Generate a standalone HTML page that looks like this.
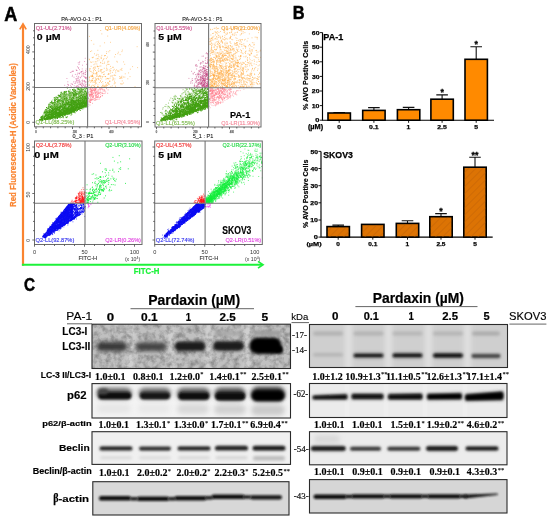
<!DOCTYPE html><html><head><meta charset="utf-8"><style>html,body{margin:0;padding:0;background:#fff;width:550px;height:521px;overflow:hidden}svg{display:block}</style></head><body><svg width="550" height="521" viewBox="0 0 550 521"><defs>
<pattern id="hatch" width="5" height="5" patternUnits="userSpaceOnUse" patternTransform="rotate(45)"><line x1="0" y1="0" x2="0" y2="5" stroke="#bd5f06" stroke-width="0.9"/></pattern>
<filter id="bl10" x="-80%" y="-150%" width="260%" height="400%"><feGaussianBlur stdDeviation="1.0"/></filter><filter id="bl11" x="-80%" y="-150%" width="260%" height="400%"><feGaussianBlur stdDeviation="1.1"/></filter><filter id="bl12" x="-80%" y="-150%" width="260%" height="400%"><feGaussianBlur stdDeviation="1.2"/></filter><filter id="bl13" x="-80%" y="-150%" width="260%" height="400%"><feGaussianBlur stdDeviation="1.3"/></filter><filter id="bl14" x="-80%" y="-150%" width="260%" height="400%"><feGaussianBlur stdDeviation="1.4"/></filter><filter id="bl15" x="-80%" y="-150%" width="260%" height="400%"><feGaussianBlur stdDeviation="1.5"/></filter><filter id="bl16" x="-80%" y="-150%" width="260%" height="400%"><feGaussianBlur stdDeviation="1.6"/></filter><filter id="bl18" x="-80%" y="-150%" width="260%" height="400%"><feGaussianBlur stdDeviation="1.8"/></filter><filter id="bl20" x="-80%" y="-150%" width="260%" height="400%"><feGaussianBlur stdDeviation="2.0"/></filter><filter id="bl25" x="-80%" y="-150%" width="260%" height="400%"><feGaussianBlur stdDeviation="2.5"/></filter><filter id="bl30" x="-80%" y="-150%" width="260%" height="400%"><feGaussianBlur stdDeviation="3.0"/></filter><filter id="nz1" x="0" y="0" width="100%" height="100%"><feTurbulence type="fractalNoise" baseFrequency="0.18" numOctaves="3" seed="4"/><feColorMatrix type="matrix" values="0 0 0 0 0  0 0 0 0 0  0 0 0 0 0  0.6 0 0 0 -0.22"/></filter>
<clipPath id="c92_324"><rect x="92" y="324.2" width="198.5" height="44.30000000000001"/></clipPath><clipPath id="c309_324"><rect x="309.5" y="324.5" width="198.0" height="43.0"/></clipPath><clipPath id="c92_383"><rect x="92" y="383.6" width="198.5" height="34.39999999999998"/></clipPath><clipPath id="c309_383"><rect x="309.5" y="383.5" width="197.5" height="34.0"/></clipPath><clipPath id="c92_431"><rect x="92" y="431.7" width="198.5" height="32.69999999999999"/></clipPath><clipPath id="c309_431"><rect x="309.5" y="431.7" width="197.5" height="33.10000000000002"/></clipPath><clipPath id="c92_481"><rect x="92.8" y="481.7" width="196.2" height="33.30000000000001"/></clipPath><clipPath id="c309_479"><rect x="309.5" y="479.6" width="197.5" height="33.39999999999998"/></clipPath></defs>
<text x="4.15" y="20.90" font-size="19.71" fill="#000" font-weight="bold" font-family="'Liberation Sans', Arial, sans-serif" textLength="13.04" lengthAdjust="spacingAndGlyphs" stroke="#000" stroke-width="0.5">A</text>
<rect x="34.5" y="23.5" width="107.0" height="103.3" fill="#fff"/>
<rect x="155" y="23.5" width="106" height="103.5" fill="#fff"/>
<rect x="34.5" y="141" width="107.5" height="103.5" fill="#fff"/>
<rect x="154.7" y="141" width="107.60000000000002" height="103.5" fill="#fff"/>
<path stroke="#43a012" stroke-width="1" fill="none" d="M78.7 104.6h1M69.4 104.3h1M72.4 97.5h1M48.7 117.7h1M46.5 119.3h1M65.1 113.8h1M81.1 102.7h1M57.7 107.8h1M78.4 99.7h1M68.2 109.9h1M50.6 103.2h1M84.6 91.1h1M82.7 106.1h1M66.5 96.9h1M83.8 100.5h1M66.5 95.9h1M57.2 102.1h1M81.3 100.1h1M85.7 98.5h1M59.7 107.6h1M84.1 104.0h1M78.4 94.7h1M48.6 106.7h1M55.7 111.8h1M82.3 104.2h1M67.0 110.1h1M59.6 113.3h1M77.9 102.7h1M67.7 107.9h1M69.7 103.5h1M75.9 108.5h1M83.1 106.1h1M81.4 92.2h1M40.9 116.7h1M48.2 111.2h1M80.2 104.9h1M55.4 111.7h1M76.0 111.1h1M81.6 106.0h1M48.5 111.3h1M69.9 96.1h1M70.9 110.9h1M77.8 109.5h1M70.4 97.2h1M61.0 112.9h1M71.0 98.4h1M79.1 105.7h1M57.2 109.1h1M75.4 109.5h1M53.5 114.7h1M57.1 109.1h1M73.3 104.1h1M74.1 90.9h1M71.6 92.7h1M75.6 104.2h1M82.3 104.9h1M70.1 109.8h1M75.7 109.2h1M73.8 110.4h1M65.2 107.1h1M57.7 107.1h1M65.5 102.6h1M57.7 104.1h1M60.6 114.5h1M80.6 106.2h1M71.4 111.5h1M64.5 102.2h1M63.9 106.7h1M49.0 111.6h1M63.5 94.3h1M81.5 102.4h1M75.8 106.4h1M47.1 118.3h1M47.0 116.9h1M54.9 113.4h1M63.8 104.5h1M70.1 106.1h1M79.3 98.4h1M65.6 108.6h1M58.8 109.9h1M74.3 110.0h1M78.0 108.9h1M57.4 97.7h1M59.3 110.9h1M47.9 112.6h1M60.6 114.5h1M84.8 100.0h1M54.1 116.3h1M79.0 105.9h1M60.5 114.8h1M69.5 105.7h1M85.5 102.8h1M51.4 115.8h1M59.4 100.9h1M76.3 104.5h1M75.2 108.0h1M60.3 115.4h1M85.5 107.3h1M47.9 116.7h1M39.7 119.6h1M47.9 118.5h1M78.5 107.3h1M71.0 100.3h1M76.3 100.9h1M68.6 114.1h1M68.4 104.6h1M55.2 99.3h1M63.8 111.6h1M80.1 100.4h1M45.4 111.0h1M77.0 109.1h1M77.6 102.1h1M51.9 117.3h1M84.4 102.6h1M52.0 113.5h1M63.9 92.0h1M68.4 113.1h1M74.0 110.1h1M73.5 101.2h1M74.3 95.5h1M60.6 113.0h1M52.1 103.3h1M61.5 110.2h1M67.7 101.0h1M56.8 115.0h1M51.8 116.7h1M85.8 100.2h1M54.5 118.3h1M66.4 104.7h1M65.3 113.6h1M74.4 110.2h1M52.0 110.1h1M75.0 108.0h1M86.4 97.9h1M61.4 97.3h1M68.1 111.0h1M73.4 108.1h1M45.4 115.6h1M86.0 100.2h1M72.6 110.8h1M45.2 119.2h1M55.0 100.3h1M84.3 106.6h1M68.5 108.1h1M74.6 90.6h1M71.8 97.4h1M46.6 119.0h1M86.9 99.4h1M51.8 104.0h1M84.5 105.5h1M84.7 100.7h1M57.1 101.5h1M52.4 110.3h1M48.0 118.8h1M44.1 116.9h1M55.8 109.1h1M46.4 118.9h1M51.2 111.1h1M86.9 95.3h1M52.8 110.3h1M68.2 110.2h1M64.2 92.8h1M68.0 106.4h1M40.7 119.2h1M65.6 101.0h1M83.8 106.2h1M82.4 94.2h1M43.9 117.1h1M55.1 107.9h1M51.6 113.9h1M82.0 106.1h1M86.2 94.7h1M80.8 88.8h1M63.4 105.9h1M73.4 110.4h1M63.3 114.3h1M63.3 111.1h1M60.0 106.8h1M78.5 101.1h1M51.2 116.0h1M63.3 110.1h1M82.8 97.7h1M80.5 103.7h1M69.1 113.7h1M53.0 112.8h1M51.7 114.7h1M45.5 115.6h1M59.7 108.9h1M71.1 112.2h1M53.9 114.2h1M82.2 99.4h1M45.6 119.0h1M85.3 105.3h1M54.4 117.1h1M78.2 99.1h1M59.7 117.8h1M63.7 95.7h1M66.2 104.2h1M69.9 97.4h1M52.8 109.3h1M83.4 103.9h1M66.5 113.8h1M63.8 108.5h1M53.3 105.7h1M41.8 120.1h1M81.9 91.7h1M69.3 102.2h1M63.7 110.4h1M75.7 102.9h1M84.9 105.7h1M73.1 96.8h1M79.1 104.6h1M68.4 102.5h1M45.2 114.2h1M45.0 113.9h1M69.9 109.2h1M83.2 101.4h1M46.8 116.7h1M58.3 114.0h1M51.6 107.7h1M83.8 97.9h1M82.2 101.8h1M72.9 94.8h1M73.6 110.2h1M64.2 106.5h1M63.1 101.0h1M41.4 118.4h1M50.4 109.8h1M64.8 96.3h1M58.8 100.4h1M65.4 95.7h1M73.2 110.3h1M61.2 92.3h1M68.7 104.0h1M86.8 91.1h1M62.8 108.3h1M60.3 113.1h1M85.4 104.4h1M70.8 107.4h1M71.0 106.4h1M66.8 111.6h1M61.4 101.1h1M72.7 101.4h1M57.3 110.6h1M69.8 110.3h1M66.2 108.6h1M45.1 113.1h1M56.5 115.5h1M77.2 107.5h1M67.0 104.3h1M78.7 106.4h1M75.1 90.5h1M53.1 116.0h1M68.5 111.1h1M69.1 104.0h1M50.3 112.4h1M71.5 110.2h1M61.4 112.6h1M61.4 113.6h1M84.7 89.7h1M78.8 103.4h1M54.8 100.2h1M71.9 104.4h1M58.0 109.5h1M77.5 105.9h1M56.1 117.8h1M64.9 114.1h1M55.3 111.4h1M48.2 105.8h1M43.9 118.2h1M62.9 112.1h1M59.4 111.0h1M76.2 107.9h1M52.6 116.3h1M75.5 92.0h1M55.8 112.9h1M86.8 104.9h1M77.4 104.5h1M58.4 109.9h1M69.8 104.5h1M60.8 100.7h1M42.0 119.1h1M59.0 96.7h1M78.0 104.4h1M80.5 100.4h1M54.5 109.8h1M70.7 107.2h1M79.7 90.6h1M62.2 113.7h1M55.2 112.3h1M76.1 107.4h1M57.5 108.8h1M85.7 97.6h1M57.0 109.5h1M79.2 93.9h1M54.6 109.2h1M50.1 117.5h1M63.8 113.5h1M57.3 116.0h1M52.9 115.9h1M57.6 116.7h1M63.8 99.5h1M75.3 102.3h1M73.8 108.8h1M72.8 100.2h1M70.7 110.3h1M51.9 116.1h1M64.7 104.2h1M73.2 112.1h1M64.0 107.4h1M86.2 106.0h1M53.2 114.8h1M53.0 107.7h1M50.0 106.4h1M51.3 114.3h1M62.2 103.5h1M59.8 116.0h1M72.2 106.1h1M56.9 108.1h1M54.8 102.3h1M83.9 93.5h1M82.5 103.7h1M55.8 99.3h1M80.9 95.3h1M55.5 109.8h1M61.1 109.5h1M67.6 100.1h1M72.5 89.8h1M53.8 116.7h1M62.7 97.1h1M78.1 102.3h1M78.0 107.5h1M86.1 95.7h1M84.5 101.4h1M56.3 101.7h1M82.3 95.3h1M55.0 111.8h1M64.9 105.1h1M44.3 111.9h1M83.0 102.1h1M56.1 115.6h1M76.0 97.4h1M61.7 115.4h1M63.1 96.2h1M57.8 117.0h1M78.9 92.3h1M76.2 104.2h1M75.3 110.1h1M53.3 116.9h1M78.8 102.2h1M40.7 119.2h1M62.6 95.8h1M80.1 103.1h1M70.6 94.3h1M75.9 104.3h1M74.8 109.8h1M46.0 117.4h1M51.5 108.8h1M77.7 106.7h1M57.4 107.6h1M64.4 112.2h1M53.4 110.4h1M74.2 94.4h1M66.2 107.1h1M76.8 105.6h1M57.5 105.1h1M67.7 112.7h1M46.6 114.0h1M42.7 116.9h1M87.2 106.2h1M80.1 108.0h1M54.1 111.2h1M80.6 106.7h1M47.7 116.5h1M48.6 117.8h1M56.9 101.4h1M69.1 97.8h1M75.0 101.2h1M63.3 98.0h1M74.9 93.1h1M79.3 107.8h1M60.5 111.6h1M69.5 92.5h1M69.3 97.8h1M62.4 110.2h1M72.6 102.1h1M51.5 118.7h1M86.7 102.6h1M50.7 113.8h1M46.2 112.6h1M87.1 92.0h1M75.3 105.7h1M56.5 108.9h1M76.4 103.5h1M80.6 94.8h1M63.5 110.5h1M80.8 98.2h1M76.3 94.4h1M52.5 103.7h1M53.2 103.8h1M82.8 105.5h1M60.8 98.4h1M81.4 98.2h1M63.7 108.4h1M65.3 111.0h1M73.2 106.4h1M82.2 96.7h1M48.3 116.3h1M55.3 105.2h1M73.0 96.7h1M75.0 102.8h1M76.7 107.1h1M50.3 107.1h1M74.5 98.3h1M69.7 108.6h1M74.7 102.0h1M54.9 115.2h1M69.3 92.1h1M59.0 115.0h1M83.8 99.9h1M64.7 111.7h1M70.8 103.1h1M51.2 116.6h1M40.2 119.6h1M47.8 114.1h1M51.5 102.6h1M75.1 94.8h1M60.4 115.4h1M84.1 96.6h1M57.8 115.3h1M61.5 106.7h1M82.4 98.9h1M58.8 115.9h1M57.9 102.1h1M60.6 105.0h1M51.9 113.0h1M76.7 91.4h1M60.4 96.0h1M45.7 118.9h1M65.6 102.2h1M76.9 105.9h1M77.5 101.8h1M71.3 104.7h1M57.4 100.8h1M82.0 104.9h1M62.1 115.4h1M52.0 106.0h1M48.4 115.1h1M73.9 110.9h1M68.3 91.7h1M62.7 111.9h1M58.0 101.6h1M57.2 114.9h1M78.5 108.3h1M77.8 96.6h1M59.5 114.4h1M69.3 113.1h1M82.1 96.7h1M81.4 98.8h1M59.7 107.6h1M67.3 110.1h1M80.3 107.1h1M69.0 96.1h1M48.7 118.6h1M47.5 118.7h1M68.4 95.1h1M52.9 113.9h1M61.2 112.2h1M59.1 110.6h1M65.6 103.3h1M82.4 89.6h1M84.2 94.4h1M69.3 110.2h1M85.1 106.4h1M84.8 96.3h1M84.2 103.4h1M58.2 107.5h1M62.8 117.7h1M49.7 109.7h1M60.6 106.0h1M65.5 109.3h1M74.5 103.1h1M64.0 98.5h1M82.9 103.2h1M81.7 104.0h1M45.0 112.2h1M53.6 113.9h1M54.0 106.4h1M65.7 93.2h1M48.3 117.1h1M51.6 112.0h1M60.5 115.7h1M73.3 104.0h1M61.9 106.2h1M84.2 98.3h1M57.0 118.5h1M86.1 101.1h1M42.6 116.2h1M50.9 112.1h1M72.3 98.3h1M65.0 115.0h1M71.9 110.7h1M54.6 113.8h1M81.2 102.7h1M84.3 103.3h1M71.2 101.5h1M69.1 98.5h1M78.6 105.4h1M63.9 94.3h1M60.5 92.4h1M49.9 107.6h1M69.0 93.0h1M86.3 103.7h1M80.5 105.1h1M41.7 119.9h1M69.1 104.8h1M66.0 113.3h1M69.6 112.0h1M83.2 106.6h1M63.4 100.5h1M71.4 110.3h1M67.1 108.8h1M50.5 116.9h1M41.0 117.3h1M65.9 98.9h1M74.6 92.8h1M78.3 95.6h1M64.6 111.9h1M54.5 105.6h1M54.8 116.3h1M73.7 111.9h1M85.0 102.2h1M61.7 104.1h1M52.3 116.1h1M76.9 103.7h1M55.3 112.2h1M71.6 111.4h1M73.4 103.6h1M72.4 99.1h1M51.2 116.3h1M62.1 108.4h1M79.4 100.5h1M56.0 104.6h1M54.0 112.9h1M47.9 114.5h1M57.5 112.1h1M65.2 113.7h1M56.5 99.7h1M68.5 111.6h1M58.7 107.1h1M71.5 112.1h1M50.8 118.0h1M81.3 102.2h1M48.8 112.9h1M49.0 113.1h1M54.5 106.0h1M78.9 109.0h1M49.8 102.5h1M86.0 93.6h1M72.1 97.7h1M77.9 101.8h1M60.1 94.5h1M66.3 113.5h1M59.3 113.7h1M81.8 99.9h1M71.5 108.2h1M81.0 94.4h1M46.8 117.3h1M75.5 108.1h1M53.1 107.0h1M59.6 115.5h1M55.7 97.0h1M70.6 111.3h1M58.3 115.4h1M65.1 113.5h1M78.7 107.6h1M53.8 114.3h1M58.0 100.3h1M74.2 106.4h1M54.0 108.0h1M74.2 94.8h1M70.2 107.8h1M54.6 111.9h1M44.5 116.6h1M56.6 115.4h1M85.6 94.5h1M77.2 100.0h1M83.3 103.3h1M66.8 114.6h1M75.1 109.8h1M69.4 110.6h1M66.5 111.0h1M86.8 104.4h1M63.2 113.5h1M73.1 109.9h1M84.7 93.8h1M71.4 100.3h1M62.6 110.0h1M69.1 106.9h1M63.6 96.6h1M73.7 102.3h1M83.1 98.1h1M72.2 111.6h1M57.2 102.5h1M47.4 110.8h1M55.9 109.6h1M76.0 107.5h1M65.9 109.2h1M67.9 108.6h1M58.6 101.0h1M82.9 101.9h1M85.8 103.7h1M74.9 95.6h1M85.8 105.8h1M50.5 115.5h1M45.6 112.1h1M49.2 111.0h1M86.7 104.0h1M84.4 88.6h1M54.8 98.7h1M51.5 112.7h1M87.0 97.1h1M68.2 91.0h1M68.2 92.0h1M58.8 106.5h1M57.9 104.8h1M79.7 110.5h1M78.3 109.0h1M52.1 110.0h1M72.6 107.5h1M79.2 104.5h1M46.4 117.9h1M76.8 88.4h1M59.2 109.2h1M51.4 116.9h1M53.4 108.3h1M55.7 104.6h1M64.4 110.4h1M68.9 95.5h1M69.3 109.2h1M52.7 117.3h1M84.2 101.2h1M44.0 119.5h1M59.3 96.2h1M70.7 113.2h1M81.4 99.5h1M76.1 105.3h1M87.0 107.9h1M84.8 98.2h1M55.2 107.9h1M71.0 112.2h1M60.3 112.6h1M55.2 102.6h1M62.5 109.1h1M87.2 98.0h1M59.8 114.0h1M58.9 111.8h1M56.5 112.5h1M75.4 105.2h1M59.1 113.5h1M68.7 107.1h1M81.7 106.7h1M71.9 109.8h1M72.5 102.6h1M67.0 109.5h1M81.4 108.0h1M56.2 116.2h1M47.6 114.1h1M46.5 119.0h1M62.2 100.3h1M59.7 111.3h1M59.6 109.1h1M55.5 115.4h1M66.3 107.8h1M70.3 112.6h1M85.5 98.1h1M65.6 98.9h1M42.6 117.8h1M65.3 113.2h1M65.1 95.0h1M73.3 109.0h1M65.1 102.4h1M80.3 95.6h1M70.9 112.0h1M67.6 103.7h1M51.5 116.8h1M64.6 111.5h1M67.2 107.2h1M69.1 106.4h1M66.5 111.4h1M72.8 109.7h1M43.9 118.2h1M73.1 109.4h1M63.2 108.2h1M56.0 115.6h1M74.1 102.9h1M70.2 100.0h1M78.1 105.0h1M57.0 101.8h1M48.1 112.0h1M64.7 111.0h1M56.6 97.6h1M50.3 110.8h1M49.6 116.6h1M81.3 106.4h1M81.4 106.2h1M60.4 115.8h1M45.8 118.2h1M61.7 99.7h1M69.1 112.0h1M63.1 112.7h1M46.7 109.9h1M72.2 108.8h1M54.5 117.2h1M50.4 116.0h1M49.8 119.1h1M49.2 112.1h1M53.6 112.7h1M68.0 102.0h1M74.5 105.9h1M81.3 95.7h1M51.2 107.6h1M61.1 107.7h1M53.3 102.6h1M47.5 111.4h1M64.5 109.9h1M65.0 108.5h1M65.4 109.1h1M73.0 102.1h1M71.1 110.6h1M46.1 110.6h1M72.0 89.5h1M51.5 112.0h1M80.3 105.5h1M56.9 109.8h1M67.0 108.5h1M79.9 99.7h1M54.9 115.7h1M66.5 105.7h1M48.7 116.5h1M48.9 111.2h1M50.5 116.8h1M71.5 107.0h1M65.9 102.0h1M60.2 106.6h1M58.9 112.7h1M65.5 113.7h1M56.5 113.2h1M84.8 98.4h1M49.0 110.6h1M69.2 109.2h1M74.4 89.5h1M56.4 113.7h1M84.6 92.1h1M62.6 105.5h1M87.1 102.9h1M52.2 116.6h1M57.9 99.6h1M78.1 99.8h1M72.9 106.3h1M58.6 114.8h1M63.8 96.2h1M58.4 113.6h1M58.1 95.6h1M74.5 102.3h1M80.1 101.7h1M81.1 106.5h1M59.8 114.3h1M86.6 104.8h1M76.9 110.6h1M83.0 102.3h1M59.8 111.3h1M70.2 104.3h1M78.8 102.2h1M41.3 118.1h1M78.0 101.4h1M64.7 91.6h1M55.9 108.9h1M45.1 115.5h1M81.8 99.9h1M77.8 100.3h1M85.0 95.0h1M44.6 110.4h1M57.3 100.1h1M58.2 115.7h1M48.1 111.2h1M68.4 102.6h1M65.0 101.2h1M79.8 92.2h1M81.8 107.1h1M54.2 104.8h1M42.2 119.8h1M86.1 96.8h1M79.5 96.9h1M73.5 94.1h1M83.9 105.3h1M72.1 100.5h1M72.7 101.5h1M83.9 102.1h1M75.8 93.5h1M65.5 105.0h1M73.5 111.3h1M58.6 106.9h1M73.2 104.9h1M81.2 104.6h1M74.9 102.5h1M62.3 112.5h1M68.1 107.1h1M75.0 104.2h1M50.3 118.1h1M60.4 108.7h1M71.3 112.1h1M79.7 90.5h1M81.5 98.1h1M55.9 108.1h1M80.0 92.7h1M58.7 116.5h1M80.5 98.3h1M68.7 93.8h1M51.3 117.7h1M84.6 96.4h1M47.0 119.0h1M78.1 103.5h1M64.5 114.8h1M57.9 116.2h1M55.2 111.7h1M69.2 92.7h1M55.9 114.8h1M54.6 99.9h1M84.6 102.1h1M48.4 116.3h1M82.8 103.5h1M45.7 112.0h1M70.3 107.6h1M75.0 107.4h1M84.1 106.7h1M67.6 110.9h1M50.2 106.3h1M49.8 109.9h1M68.2 110.6h1M55.2 107.9h1M58.9 112.3h1M76.1 94.1h1M78.2 100.9h1M57.0 105.8h1M59.9 116.8h1M60.3 106.9h1M44.2 116.2h1M59.2 116.1h1M49.6 118.0h1M50.3 107.7h1M52.3 107.7h1M62.2 112.3h1M53.6 108.9h1M69.6 110.3h1M65.8 109.8h1M83.8 96.2h1M83.1 95.4h1M72.8 101.8h1M57.2 106.4h1M73.9 105.9h1M60.4 96.9h1M55.5 113.0h1M72.5 111.3h1M50.7 110.9h1M71.1 104.1h1M47.2 115.7h1M87.3 98.8h1M86.3 105.0h1M53.9 109.2h1M46.7 113.2h1M69.9 102.7h1M55.2 107.8h1M84.7 104.2h1M82.3 97.0h1M57.8 115.0h1M71.6 103.9h1M62.6 105.6h1M60.0 103.9h1M57.3 110.1h1M71.0 110.3h1M62.1 109.4h1M66.4 114.4h1M86.1 101.2h1M64.7 113.1h1M63.3 113.5h1M78.8 107.6h1M62.4 104.2h1M50.4 115.0h1M59.5 111.1h1M85.8 96.6h1M67.8 108.3h1M80.1 108.4h1M64.4 107.2h1M71.8 92.8h1M57.1 114.1h1M66.1 117.6h1M78.8 100.2h1M81.5 91.8h1M55.0 106.9h1M49.3 112.5h1M79.1 89.4h1M57.3 108.0h1M79.3 95.9h1M80.0 97.9h1M85.7 103.4h1M79.2 107.1h1M84.0 106.2h1M79.0 108.6h1M49.0 104.1h1M52.4 110.2h1M81.7 107.2h1M78.6 106.2h1M72.9 95.9h1M69.7 101.7h1M45.3 109.7h1M82.3 101.2h1M69.5 99.8h1M77.4 103.0h1M86.5 93.9h1M50.9 113.7h1M79.3 107.6h1M76.0 95.8h1M43.2 118.3h1M82.9 102.5h1M73.3 110.9h1M83.8 99.5h1M79.7 106.5h1M74.2 108.0h1M69.4 112.1h1M67.4 111.5h1M55.2 117.1h1M73.4 92.3h1M54.7 114.3h1M71.2 112.7h1M62.8 104.9h1M85.5 101.8h1M75.6 110.1h1M81.2 103.8h1M50.9 118.4h1M83.5 98.2h1M63.8 91.8h1M79.6 88.9h1M56.8 104.1h1M53.5 109.1h1M50.4 113.8h1M50.1 118.1h1M52.3 102.9h1M67.0 103.5h1M68.7 96.1h1M64.4 103.2h1M84.4 96.4h1M72.9 104.4h1M54.3 107.3h1M84.6 97.7h1M75.1 107.6h1M75.7 100.8h1M59.1 112.7h1M67.7 99.4h1M65.8 98.5h1M48.7 115.1h1M70.4 94.9h1M66.6 112.1h1M70.2 112.1h1M70.2 93.5h1M74.4 108.2h1M54.7 108.9h1M55.4 111.6h1M66.5 112.9h1M68.6 110.9h1M52.6 117.5h1M74.3 108.0h1M67.6 111.6h1M76.5 100.1h1M62.7 114.7h1M54.5 102.9h1M44.7 119.7h1M79.1 105.3h1M80.3 104.5h1M75.1 108.8h1M57.0 109.1h1M56.1 108.6h1M50.9 113.9h1M64.9 113.0h1M62.2 114.5h1M59.6 113.7h1M60.0 113.5h1M60.5 114.1h1M72.8 94.2h1M64.8 112.5h1M87.2 92.4h1M85.3 102.8h1M73.8 93.7h1M76.5 104.3h1M62.6 109.2h1M62.7 116.5h1M76.0 94.0h1M79.1 104.8h1M58.4 109.7h1M80.5 101.5h1M71.4 96.1h1M74.1 96.1h1M46.7 115.5h1M85.2 106.1h1M74.6 107.7h1M80.8 93.4h1M83.4 107.8h1M82.9 94.8h1M70.9 107.7h1M64.9 112.5h1M76.5 98.5h1M53.1 117.5h1M55.4 108.2h1M75.3 97.8h1M73.8 105.0h1M53.9 116.9h1M68.6 94.8h1M63.2 113.9h1M73.4 100.3h1M48.0 107.2h1M56.7 105.1h1M75.8 100.9h1M54.1 99.2h1M65.1 99.5h1M41.8 120.8h1M79.7 95.3h1M73.7 91.7h1M51.0 102.7h1M73.2 94.4h1M50.8 106.4h1M65.3 106.3h1M41.0 120.0h1M82.0 102.6h1M58.9 114.3h1M75.9 102.4h1M69.5 109.9h1M72.8 104.0h1M67.9 102.3h1M84.3 91.2h1M50.2 117.9h1M39.6 119.3h1M73.1 97.9h1M56.0 106.3h1M80.6 106.3h1M61.7 94.1h1M44.4 118.6h1M64.8 114.2h1M73.8 108.6h1M71.5 103.1h1M51.4 106.3h1M58.3 113.7h1M52.2 109.6h1M72.7 108.8h1M86.4 101.3h1M83.5 107.1h1M45.3 109.8h1M42.4 118.8h1M76.2 99.5h1M68.0 109.4h1M56.4 113.9h1M71.9 108.3h1M68.4 91.5h1M52.6 115.3h1M60.2 115.7h1M49.1 117.9h1M70.6 110.0h1M49.9 111.8h1M54.5 107.0h1M73.6 111.4h1M84.5 91.2h1M60.4 111.4h1M62.4 93.6h1M64.4 99.3h1M66.6 112.2h1M84.2 103.2h1M77.4 106.2h1M79.3 102.2h1M66.3 98.1h1M62.5 96.7h1M75.7 108.4h1M74.3 96.4h1M70.8 104.8h1M51.4 108.1h1M70.6 110.2h1M77.4 89.7h1M79.7 102.1h1M49.3 117.5h1M50.8 113.2h1M49.5 112.6h1M64.0 105.0h1M58.5 115.5h1M60.3 96.7h1M69.9 98.1h1M85.4 101.8h1M56.7 109.4h1M55.6 106.0h1M73.2 101.7h1M82.9 106.0h1M68.7 112.5h1M70.9 98.8h1M80.2 99.6h1M70.2 99.3h1M57.3 106.8h1M57.5 113.3h1M66.2 110.5h1M73.8 104.4h1M46.6 111.6h1M55.6 99.6h1M78.6 103.8h1M83.1 107.2h1M61.8 115.1h1M79.4 105.8h1M66.3 109.8h1M58.5 109.7h1M69.9 108.7h1M72.9 106.9h1M67.0 100.3h1M61.3 110.3h1M48.8 114.7h1M47.5 118.5h1M45.6 115.0h1M49.1 114.5h1M73.2 106.9h1M61.2 114.8h1M82.3 105.0h1M67.6 103.8h1M80.7 89.2h1M61.8 111.7h1M55.1 113.6h1M53.7 112.9h1M72.2 107.0h1M50.5 113.2h1M66.4 94.1h1M51.0 117.2h1M77.9 88.4h1M66.3 110.4h1M71.6 108.1h1M57.2 114.8h1M79.0 108.5h1M74.5 105.2h1M62.5 108.0h1M55.1 115.1h1M48.7 111.5h1M61.8 114.0h1M76.7 93.6h1M74.1 110.3h1M66.0 112.6h1M68.9 108.9h1M78.2 104.6h1M66.2 91.4h1M71.8 100.3h1M76.1 105.2h1M66.0 100.3h1M67.6 113.7h1M85.9 103.8h1M52.8 113.4h1M65.6 109.9h1M84.7 91.5h1M51.9 118.8h1M72.9 101.3h1M57.1 116.8h1M56.1 112.3h1M52.8 116.8h1M72.3 107.5h1M84.7 98.4h1M65.8 97.5h1M71.8 109.1h1M81.3 101.2h1M80.4 90.5h1M54.9 114.8h1M61.0 106.1h1M39.4 120.3h1M58.6 116.3h1M60.1 112.0h1M85.3 98.9h1M80.5 104.1h1M71.8 93.7h1M83.5 100.5h1M79.4 105.5h1M79.0 106.2h1M59.8 110.5h1M70.4 112.7h1M76.8 101.0h1M41.7 116.6h1M73.6 106.1h1M84.6 99.7h1M73.5 112.5h1M60.4 101.3h1M81.3 103.6h1M48.9 109.9h1M71.5 100.6h1M80.4 103.1h1M64.7 114.1h1M61.4 103.2h1M77.7 97.5h1M48.4 114.9h1M49.8 118.0h1M46.1 114.3h1M44.6 115.4h1M60.6 93.5h1M68.6 109.5h1M75.5 106.3h1M67.0 104.1h1M66.0 111.1h1M66.9 111.3h1M81.0 105.5h1M77.7 101.7h1M59.0 105.1h1M85.6 97.9h1M71.9 111.0h1M46.2 113.5h1M53.0 116.1h1M86.0 95.7h1M57.1 107.9h1M58.2 109.6h1M47.8 108.6h1M74.6 112.8h1M63.5 111.5h1M85.9 88.0h1M53.4 110.9h1M49.8 114.5h1M86.7 93.8h1M47.1 118.0h1M72.4 109.6h1M68.7 93.5h1M76.8 107.5h1M79.0 104.0h1M83.9 105.7h1M48.4 108.8h1M76.1 104.7h1M53.0 116.1h1M51.3 115.0h1M81.5 94.9h1M71.7 107.5h1M80.5 102.5h1M78.2 100.2h1M69.8 105.1h1M54.3 104.3h1M43.3 113.1h1M53.8 104.4h1M73.1 103.2h1M81.3 107.5h1M67.7 107.4h1M47.7 112.6h1M70.1 97.3h1M63.6 114.5h1M71.1 103.4h1M54.5 114.0h1M76.4 98.2h1M55.3 99.2h1M65.4 107.2h1M48.8 118.8h1M77.4 99.8h1M53.6 106.9h1M84.1 105.2h1M71.9 106.4h1M58.0 95.7h1M84.5 104.3h1M70.6 105.8h1M48.4 117.6h1M84.7 103.2h1M70.3 112.0h1M85.4 104.8h1M73.7 100.6h1M44.9 113.9h1M60.6 114.0h1M46.8 108.5h1M69.5 109.9h1M66.2 103.3h1M58.6 117.4h1M85.6 98.1h1M81.7 107.1h1M85.8 105.6h1M73.4 98.0h1M49.4 106.2h1M85.0 106.0h1M40.6 117.2h1M71.0 111.3h1M54.9 117.3h1M79.5 98.3h1M81.9 103.3h1M70.9 103.7h1M78.8 107.1h1M51.1 114.4h1M70.0 111.7h1M71.3 102.6h1M63.5 104.1h1M73.0 95.5h1M61.6 111.9h1M61.0 115.4h1M53.8 117.2h1M71.8 111.9h1M45.8 118.2h1M63.8 104.8h1M76.2 101.1h1M73.0 107.6h1M48.7 110.5h1M52.3 111.6h1M74.7 110.3h1M76.9 107.3h1M81.4 93.3h1M71.9 107.9h1M65.9 110.7h1M50.4 112.1h1M47.9 118.3h1M58.6 102.0h1M58.1 110.4h1M65.6 110.9h1M49.1 111.0h1M61.7 105.8h1M73.2 110.8h1M80.5 91.3h1M61.5 115.3h1M71.8 99.4h1M69.8 102.4h1M60.5 112.2h1M66.8 116.8h1M63.5 111.0h1M71.3 110.5h1M82.8 100.1h1M52.4 109.8h1M60.2 105.5h1M59.6 114.0h1M85.7 100.1h1M75.3 92.0h1M48.4 117.3h1M41.8 117.2h1M86.3 100.3h1M57.7 95.8h1M84.3 103.3h1M57.5 112.4h1M55.6 113.6h1M74.2 104.9h1M86.1 95.8h1M69.5 112.8h1M81.5 89.4h1M63.6 107.9h1M76.2 100.7h1M53.7 104.1h1M72.1 105.7h1M73.0 95.0h1M64.6 104.4h1M59.3 110.3h1M65.1 98.6h1M57.5 114.9h1M56.8 106.4h1M49.7 119.1h1M73.1 109.8h1M63.4 112.1h1M59.0 110.2h1M52.5 115.8h1M59.0 107.6h1M70.6 111.8h1M45.8 118.5h1M65.4 104.3h1M71.1 101.5h1M65.1 102.7h1M65.1 100.6h1M67.3 109.1h1M67.7 107.9h1M73.6 110.9h1M72.2 103.5h1M76.8 104.7h1M41.2 118.9h1M85.4 103.9h1M69.2 113.4h1M48.0 118.8h1M71.5 105.6h1M49.6 116.7h1M62.2 101.8h1M50.9 111.7h1M78.5 108.6h1M43.1 117.2h1M80.5 91.0h1M72.6 89.8h1M75.2 108.1h1M84.6 92.3h1M78.0 96.7h1M58.1 112.2h1M39.7 119.5h1M59.5 111.8h1M42.4 115.7h1M70.1 97.1h1M61.9 113.0h1M78.8 91.5h1M62.5 107.0h1M62.0 107.3h1M82.0 104.0h1M56.4 107.1h1M64.7 92.4h1M57.3 105.6h1M84.6 104.9h1M44.0 118.4h1M84.9 95.0h1M87.1 93.4h1M73.4 97.9h1M80.4 90.2h1M61.6 115.2h1M51.8 110.4h1M77.6 108.9h1M79.5 91.7h1M71.2 100.0h1M72.7 111.3h1M70.9 109.5h1M72.8 98.8h1M49.6 114.2h1M67.6 105.8h1M51.8 116.0h1M77.1 103.2h1M51.1 118.4h1M59.0 116.9h1M77.0 104.9h1M83.1 94.2h1M86.4 106.3h1M75.1 100.4h1M74.9 110.2h1M70.2 95.1h1M54.8 115.6h1M55.3 117.1h1M59.4 101.9h1M78.7 91.2h1M77.8 97.7h1M70.8 103.9h1M85.8 98.9h1M73.9 108.6h1M75.0 94.0h1M59.2 112.9h1M86.1 104.4h1M70.9 103.3h1M68.2 102.1h1M85.2 91.5h1M48.4 108.1h1M69.6 95.9h1M57.7 114.1h1M60.9 106.5h1M74.8 102.2h1M87.0 103.4h1M73.4 109.4h1M68.3 95.0h1M45.2 115.5h1M77.3 107.4h1M45.8 119.2h1M71.7 92.4h1M54.1 101.3h1M62.1 116.1h1M53.2 116.6h1M59.4 114.0h1M69.1 106.1h1M48.3 111.9h1M74.2 110.7h1M72.4 109.3h1M62.3 98.7h1M46.8 115.7h1M49.4 107.8h1M68.7 105.1h1M86.3 97.4h1M79.3 96.2h1M50.8 115.0h1M73.2 104.5h1M86.0 101.6h1M62.6 104.2h1M77.3 106.5h1M51.7 108.1h1M61.5 114.9h1M57.9 115.6h1M58.8 116.0h1M61.8 101.5h1M70.5 115.1h1M59.2 96.0h1M59.4 115.1h1M71.4 99.0h1M83.4 92.2h1M62.1 113.5h1M70.2 112.0h1M63.5 113.5h1M73.0 108.3h1M52.8 112.6h1M82.9 102.5h1M59.3 96.1h1M58.8 112.5h1M52.5 116.7h1M60.6 114.5h1M63.3 111.0h1M53.1 119.0h1M59.0 107.9h1M84.8 102.8h1M47.0 112.5h1M57.0 117.6h1M65.4 117.1h1M80.0 95.2h1M54.1 114.5h1M51.1 111.3h1M85.9 99.2h1M68.1 113.3h1M44.3 118.5h1M85.4 102.9h1M70.9 110.8h1M49.0 116.3h1M81.8 90.8h1M59.3 110.6h1M83.9 95.1h1M60.8 114.0h1M45.1 115.8h1M80.5 91.2h1M65.1 113.8h1M74.5 96.2h1M71.3 114.2h1M55.6 112.0h1M40.5 117.7h1M54.0 107.5h1M59.6 96.3h1M57.7 101.1h1M76.7 110.4h1M56.2 103.6h1M81.1 108.6h1M51.5 113.8h1M44.4 118.8h1M64.4 112.8h1M63.7 103.9h1M59.0 99.8h1M57.9 104.0h1M65.0 104.1h1M56.7 116.8h1M39.3 119.6h1M54.1 99.6h1M56.4 114.5h1M64.2 110.8h1M57.0 98.1h1M48.8 111.3h1M55.2 115.1h1M41.8 118.9h1M79.9 95.9h1M65.5 94.5h1M86.3 102.4h1M45.3 115.8h1M63.7 112.4h1M66.9 88.0h1M45.5 116.7h1M51.6 118.1h1M63.2 111.4h1M54.3 102.5h1M46.2 115.3h1M52.1 113.6h1M82.2 104.2h1M54.9 110.5h1M64.3 110.5h1M44.5 112.2h1M63.9 115.2h1M50.6 118.1h1M49.0 116.5h1M71.2 95.2h1M53.2 114.3h1M73.5 101.0h1M70.1 99.6h1M74.2 101.6h1M69.6 89.9h1M55.7 108.6h1M68.3 101.4h1M70.9 110.3h1M54.3 108.2h1M41.0 119.3h1M52.5 106.6h1M64.9 111.3h1M60.4 115.2h1M62.9 101.6h1M51.8 115.8h1M73.4 91.0h1M60.0 115.4h1M54.4 112.6h1M64.3 111.7h1M56.1 113.2h1M60.5 94.8h1M47.5 118.6h1M44.3 116.8h1M71.9 105.9h1M48.6 114.7h1M48.2 104.3h1M63.6 113.7h1M43.6 118.8h1M80.7 103.4h1M46.9 115.0h1M54.5 99.2h1M67.2 100.9h1M52.1 111.9h1M54.5 117.9h1M76.1 106.7h1M80.7 106.1h1M87.2 104.6h1M83.9 91.2h1M61.3 100.3h1M84.1 103.9h1M57.9 113.3h1M70.4 104.8h1M84.5 104.6h1M83.0 89.2h1M57.7 115.4h1M50.6 117.5h1M66.8 112.9h1M48.1 115.5h1M44.9 118.9h1M72.6 111.4h1M56.8 109.8h1M48.3 117.3h1M45.8 109.4h1M72.4 108.8h1M63.2 102.6h1M83.9 103.3h1M62.1 97.9h1M55.3 117.4h1M67.7 110.7h1M81.8 101.5h1M57.9 112.4h1M81.6 103.4h1M80.0 108.5h1M44.1 112.6h1M63.0 107.0h1M45.1 119.9h1M79.7 108.8h1M66.0 102.9h1M66.6 111.2h1M75.4 109.8h1M65.3 114.0h1M79.4 96.5h1M64.1 107.3h1M76.4 105.6h1M55.5 97.4h1M58.4 108.7h1M83.2 104.0h1M71.6 93.2h1M63.5 109.2h1M59.3 96.3h1M86.1 100.8h1M80.7 103.4h1M79.1 104.3h1M49.1 113.9h1M55.5 112.1h1M72.0 110.8h1M49.6 118.1h1M65.8 109.2h1M60.2 99.6h1M63.4 114.9h1M57.5 113.6h1M81.8 97.2h1M64.1 111.0h1M79.5 103.7h1M87.2 98.2h1M70.9 103.0h1M69.8 101.7h1M64.8 97.2h1M58.5 114.7h1M56.5 107.1h1M82.1 100.0h1M78.1 89.5h1M75.5 107.8h1M66.2 113.5h1M45.2 114.4h1M73.7 106.8h1M76.8 100.0h1M68.2 104.0h1M64.9 99.1h1M58.2 114.6h1M63.9 93.4h1M65.1 114.7h1M46.1 115.7h1M70.9 105.3h1M70.9 105.5h1M84.0 104.2h1M69.9 102.5h1M59.1 110.6h1M84.9 106.0h1M59.4 103.6h1M55.8 108.9h1M68.1 104.2h1M54.3 116.3h1M40.7 117.8h1M68.0 114.0h1M48.3 106.5h1M44.1 117.0h1M85.7 103.2h1M83.2 101.0h1M67.9 112.7h1M84.7 97.6h1M54.7 108.1h1M57.2 113.1h1M72.6 90.3h1M54.0 100.5h1M58.9 95.4h1M64.3 98.4h1M86.0 88.5h1M74.9 92.2h1M76.2 102.8h1M83.1 103.4h1M52.1 108.6h1M65.8 91.7h1M86.0 95.8h1M74.3 103.8h1M57.4 101.9h1M76.7 103.5h1M66.8 112.7h1M40.3 119.9h1M63.2 99.4h1M70.3 109.3h1M70.9 105.4h1M59.2 115.1h1M82.5 95.6h1M58.3 109.5h1M77.6 99.9h1M51.2 101.2h1M74.5 99.4h1M53.6 111.4h1M49.7 114.6h1M50.7 110.3h1M66.6 94.7h1M44.3 116.3h1M77.8 102.2h1M54.7 116.4h1M78.3 109.4h1M73.2 108.8h1M76.6 97.2h1M67.0 111.6h1M86.1 102.7h1M66.6 108.9h1M69.5 112.4h1M61.9 112.6h1M73.8 104.8h1M67.0 108.9h1M56.0 104.5h1M83.9 104.5h1M63.8 107.9h1M50.9 105.3h1M73.1 111.2h1M66.2 113.4h1M45.5 116.8h1M54.8 118.9h1M76.6 109.3h1M69.8 92.3h1M55.5 113.0h1M60.5 98.1h1M78.5 93.4h1M46.9 115.1h1M72.6 93.5h1M80.5 103.5h1M84.6 97.4h1M74.3 109.7h1M82.6 92.3h1M80.5 96.8h1M41.3 120.0h1M77.7 108.4h1M51.5 108.2h1M83.1 99.0h1M70.8 102.0h1M55.8 112.1h1M74.4 107.9h1M62.2 102.4h1M47.7 117.8h1M73.5 91.7h1M79.1 100.8h1M82.6 100.7h1M56.9 103.1h1M44.3 113.1h1M71.8 108.7h1M69.1 104.2h1M66.8 98.7h1M81.9 107.1h1M64.5 91.8h1M57.7 112.3h1M44.5 114.0h1M84.8 103.3h1M56.0 110.4h1M79.9 96.2h1M72.4 100.6h1M53.1 117.4h1M57.4 117.5h1M59.4 106.3h1M79.1 108.5h1M68.5 111.5h1M46.0 107.5h1M80.0 104.1h1M62.7 109.9h1M65.2 105.9h1M55.5 110.4h1M75.2 107.4h1M78.7 91.8h1M63.8 98.0h1M63.6 110.3h1M81.4 94.5h1M64.3 109.4h1M74.6 92.5h1M53.2 112.4h1M52.1 111.6h1M79.9 106.7h1M55.1 112.0h1M77.5 108.4h1M54.7 100.9h1M77.5 94.2h1M69.6 109.8h1M59.1 108.5h1M73.9 102.4h1M56.3 113.0h1M77.8 99.9h1M87.1 88.7h1M73.4 109.8h1M71.0 108.5h1M47.8 117.3h1M41.9 119.3h1M79.8 96.8h1M76.7 107.0h1M80.2 98.2h1M83.1 106.3h1M69.1 112.4h1M52.1 110.6h1M84.4 105.7h1M69.4 110.7h1M75.7 106.8h1M51.8 114.9h1M55.0 114.8h1M59.8 104.2h1M77.9 98.1h1M70.5 113.0h1M53.1 114.2h1M76.5 93.2h1M52.8 111.6h1M75.1 105.0h1M70.1 104.9h1M50.8 110.3h1M55.4 110.2h1M45.7 118.2h1M62.1 110.0h1M79.6 100.2h1M82.3 108.9h1M72.8 101.0h1M67.3 102.6h1M80.7 108.6h1M75.1 101.7h1M74.8 106.4h1M57.2 112.0h1M51.4 108.4h1M48.8 112.3h1M72.8 107.7h1M74.1 101.3h1M62.9 102.0h1M73.3 106.6h1M48.9 109.6h1M48.6 118.9h1M60.8 111.7h1M86.7 101.3h1M55.2 114.4h1M82.6 89.8h1M78.6 93.3h1M71.3 108.9h1M61.6 104.4h1M67.3 104.6h1M63.6 107.2h1M59.2 103.2h1M46.2 111.5h1M50.8 114.5h1M54.4 109.8h1M69.2 106.9h1M69.2 99.7h1M87.1 97.3h1M55.6 116.7h1M69.7 108.8h1M78.0 102.3h1M59.0 109.6h1M57.3 97.8h1M81.7 99.8h1M70.0 100.0h1M69.6 108.4h1M72.6 107.1h1M63.1 97.8h1M44.8 112.9h1M63.6 114.2h1M72.2 108.2h1M82.0 105.1h1M52.6 109.6h1M74.5 110.2h1M54.1 111.5h1M86.0 97.6h1M68.5 110.8h1M58.6 111.9h1M72.5 101.8h1M60.9 110.3h1M85.0 104.1h1M60.8 102.1h1M68.2 102.8h1M52.3 114.6h1M70.3 111.6h1M72.0 102.7h1M70.7 109.6h1M75.1 103.7h1M54.7 103.7h1M79.4 107.7h1M75.0 110.8h1M77.5 94.2h1M52.8 103.1h1M44.7 111.9h1M77.4 97.4h1M79.7 107.7h1M57.8 101.9h1M57.8 113.3h1M53.7 105.2h1M45.7 113.5h1M86.7 104.8h1M72.9 111.4h1M72.6 93.4h1M63.7 115.2h1M86.2 97.4h1M83.8 105.7h1M57.4 114.2h1M63.1 112.3h1M67.5 97.9h1M51.5 115.8h1M86.1 92.6h1M69.0 93.2h1M68.6 102.3h1M49.6 104.6h1M70.4 100.2h1M77.0 110.0h1M82.1 103.5h1M47.9 118.9h1M81.7 104.5h1M85.2 106.8h1M68.7 113.0h1M54.8 115.8h1M80.8 108.3h1M82.9 96.2h1M62.9 94.1h1M69.9 109.8h1M66.1 109.1h1M43.8 112.1h1M79.1 103.6h1M79.4 98.4h1M45.0 119.2h1M77.0 103.8h1M44.6 119.1h1M52.3 116.3h1M75.8 94.7h1M41.3 120.3h1M64.1 99.8h1M64.4 107.9h1M73.9 91.3h1M47.0 119.4h1M70.8 102.8h1M52.4 103.3h1M48.4 113.7h1M48.8 110.7h1M59.2 108.3h1M76.6 106.9h1M84.0 105.9h1M39.7 119.7h1M81.5 97.9h1M42.8 119.9h1M51.9 106.7h1M55.0 98.4h1M83.9 101.8h1M72.2 101.0h1M55.7 116.4h1M66.2 101.0h1M84.5 104.4h1M41.8 117.9h1M70.6 92.8h1M57.7 113.6h1M77.0 100.6h1M65.5 110.3h1M79.2 103.0h1M46.0 118.4h1M78.6 93.6h1M65.0 108.2h1M59.6 100.5h1M64.7 111.1h1M79.2 98.0h1M73.1 106.2h1M83.4 105.8h1M73.8 103.1h1M79.3 108.6h1M51.7 113.7h1M80.1 106.4h1M82.1 107.0h1M49.9 115.9h1M58.1 114.6h1M62.3 116.2h1M51.5 117.5h1M51.3 101.7h1M86.2 100.7h1M53.8 97.5h1M54.9 111.3h1M66.1 99.8h1M47.3 117.6h1M66.6 102.4h1M68.2 110.5h1M52.4 117.5h1M86.9 101.1h1M56.5 118.2h1M65.5 102.4h1M49.3 119.0h1M80.6 100.2h1M41.8 116.3h1M67.6 110.4h1M66.3 113.4h1M60.6 95.2h1M66.0 112.6h1M68.7 99.9h1M66.8 110.8h1M80.2 95.9h1M73.7 108.7h1M82.2 106.9h1M68.5 105.6h1M66.4 112.0h1M54.0 109.3h1M61.3 117.5h1M64.8 108.7h1M47.4 112.2h1M56.0 109.0h1M64.8 105.3h1M65.5 111.8h1M60.3 115.5h1M79.6 101.7h1M68.1 110.5h1M66.0 102.6h1M86.6 102.3h1M74.2 108.3h1M69.5 104.6h1M85.5 96.7h1M78.2 92.6h1M58.7 113.7h1M65.3 105.2h1M71.5 109.2h1M58.3 113.6h1M84.9 103.7h1M56.7 113.8h1M75.5 95.7h1M85.9 93.8h1M77.9 109.3h1"/>
<path stroke="#8cc864" stroke-width="0.9" fill="none" stroke-opacity="0.9" d="M63.0 92.4h0.9M62.0 94.7h0.9M80.2 90.6h0.9M82.5 95.1h0.9M86.1 97.0h0.9M68.2 90.8h0.9M65.1 99.4h0.9M65.6 100.3h0.9M63.4 100.1h0.9M61.1 101.9h0.9M48.9 105.1h0.9M77.8 95.5h0.9M68.5 96.3h0.9M66.7 94.1h0.9M66.7 95.2h0.9M83.1 92.9h0.9M78.2 94.0h0.9M86.7 92.0h0.9M49.0 107.0h0.9M85.0 95.2h0.9M49.1 105.9h0.9M49.2 107.0h0.9M79.0 95.3h0.9M74.2 92.6h0.9M60.8 102.6h0.9M75.8 96.1h0.9M73.7 89.0h0.9M70.0 94.8h0.9M57.1 106.0h0.9M55.8 103.7h0.9M76.8 92.4h0.9M57.9 94.8h0.9M56.0 104.3h0.9M67.7 99.9h0.9M70.2 97.8h0.9M81.9 88.2h0.9M55.0 105.8h0.9M72.7 96.5h0.9M70.1 94.3h0.9M69.7 98.7h0.9M63.1 92.9h0.9M85.7 88.1h0.9M54.3 107.5h0.9M78.0 96.7h0.9M55.0 99.2h0.9M69.3 96.0h0.9M55.2 99.0h0.9M75.5 95.8h0.9M65.6 101.3h0.9M60.7 101.3h0.9M60.3 98.0h0.9M64.5 101.3h0.9M71.3 94.3h0.9M45.4 110.1h0.9M84.0 91.8h0.9M49.5 110.1h0.9M70.0 96.3h0.9M65.4 98.4h0.9M58.2 104.8h0.9M52.7 106.4h0.9M47.8 106.3h0.9M86.6 94.9h0.9M51.0 103.4h0.9M48.8 105.2h0.9M45.2 110.9h0.9M76.8 94.3h0.9M71.3 91.7h0.9M58.6 101.6h0.9M55.4 102.7h0.9M64.5 99.8h0.9M71.0 92.8h0.9M72.3 96.9h0.9M74.0 90.0h0.9M53.6 98.8h0.9M60.2 95.0h0.9M70.8 94.0h0.9M47.8 110.4h0.9M82.6 89.9h0.9M69.7 92.7h0.9M81.2 94.1h0.9M57.0 103.2h0.9M55.1 98.5h0.9M69.2 92.6h0.9M72.1 93.9h0.9M84.5 94.6h0.9M68.7 95.9h0.9M58.3 102.9h0.9M76.8 99.6h0.9M67.2 96.7h0.9M85.2 94.1h0.9M48.1 111.6h0.9M80.1 93.6h0.9M62.4 98.5h0.9M69.2 98.3h0.9M53.0 106.9h0.9M55.4 101.6h0.9M70.0 99.1h0.9M62.8 97.5h0.9M51.4 106.8h0.9M79.8 93.5h0.9M79.9 96.3h0.9M57.9 99.2h0.9M83.9 88.2h0.9M85.4 88.7h0.9M54.7 99.0h0.9M80.9 93.0h0.9M74.4 89.7h0.9M62.0 94.7h0.9M45.6 113.2h0.9M84.2 92.5h0.9M44.9 113.6h0.9M70.5 91.9h0.9M74.8 96.9h0.9M78.4 92.8h0.9M44.0 113.8h0.9M53.0 103.7h0.9M69.6 100.1h0.9M58.4 97.8h0.9M76.5 90.2h0.9M79.5 90.2h0.9M84.6 90.5h0.9M58.5 96.8h0.9M67.4 99.6h0.9M80.5 99.1h0.9M62.6 93.9h0.9M86.3 91.8h0.9M71.3 93.7h0.9M58.1 105.0h0.9M63.2 96.6h0.9M69.3 93.1h0.9M65.5 96.6h0.9M68.6 95.7h0.9M70.4 97.9h0.9M62.2 97.2h0.9M84.7 93.6h0.9M87.1 91.6h0.9M52.5 104.2h0.9M55.3 103.3h0.9M60.1 97.7h0.9M57.4 103.2h0.9M74.3 92.8h0.9M65.2 93.2h0.9M69.6 98.2h0.9M61.4 98.9h0.9M54.4 100.0h0.9M58.5 102.1h0.9M56.6 98.8h0.9M80.6 99.4h0.9M50.0 104.0h0.9M58.3 103.4h0.9M63.4 95.7h0.9M82.3 91.5h0.9M52.9 105.0h0.9M63.0 98.3h0.9M77.4 97.0h0.9M65.0 91.4h0.9M71.9 95.3h0.9M74.5 96.2h0.9M85.7 89.9h0.9M52.4 100.0h0.9M43.0 116.3h0.9M69.5 103.1h0.9M80.1 89.1h0.9M65.4 96.1h0.9M65.3 102.6h0.9M63.7 95.1h0.9M73.8 91.0h0.9M79.0 90.9h0.9M53.8 106.0h0.9M81.4 94.1h0.9M73.3 89.0h0.9M66.1 92.3h0.9M45.7 110.2h0.9M42.7 114.5h0.9M79.4 95.6h0.9M82.2 95.2h0.9M79.8 93.2h0.9M78.6 91.3h0.9M46.9 107.6h0.9M83.5 95.5h0.9M62.3 95.0h0.9M79.7 88.3h0.9M71.7 98.6h0.9M51.6 107.4h0.9"/>
<path stroke="#d0508f" stroke-width="0.85" fill="none" stroke-opacity="0.7" d="M85.3 86.6h0.85M83.7 80.8h0.85M86.6 86.9h0.85M78.8 82.5h0.85M79.8 84.2h0.85M75.3 83.0h0.85M82.2 81.7h0.85M81.9 84.0h0.85M81.0 71.6h0.85M86.0 64.3h0.85M86.2 77.8h0.85M68.2 85.5h0.85M71.1 86.7h0.85M85.7 87.2h0.85M77.7 77.5h0.85M76.1 80.7h0.85M71.9 71.3h0.85M85.2 77.8h0.85M85.5 71.3h0.85M78.2 67.8h0.85M77.1 66.8h0.85M81.2 85.5h0.85M82.1 87.2h0.85M80.1 77.8h0.85M67.3 84.3h0.85M83.2 85.0h0.85M79.3 81.3h0.85M71.8 76.3h0.85M74.9 74.4h0.85M74.7 81.8h0.85M66.7 86.7h0.85M84.7 74.6h0.85M82.6 84.1h0.85M78.5 73.3h0.85M84.0 80.8h0.85M77.8 62.8h0.85M76.6 70.5h0.85M82.8 75.0h0.85M66.5 78.5h0.85M86.5 82.0h0.85M86.4 78.9h0.85M81.5 86.5h0.85M77.4 83.0h0.85M76.3 76.4h0.85M85.0 84.8h0.85M85.7 69.0h0.85M78.6 64.5h0.85M71.7 84.0h0.85M85.0 72.5h0.85M73.0 71.2h0.85M78.3 84.8h0.85M72.2 84.5h0.85M64.3 85.3h0.85M85.2 70.5h0.85M81.1 72.1h0.85M76.7 85.7h0.85M75.6 86.4h0.85M77.6 78.6h0.85M84.2 61.5h0.85M77.1 80.3h0.85M79.1 73.8h0.85M78.1 68.2h0.85M87.0 72.5h0.85M73.1 81.9h0.85M78.9 79.8h0.85M75.8 81.8h0.85M85.0 81.9h0.85M81.5 71.5h0.85M79.2 84.1h0.85M78.4 80.4h0.85M79.0 73.2h0.85M82.1 65.2h0.85M77.1 86.1h0.85M85.3 78.0h0.85M83.2 73.6h0.85M77.3 82.0h0.85M84.7 85.6h0.85M83.1 73.0h0.85M81.6 82.9h0.85M81.7 73.4h0.85M83.6 81.2h0.85M86.6 84.4h0.85M70.7 83.8h0.85M85.2 74.3h0.85M76.1 80.0h0.85M84.0 77.1h0.85M81.6 80.6h0.85M84.8 58.3h0.85M73.6 77.2h0.85M84.3 86.9h0.85M75.8 69.9h0.85M79.8 82.0h0.85M84.8 77.1h0.85M78.9 62.8h0.85M86.8 77.2h0.85M84.4 81.4h0.85M79.7 77.3h0.85M86.8 71.7h0.85M78.8 87.2h0.85M69.9 72.5h0.85M84.7 82.5h0.85M83.9 86.3h0.85M70.9 72.0h0.85M78.5 81.1h0.85M80.4 84.0h0.85M79.3 61.8h0.85M76.1 70.5h0.85M84.4 72.9h0.85M80.8 85.2h0.85M70.1 85.8h0.85M76.8 74.7h0.85M85.5 87.0h0.85M82.2 87.1h0.85M75.7 79.1h0.85M80.2 72.2h0.85M87.1 67.8h0.85M74.5 83.5h0.85M79.1 69.7h0.85M72.4 71.3h0.85M80.0 84.5h0.85M75.7 78.5h0.85M73.8 85.8h0.85M81.3 76.6h0.85M82.4 71.1h0.85M81.6 83.3h0.85M82.7 85.4h0.85M67.8 84.5h0.85M85.0 78.1h0.85M76.1 86.4h0.85M84.5 83.8h0.85M82.1 80.1h0.85M83.4 76.5h0.85M77.5 78.7h0.85M81.8 68.9h0.85M78.0 86.4h0.85M81.4 75.1h0.85M67.4 81.8h0.85M72.1 75.2h0.85M78.2 76.4h0.85M77.3 73.2h0.85"/>
<path stroke="#ffa535" stroke-width="0.85" fill="none" stroke-opacity="0.7" d="M90.9 40.6h0.85M114.0 81.2h0.85M93.6 81.8h0.85M100.0 76.2h0.85M100.7 57.1h0.85M105.9 86.0h0.85M132.2 66.6h0.85M106.8 64.3h0.85M102.3 81.5h0.85M117.9 52.2h0.85M101.4 33.9h0.85M109.0 81.2h0.85M97.5 84.9h0.85M101.5 87.1h0.85M95.7 61.8h0.85M93.4 44.2h0.85M90.7 86.6h0.85M89.1 70.1h0.85M99.5 66.0h0.85M107.3 78.5h0.85M117.8 71.0h0.85M104.9 55.5h0.85M89.1 77.1h0.85M111.9 85.9h0.85M101.5 86.5h0.85M93.1 67.6h0.85M101.5 69.5h0.85M119.8 69.8h0.85M121.5 68.4h0.85M103.1 86.2h0.85M94.2 86.6h0.85M124.4 77.1h0.85M108.4 51.8h0.85M115.2 75.4h0.85M134.6 86.6h0.85M114.3 56.9h0.85M115.0 54.5h0.85M102.9 72.2h0.85M98.2 78.3h0.85M107.3 70.0h0.85M128.2 72.9h0.85M106.9 57.1h0.85M98.3 66.5h0.85M101.8 76.9h0.85M115.3 72.8h0.85M121.5 78.2h0.85M100.8 57.9h0.85M109.7 78.1h0.85M95.1 81.3h0.85M100.6 71.0h0.85M105.2 76.5h0.85M93.5 64.7h0.85M102.1 63.4h0.85M100.0 81.4h0.85M101.4 73.0h0.85M104.2 62.2h0.85M114.5 78.9h0.85M121.5 84.1h0.85M101.8 72.5h0.85M95.7 58.9h0.85M94.8 61.8h0.85M105.1 76.6h0.85M102.2 60.9h0.85M91.1 86.0h0.85M120.2 83.8h0.85M103.6 76.4h0.85M94.1 53.8h0.85M97.7 58.4h0.85M120.8 69.3h0.85M98.5 56.7h0.85M102.6 84.1h0.85M95.1 83.7h0.85M116.9 62.1h0.85M105.9 58.6h0.85M96.5 54.3h0.85M96.5 76.5h0.85M100.7 69.6h0.85M106.1 68.1h0.85M98.7 60.0h0.85M96.5 73.8h0.85M109.0 81.3h0.85M96.9 66.4h0.85M97.9 54.9h0.85M115.2 87.0h0.85M90.0 51.5h0.85M121.9 50.1h0.85M91.5 80.0h0.85M92.1 75.7h0.85M94.6 63.9h0.85M111.9 72.4h0.85M107.5 82.5h0.85M123.2 61.9h0.85M97.2 66.7h0.85M107.4 62.4h0.85M102.9 59.6h0.85M108.3 74.2h0.85M111.7 75.6h0.85M98.2 86.6h0.85M121.5 76.2h0.85M91.8 76.3h0.85M102.3 85.6h0.85M137.2 67.6h0.85M108.4 84.2h0.85M90.7 66.3h0.85M119.6 78.3h0.85M123.2 83.0h0.85M114.9 86.1h0.85M95.9 79.6h0.85M89.8 71.3h0.85M108.4 73.9h0.85M108.6 84.3h0.85M89.7 68.8h0.85M89.0 59.7h0.85M99.9 80.5h0.85M117.4 53.7h0.85M115.1 70.9h0.85M99.5 76.0h0.85M106.6 78.4h0.85M110.1 66.4h0.85M101.2 82.5h0.85M94.6 66.7h0.85M92.9 78.6h0.85M92.6 82.4h0.85M96.2 74.0h0.85M104.5 55.5h0.85M95.6 78.6h0.85M92.8 68.7h0.85M110.1 76.1h0.85M119.5 78.4h0.85M94.4 67.9h0.85M121.5 70.4h0.85M98.9 82.5h0.85M107.7 78.8h0.85M100.5 66.0h0.85M105.9 70.3h0.85M105.0 82.5h0.85M93.2 85.7h0.85M103.8 71.6h0.85M97.8 70.1h0.85M106.2 85.0h0.85M108.0 83.2h0.85M89.1 85.1h0.85M92.3 75.1h0.85M96.4 76.0h0.85M100.6 71.0h0.85M96.0 72.9h0.85M96.3 80.1h0.85M94.5 82.5h0.85M96.0 83.1h0.85M129.6 76.6h0.85M94.5 84.8h0.85M91.3 76.5h0.85M119.7 54.7h0.85M104.2 42.8h0.85M107.9 64.4h0.85M90.6 80.8h0.85M108.4 78.7h0.85M103.2 74.5h0.85M103.8 68.3h0.85M95.0 70.5h0.85M109.6 71.3h0.85M98.3 79.2h0.85M97.3 60.9h0.85M94.7 77.7h0.85M95.8 55.5h0.85M99.6 71.0h0.85M109.7 81.2h0.85M91.5 76.7h0.85M104.2 86.7h0.85M94.9 82.2h0.85M97.1 86.6h0.85M100.8 58.5h0.85M105.4 85.6h0.85M118.5 71.2h0.85M101.3 79.0h0.85M112.8 78.4h0.85M98.2 68.4h0.85M100.2 78.1h0.85M93.9 80.6h0.85M89.5 68.7h0.85M90.3 82.4h0.85M90.2 76.1h0.85M100.1 62.4h0.85M121.6 83.8h0.85M92.2 57.7h0.85M108.4 61.3h0.85M124.3 64.3h0.85M109.4 50.6h0.85M92.1 80.9h0.85M92.1 80.3h0.85M102.0 76.8h0.85M97.3 78.6h0.85M106.3 51.7h0.85M105.7 84.2h0.85M92.0 78.6h0.85M107.1 85.4h0.85M107.3 36.1h0.85M91.4 75.6h0.85M99.2 75.9h0.85M88.8 59.1h0.85M121.8 80.9h0.85M107.4 61.3h0.85M110.3 70.6h0.85M110.0 42.3h0.85M121.5 51.6h0.85M93.0 57.2h0.85M98.0 76.6h0.85M92.4 85.2h0.85M93.0 77.0h0.85M89.0 36.4h0.85M91.3 50.9h0.85M94.3 86.4h0.85M95.6 73.6h0.85M92.0 76.3h0.85M116.2 69.8h0.85M121.3 77.8h0.85M97.4 50.3h0.85M112.1 80.0h0.85M94.8 68.0h0.85M112.9 79.7h0.85M102.5 85.8h0.85M106.0 53.5h0.85M99.7 46.0h0.85M112.3 67.3h0.85M101.4 55.4h0.85M113.7 83.9h0.85M116.4 61.3h0.85M107.2 83.2h0.85M104.6 86.8h0.85M100.4 62.9h0.85M96.4 72.4h0.85M94.1 69.6h0.85M103.5 58.6h0.85M88.4 81.6h0.85M110.4 86.7h0.85M88.6 85.1h0.85M95.2 80.6h0.85M98.4 79.6h0.85M92.2 76.5h0.85M113.9 74.9h0.85M97.1 58.7h0.85M112.8 67.3h0.85M96.5 72.3h0.85M106.6 68.9h0.85M113.8 69.3h0.85M127.4 78.8h0.85M110.6 68.5h0.85M98.2 71.5h0.85M90.9 81.2h0.85M91.6 80.5h0.85M88.9 77.3h0.85M111.6 76.3h0.85M91.8 57.4h0.85M117.2 71.0h0.85M108.4 73.7h0.85M96.4 64.0h0.85M112.9 70.3h0.85M107.6 74.4h0.85M108.7 64.4h0.85M92.9 73.7h0.85M90.1 62.0h0.85M90.7 71.4h0.85M136.7 46.7h0.85M124.8 73.8h0.85M93.4 73.3h0.85M89.1 79.1h0.85M120.1 77.8h0.85M103.7 63.5h0.85M110.0 73.1h0.85M112.6 77.7h0.85M104.2 55.8h0.85M123.0 77.0h0.85M96.8 75.1h0.85M120.9 77.1h0.85M93.0 71.9h0.85M109.4 69.9h0.85M100.5 76.3h0.85M98.8 76.1h0.85M105.4 86.3h0.85M91.1 62.3h0.85M94.7 73.8h0.85M114.0 82.9h0.85M129.9 69.2h0.85M89.3 80.5h0.85M103.9 74.2h0.85M115.0 82.9h0.85M96.8 66.1h0.85M93.0 70.4h0.85M105.6 79.1h0.85M113.7 75.5h0.85M91.8 75.1h0.85M119.3 76.5h0.85M97.0 86.9h0.85M100.3 30.5h0.85M91.7 72.7h0.85M104.0 85.9h0.85M95.4 79.2h0.85M106.2 65.8h0.85M92.6 61.9h0.85M100.3 69.9h0.85"/>
<path stroke="#ff7585" stroke-width="0.85" fill="none" stroke-opacity="0.85" d="M102.4 89.7h0.85M90.6 90.9h0.85M94.9 95.1h0.85M94.7 89.0h0.85M107.7 89.9h0.85M89.1 95.7h0.85M91.7 97.8h0.85M96.6 94.1h0.85M90.2 101.0h0.85M90.7 98.8h0.85M96.3 92.7h0.85M89.4 102.5h0.85M92.9 97.2h0.85M89.6 100.6h0.85M89.7 95.9h0.85M91.4 92.4h0.85M95.8 88.4h0.85M97.4 96.2h0.85M91.2 92.9h0.85M94.9 89.9h0.85M91.7 94.0h0.85M91.1 95.1h0.85M91.7 95.8h0.85M89.9 89.0h0.85M94.4 90.4h0.85M107.3 93.3h0.85M91.6 99.5h0.85M99.6 88.6h0.85M94.2 98.6h0.85M93.6 88.9h0.85M95.6 92.3h0.85M99.2 97.8h0.85M95.0 93.2h0.85M89.7 89.7h0.85M98.4 92.7h0.85M88.6 93.1h0.85M103.7 89.5h0.85M91.8 94.2h0.85M90.2 91.2h0.85M89.9 94.2h0.85M97.5 93.7h0.85M93.8 90.7h0.85M97.6 96.6h0.85M97.8 97.5h0.85M100.7 88.4h0.85M92.7 93.1h0.85M102.2 89.0h0.85M96.7 97.1h0.85M91.8 91.1h0.85M90.4 95.8h0.85M92.8 96.0h0.85M93.1 99.1h0.85M98.4 92.1h0.85M102.2 93.6h0.85M103.9 91.0h0.85M97.8 89.8h0.85M93.5 90.1h0.85M88.4 101.1h0.85M102.0 95.6h0.85M92.3 90.9h0.85M102.7 91.0h0.85M95.9 95.5h0.85M101.0 89.0h0.85M90.4 88.7h0.85M89.5 105.0h0.85M89.8 99.1h0.85M95.4 98.0h0.85M97.6 90.3h0.85M92.2 90.3h0.85M106.0 88.6h0.85M95.6 91.1h0.85M89.2 101.4h0.85M98.3 93.8h0.85M94.3 100.2h0.85M92.5 100.0h0.85M94.5 88.8h0.85M90.2 97.6h0.85M92.7 97.7h0.85M104.6 93.3h0.85M98.6 99.3h0.85M94.7 100.3h0.85M90.4 92.0h0.85M91.7 88.6h0.85M99.7 90.0h0.85M91.8 99.5h0.85M94.8 88.4h0.85M89.2 94.9h0.85M90.0 102.4h0.85M96.6 99.5h0.85M97.0 94.1h0.85M97.1 97.7h0.85M89.5 99.2h0.85M95.4 89.8h0.85M91.0 99.7h0.85M99.0 93.3h0.85M94.7 89.3h0.85M100.3 92.2h0.85M97.5 91.9h0.85M90.6 92.8h0.85M89.6 88.5h0.85M92.3 92.2h0.85M98.0 95.8h0.85M92.8 90.3h0.85M95.6 96.6h0.85M90.8 93.8h0.85M95.4 89.7h0.85M90.8 94.7h0.85M91.1 100.4h0.85M89.5 91.6h0.85M92.3 88.8h0.85M91.2 90.6h0.85M92.9 93.0h0.85M92.8 96.5h0.85M89.6 89.5h0.85M97.0 92.0h0.85M103.4 93.6h0.85M95.1 93.2h0.85M96.5 94.3h0.85M92.1 103.3h0.85M91.4 94.0h0.85M101.7 95.8h0.85M94.6 95.0h0.85M92.9 95.7h0.85M101.6 93.3h0.85M105.3 91.9h0.85M89.4 100.9h0.85M90.4 94.6h0.85M96.5 96.9h0.85M96.0 97.4h0.85M93.3 89.4h0.85M89.8 99.5h0.85M99.8 97.4h0.85M90.1 100.7h0.85M90.2 102.5h0.85M88.7 94.5h0.85M98.2 93.8h0.85M92.7 93.8h0.85M91.7 94.6h0.85M91.5 90.2h0.85M100.2 96.4h0.85M95.1 97.2h0.85M100.2 94.2h0.85M100.1 96.5h0.85M95.0 99.1h0.85M100.2 89.7h0.85M95.0 92.8h0.85M89.3 94.4h0.85M99.8 92.3h0.85M91.0 96.3h0.85M95.7 99.7h0.85M95.4 96.0h0.85M94.9 89.8h0.85M91.1 89.5h0.85M99.2 89.0h0.85M104.4 90.6h0.85M90.1 94.6h0.85M91.2 92.0h0.85M101.6 92.8h0.85M91.8 94.7h0.85M94.2 90.8h0.85M92.1 97.7h0.85M90.6 91.2h0.85M89.8 96.0h0.85M95.8 91.7h0.85M89.3 96.2h0.85M94.2 93.0h0.85M91.1 90.8h0.85M94.3 91.8h0.85M95.6 95.1h0.85M92.4 96.4h0.85"/>
<path stroke="#43a012" stroke-width="1" fill="none" d="M207.6 104.0h1M182.6 110.5h1M171.8 118.3h1M205.2 100.6h1M182.5 109.9h1M206.4 106.0h1M200.0 101.1h1M198.0 98.2h1M173.2 111.3h1M197.0 109.5h1M198.5 90.8h1M204.0 90.7h1M183.0 106.8h1M207.9 102.8h1M189.4 94.2h1M190.9 105.9h1M193.7 104.7h1M206.9 102.0h1M176.8 114.5h1M205.0 102.3h1M175.1 106.6h1M175.6 115.6h1M177.6 102.6h1M204.4 104.4h1M207.3 105.9h1M204.3 104.9h1M164.1 119.3h1M163.9 118.9h1M205.9 105.5h1M179.2 114.2h1M198.0 110.1h1M178.6 99.9h1M182.5 115.7h1M179.8 113.3h1M192.8 110.3h1M207.6 89.4h1M176.2 109.9h1M202.0 106.9h1M194.9 99.4h1M185.3 107.3h1M174.9 113.7h1M188.9 113.0h1M165.3 119.2h1M182.7 113.1h1M169.6 113.8h1M174.5 117.6h1M193.8 107.8h1M186.2 113.5h1M191.5 109.7h1M167.2 119.0h1M199.8 100.3h1M190.9 96.9h1M201.0 106.9h1M182.8 107.0h1M204.6 102.3h1M173.8 117.1h1M179.1 112.0h1M171.9 115.2h1M173.3 118.9h1M180.0 101.6h1M183.8 100.6h1M199.7 103.4h1M175.8 110.7h1M183.2 107.3h1M176.2 111.8h1M176.6 115.4h1M163.3 119.3h1M184.5 112.2h1M193.8 108.1h1M206.5 94.8h1M192.5 107.6h1M196.5 103.3h1M207.9 103.1h1M203.1 106.1h1M178.0 113.5h1M164.6 115.9h1M180.1 105.9h1M172.8 114.9h1M173.6 118.1h1M205.4 102.5h1M184.6 96.4h1M201.3 108.6h1M170.1 119.4h1M197.9 108.2h1M190.9 104.1h1M204.1 106.3h1M195.3 102.4h1M199.4 98.8h1M193.6 109.2h1M172.1 116.5h1M185.0 111.2h1M187.2 102.9h1M183.9 114.4h1M176.3 116.5h1M191.5 109.3h1M204.7 106.3h1M189.0 107.7h1M201.6 106.3h1M199.4 102.8h1M182.5 114.8h1M183.0 109.8h1M192.1 104.7h1M189.4 112.9h1M184.0 103.6h1M190.1 108.3h1M187.7 112.6h1M190.5 104.6h1M185.6 114.3h1M182.8 100.4h1M201.6 106.9h1M203.3 100.4h1M187.1 102.4h1M196.2 109.9h1M190.4 98.9h1M183.1 106.3h1M183.8 108.9h1M191.2 112.9h1M194.5 111.2h1M160.2 120.8h1M206.0 103.2h1M174.6 117.5h1M204.2 106.7h1M169.6 115.8h1M184.1 113.1h1M188.7 106.6h1M166.5 114.3h1M177.3 116.7h1M194.9 110.2h1M200.4 94.2h1M177.0 114.4h1M176.4 117.3h1M186.9 106.8h1M166.3 115.6h1M200.8 108.6h1M197.9 110.8h1M191.2 107.5h1M190.5 107.8h1M177.5 115.9h1M191.5 89.6h1M187.4 112.0h1M184.9 100.0h1M200.6 111.0h1M190.8 108.9h1M171.8 109.8h1M189.6 97.2h1M167.0 118.0h1M190.3 106.9h1M195.0 105.7h1M182.3 112.6h1M201.4 107.1h1M201.4 106.8h1M198.9 106.7h1M185.2 113.3h1M188.0 107.9h1M179.6 112.7h1M188.4 99.3h1M178.9 112.1h1M175.5 109.5h1M202.0 107.7h1M169.1 118.0h1M205.7 105.6h1M198.0 103.4h1M180.6 111.1h1M196.4 104.6h1M192.6 112.1h1M168.7 115.4h1M172.4 117.0h1M188.2 109.9h1M198.6 95.5h1M178.3 115.8h1M160.6 119.4h1M182.3 105.7h1M187.9 111.6h1M198.1 106.0h1M180.2 111.4h1M204.9 92.0h1M194.3 97.5h1M188.9 113.8h1M185.5 100.6h1M182.3 114.9h1M205.0 101.6h1M178.8 116.2h1M175.8 115.6h1M190.3 109.9h1M184.1 114.2h1M160.6 120.9h1M202.7 95.5h1M181.5 112.3h1M182.7 114.6h1M203.8 106.3h1M197.0 105.6h1M189.1 98.8h1M187.0 115.3h1M181.2 111.4h1M176.3 110.6h1M181.7 106.7h1M167.3 119.2h1M202.8 108.1h1M197.7 98.9h1M171.9 118.4h1M181.0 108.0h1M166.5 119.2h1M185.8 99.8h1M182.6 109.5h1M176.6 116.6h1M182.4 111.5h1M176.2 107.4h1M203.7 109.3h1M174.3 117.3h1M194.8 106.7h1M186.3 106.6h1M193.0 111.0h1M173.9 116.2h1M183.5 108.2h1M178.0 115.9h1M177.5 106.8h1M205.4 99.5h1M170.7 118.9h1M187.4 105.1h1M199.1 110.1h1M204.2 95.7h1M192.8 109.6h1M174.0 115.9h1M207.1 96.7h1M190.9 98.6h1M202.0 100.7h1M170.6 118.8h1M203.7 101.6h1M170.6 118.0h1M201.0 102.2h1M197.9 109.7h1M169.7 118.8h1M176.4 115.6h1M206.2 103.0h1M206.2 92.0h1M204.2 104.8h1M169.1 112.9h1M199.5 108.5h1M193.2 99.1h1M187.6 101.2h1M198.3 101.4h1M197.4 103.6h1M199.9 106.6h1M168.7 116.0h1M194.3 108.0h1M189.5 111.4h1M189.2 105.4h1M188.2 103.4h1M198.5 91.0h1M181.9 107.8h1M164.2 118.3h1M193.4 102.7h1M197.7 108.0h1M173.7 99.0h1M199.5 90.3h1M202.4 100.5h1M191.0 100.3h1M183.0 107.7h1M179.6 108.7h1M169.2 119.1h1M191.0 96.2h1M192.5 105.1h1M196.0 102.1h1M203.1 108.3h1M200.3 100.6h1M199.9 105.3h1M188.0 107.7h1M172.7 110.8h1M195.6 100.2h1M192.2 102.9h1M205.0 99.4h1M168.0 117.9h1M181.2 106.5h1M162.6 119.3h1M206.4 96.1h1M197.1 110.1h1M176.5 115.3h1M193.5 101.9h1M206.3 105.6h1M203.4 90.4h1M201.2 99.0h1M206.7 95.8h1M188.8 114.0h1M168.1 115.6h1M186.9 111.5h1M190.4 113.5h1M162.9 117.5h1M188.4 106.0h1M200.3 102.2h1M182.7 115.0h1M201.0 102.9h1M206.7 89.4h1M185.8 111.5h1M198.6 108.3h1M185.0 110.5h1M194.3 99.9h1M175.8 116.5h1M202.6 106.7h1M179.9 102.8h1M199.9 103.4h1M165.5 119.4h1M192.2 109.0h1M194.0 106.2h1M202.6 101.3h1M192.5 95.3h1M201.1 106.4h1M204.9 100.8h1M167.9 115.1h1M191.8 110.4h1M187.4 111.7h1M200.0 100.2h1M189.0 113.7h1M170.5 112.4h1M203.7 105.7h1M172.8 117.3h1M180.8 114.7h1M179.2 115.7h1M181.6 104.9h1M192.7 101.5h1M204.7 102.2h1M174.2 114.8h1M206.3 101.0h1M173.2 116.4h1M191.5 107.9h1M203.7 99.9h1M178.9 110.9h1M207.2 101.0h1M178.1 102.0h1M176.2 110.9h1M201.0 108.1h1M202.9 104.9h1M173.1 117.7h1M191.2 111.4h1M175.7 113.0h1M203.2 105.7h1M192.5 105.7h1M192.6 101.5h1M181.6 112.1h1M172.5 118.2h1M198.5 101.3h1M204.5 109.4h1M179.4 114.7h1M199.9 107.4h1M168.0 118.8h1M196.2 98.2h1M190.8 111.0h1M174.9 114.2h1M173.6 113.9h1M200.4 101.4h1M191.6 100.9h1M203.6 104.7h1M201.0 100.8h1M195.4 103.7h1M187.7 106.1h1M183.4 114.0h1M203.5 95.8h1M199.7 92.7h1M188.3 101.8h1M197.6 100.0h1M195.0 105.7h1M195.3 103.6h1M171.5 119.2h1M194.2 111.1h1M179.1 115.6h1M204.0 92.9h1M167.5 117.6h1M169.2 118.1h1M170.2 118.7h1M192.0 109.1h1M198.9 106.0h1M190.8 104.5h1M180.5 115.3h1M180.1 113.0h1M206.7 107.3h1M208.0 97.5h1M196.4 91.0h1M191.8 101.2h1M198.6 104.3h1M204.7 92.3h1M197.4 112.4h1M193.7 104.3h1M205.0 105.2h1M200.6 101.5h1M202.0 88.7h1M188.8 112.5h1M207.4 103.9h1M175.5 113.1h1M198.3 104.1h1M174.5 117.0h1M180.5 105.6h1M189.0 109.3h1M174.4 114.4h1M204.9 106.4h1M207.8 105.8h1M171.4 117.5h1M190.1 110.3h1M178.4 105.6h1M176.6 115.7h1M177.1 114.6h1M175.1 108.5h1M193.9 109.7h1M186.6 110.3h1M185.9 103.8h1M206.7 96.3h1M184.5 113.6h1M183.3 115.8h1M187.0 113.8h1M203.5 100.5h1M170.2 117.0h1M202.0 103.2h1M206.6 102.8h1M191.3 96.2h1M196.8 105.8h1M191.9 108.1h1M206.7 103.0h1M200.9 108.2h1M183.3 110.9h1M184.7 97.7h1M190.9 111.5h1M175.6 116.5h1M182.2 114.6h1M169.3 118.6h1M192.0 108.1h1M178.4 116.8h1M200.4 103.8h1M190.1 109.2h1M186.6 111.4h1M203.9 90.6h1M189.3 93.9h1M186.5 112.6h1M192.6 97.9h1M193.8 103.2h1M189.2 110.7h1M183.4 113.6h1M194.9 104.3h1M200.2 102.9h1M177.3 110.6h1M207.0 100.5h1M183.9 114.6h1M199.9 91.9h1M178.6 116.8h1M208.1 103.2h1M207.0 94.7h1M173.4 118.0h1M188.5 105.0h1M173.9 113.4h1M178.7 98.5h1M199.1 107.6h1M188.9 108.9h1M193.1 102.1h1M180.3 100.2h1M201.5 101.8h1M208.3 99.2h1M163.6 119.5h1M169.6 116.7h1M192.0 111.7h1M199.3 104.3h1M187.4 109.2h1M189.9 112.4h1M195.0 109.9h1M186.7 101.9h1M203.4 105.0h1M172.7 115.8h1M207.3 102.0h1M202.7 93.5h1M197.2 108.6h1M184.4 106.1h1M201.1 93.3h1M171.9 118.8h1M178.0 105.1h1M193.2 110.7h1M176.7 104.0h1M192.9 99.9h1M187.9 113.0h1M192.1 105.9h1M192.3 99.9h1M173.2 110.3h1M197.7 99.7h1M201.4 89.0h1M190.9 109.4h1M180.1 116.0h1M204.9 99.5h1M195.9 106.2h1M207.1 97.0h1M196.1 109.6h1M183.7 105.0h1M172.3 118.1h1M189.2 113.0h1M166.5 116.8h1M204.1 106.7h1M171.7 118.0h1M205.5 93.3h1M204.8 98.0h1M176.4 111.9h1M188.3 113.7h1M194.8 96.0h1M188.2 112.3h1M195.7 105.1h1M177.3 114.2h1M186.6 97.9h1M197.2 103.8h1M180.2 113.5h1M201.9 103.3h1M193.3 90.6h1M204.7 103.4h1M192.8 107.3h1M179.9 106.6h1M170.3 113.7h1M181.8 99.5h1M188.1 98.4h1M170.2 115.5h1M195.9 106.8h1M199.4 97.4h1M182.5 116.6h1M172.6 115.9h1M195.5 103.3h1M180.5 104.2h1M182.0 114.4h1M203.8 99.6h1M169.6 118.0h1M176.2 119.7h1M204.0 98.9h1M185.9 105.1h1M174.4 116.1h1M207.7 89.8h1M187.4 103.7h1M179.6 115.8h1M196.7 110.1h1M191.0 110.4h1M184.9 108.4h1M201.5 100.2h1M192.0 113.1h1M198.4 105.5h1M196.2 106.8h1M189.9 96.4h1M187.9 109.3h1M186.1 106.9h1M207.6 105.7h1M193.8 109.2h1M187.9 108.5h1M200.6 103.5h1M201.3 108.8h1M192.8 98.2h1M193.6 111.6h1M196.6 94.1h1M166.5 118.0h1M199.0 92.8h1M202.8 105.3h1M194.9 107.9h1M164.2 116.7h1M194.3 105.9h1M202.0 90.0h1M198.5 91.6h1M185.7 110.2h1M195.0 99.9h1M174.1 116.5h1M174.8 108.5h1M186.1 113.2h1M187.2 96.1h1M199.4 93.9h1M177.2 98.3h1M179.8 112.2h1M191.8 111.5h1M204.2 107.1h1M208.0 100.5h1M177.8 116.6h1M189.0 111.1h1M182.0 105.3h1M173.9 104.9h1M170.3 116.4h1M188.7 105.5h1M177.5 114.0h1M204.1 89.1h1M206.9 105.5h1M191.2 110.0h1M206.7 99.4h1M184.1 109.2h1M182.9 112.0h1M165.6 114.2h1M185.9 108.5h1M171.7 110.5h1M207.8 100.9h1M202.6 109.2h1M192.1 111.3h1M184.2 109.2h1M186.5 107.7h1M206.5 105.3h1M194.8 107.5h1M182.6 114.6h1M170.9 115.8h1M193.8 110.5h1M194.5 98.0h1M205.7 93.9h1M169.4 111.2h1M193.2 104.3h1M187.4 102.8h1M195.9 111.0h1M192.6 99.5h1M198.3 108.4h1M164.9 120.4h1M176.5 111.8h1M191.2 96.0h1M191.7 106.2h1M206.2 106.1h1M186.3 113.5h1M191.5 103.1h1M189.1 111.5h1M180.5 105.5h1M190.3 103.7h1M204.8 93.2h1M199.4 98.3h1M204.9 93.5h1M190.5 101.3h1M207.9 92.1h1M205.3 91.5h1M183.8 115.4h1M175.7 115.7h1M175.2 106.6h1M204.8 93.5h1M188.1 104.5h1M172.9 117.2h1M179.9 113.2h1M190.4 111.3h1M194.8 106.0h1M190.5 110.2h1M204.0 106.0h1M172.3 111.7h1M183.1 102.5h1M207.3 100.7h1M184.7 104.0h1M190.9 109.8h1M192.0 101.5h1M187.1 102.3h1M180.0 111.6h1M161.5 119.8h1M190.8 110.3h1M175.5 116.6h1M169.5 114.4h1M200.2 105.5h1M183.2 111.0h1M171.8 116.7h1M174.5 112.0h1M194.1 105.3h1M193.2 111.9h1M178.7 113.0h1M171.4 112.9h1M186.5 107.0h1M187.3 100.1h1M176.0 110.2h1M169.2 116.6h1M184.2 114.6h1M190.3 107.0h1M199.3 100.2h1M179.0 104.2h1M203.4 100.2h1M169.5 119.5h1M173.8 109.3h1M191.3 99.6h1M161.5 119.5h1M185.2 114.4h1M204.0 104.7h1M184.5 113.8h1M189.2 108.6h1M178.9 116.6h1M191.7 109.3h1M202.8 93.9h1M161.8 120.4h1M165.8 116.9h1M199.5 102.1h1M178.0 109.5h1M184.9 114.4h1M187.1 100.6h1M205.5 106.0h1M169.2 117.9h1M190.4 112.1h1M167.1 120.0h1M203.3 97.7h1M192.2 110.5h1M195.2 103.9h1M207.3 88.5h1M180.9 109.4h1M194.8 93.4h1M184.0 112.7h1M194.7 110.2h1M193.7 96.6h1M183.8 102.9h1M171.4 113.7h1M182.4 104.0h1M192.5 111.0h1M164.5 116.4h1M165.9 116.4h1M207.9 101.3h1M198.3 106.7h1M203.9 104.3h1M193.0 102.8h1M207.8 105.3h1M166.9 116.9h1M188.2 109.6h1M180.2 111.7h1M187.8 107.5h1M199.5 105.9h1M197.0 104.8h1M178.5 115.3h1M200.0 107.0h1M188.7 108.5h1M189.4 94.6h1M199.5 98.2h1M179.1 116.2h1M175.8 116.4h1M192.5 112.5h1M208.3 106.2h1M192.3 104.2h1M188.6 113.3h1M187.2 114.7h1M186.0 108.1h1M198.3 102.1h1M204.0 100.0h1M208.2 91.2h1M205.3 95.5h1M205.8 95.0h1M200.3 109.1h1M192.9 111.2h1M204.2 100.8h1M205.6 90.7h1M204.3 99.8h1M195.8 111.7h1M194.6 100.4h1M181.5 111.4h1M200.3 106.6h1M196.2 110.6h1M192.4 103.6h1M198.0 109.7h1M200.1 91.5h1M179.8 116.7h1M179.1 113.1h1M199.2 109.0h1M204.2 100.4h1M182.4 109.9h1M190.6 110.3h1M191.7 109.3h1M178.6 117.4h1M161.8 118.7h1M179.1 114.7h1M202.9 107.0h1M167.4 117.9h1M205.0 97.5h1M194.4 92.7h1M179.1 112.0h1M192.6 110.9h1M203.3 105.7h1M194.2 110.7h1M166.5 116.8h1M179.0 115.6h1M173.0 112.2h1M176.7 114.1h1M200.4 90.8h1M193.5 106.5h1M205.2 104.7h1M176.2 117.8h1M168.1 118.1h1M193.8 107.9h1M196.4 106.2h1M182.7 106.1h1M165.1 117.8h1M192.7 111.3h1M184.4 114.0h1M170.6 117.7h1M200.2 89.9h1M203.3 105.0h1M203.8 97.9h1M170.5 109.5h1M178.6 114.8h1M176.6 111.9h1M204.5 94.0h1M177.0 110.1h1M189.5 110.5h1M187.0 107.7h1M187.3 105.8h1M205.4 106.9h1M189.4 104.6h1M177.5 111.1h1M171.6 116.6h1M161.6 118.3h1M198.0 109.9h1M203.9 106.2h1M174.5 116.3h1M168.8 118.8h1M172.9 111.2h1M203.2 107.9h1M193.4 111.5h1M179.7 116.1h1M198.7 101.6h1M198.6 97.3h1M193.0 102.1h1M195.1 104.7h1M179.4 115.7h1M186.9 113.5h1M178.0 115.4h1M207.6 96.8h1M184.1 109.6h1M174.5 110.3h1M201.7 109.7h1M176.4 117.4h1M207.0 104.1h1M183.6 109.1h1M197.4 105.5h1M196.1 103.5h1M168.7 117.7h1M177.3 114.8h1M204.9 103.7h1M168.9 118.6h1M202.6 95.1h1M196.0 102.3h1M196.2 104.6h1M195.6 89.7h1M179.4 115.0h1M203.0 102.9h1M190.4 109.3h1M178.7 116.2h1M187.8 106.3h1M171.8 118.1h1M206.6 97.7h1M195.0 105.9h1M171.7 119.9h1M190.5 109.5h1M171.4 115.3h1M206.1 107.2h1M178.1 101.8h1M171.9 118.0h1M179.1 113.3h1M192.4 110.8h1M176.1 113.6h1M197.5 108.4h1M204.9 105.8h1M180.2 102.0h1M182.4 114.3h1M169.7 119.4h1M191.3 99.0h1M193.1 107.0h1M205.4 100.1h1M203.0 103.3h1M204.6 106.0h1M195.0 109.0h1M172.7 117.0h1M180.9 102.2h1M207.5 106.2h1M200.2 105.5h1M201.2 106.2h1M182.0 115.4h1M193.1 102.7h1M201.4 89.6h1M192.6 109.0h1M185.5 113.0h1M194.4 106.7h1M203.7 101.2h1M180.9 101.9h1M175.0 117.0h1M198.2 108.5h1M187.9 98.6h1M192.0 105.5h1M173.5 115.2h1M167.7 115.6h1M187.9 97.2h1M193.7 106.7h1M172.7 100.3h1M162.6 120.1h1M196.0 106.9h1M163.2 118.4h1M192.8 92.9h1M183.1 111.8h1M200.1 102.5h1M206.7 102.4h1M186.2 97.9h1M199.4 102.8h1M192.5 97.2h1M166.4 116.7h1M177.8 108.2h1M175.1 115.5h1M196.4 106.7h1M175.2 113.5h1M176.2 116.8h1M196.6 104.0h1M204.2 106.5h1M176.0 112.6h1M174.5 117.0h1M192.9 111.2h1M169.4 113.2h1M197.9 108.5h1M189.1 96.5h1M178.1 116.7h1M196.2 103.5h1M176.1 116.3h1M189.5 113.9h1M194.3 110.0h1M196.0 97.6h1M161.3 120.1h1M184.1 109.8h1M196.5 97.7h1M189.1 109.2h1M177.1 111.8h1M165.6 115.2h1M188.8 114.0h1M168.0 116.0h1M202.7 105.4h1M182.9 104.0h1M202.1 97.9h1M187.0 109.7h1M194.4 105.1h1M168.1 115.5h1M173.2 107.9h1M179.5 111.2h1M202.5 94.2h1M186.4 108.1h1M201.7 91.8h1M197.5 104.7h1M172.4 111.1h1M208.3 99.7h1M193.7 108.7h1M184.4 107.7h1M192.2 102.6h1M184.6 111.0h1M190.4 105.2h1M176.5 116.1h1M188.7 95.0h1M173.5 114.6h1M190.9 108.5h1M175.6 117.3h1M203.7 102.7h1M190.1 110.1h1M200.5 91.6h1M206.2 92.7h1M167.3 119.4h1M204.0 106.3h1M205.2 103.9h1M170.0 114.8h1M193.8 105.0h1M200.6 97.9h1M188.2 106.6h1M205.3 105.7h1M190.8 112.4h1M190.8 111.8h1M202.2 101.6h1M207.7 104.1h1M177.4 107.9h1M180.1 112.8h1M205.7 105.9h1M195.2 100.9h1M195.7 110.2h1M205.2 88.8h1M201.0 107.1h1M203.9 107.3h1M203.1 101.4h1M200.2 108.4h1M189.8 110.8h1M182.2 105.7h1M194.8 90.2h1M181.6 116.2h1M192.6 111.5h1M165.3 119.3h1M174.7 114.7h1M189.2 113.5h1M166.5 118.9h1M188.8 110.8h1M182.8 114.3h1M183.1 116.2h1M163.4 119.4h1M185.2 99.8h1M200.6 101.6h1M174.4 111.9h1M176.5 117.7h1M162.8 118.9h1M192.6 108.1h1M191.2 97.2h1M194.9 104.0h1M199.8 107.3h1M195.2 103.1h1M186.9 96.0h1M190.2 101.1h1M197.0 100.6h1M173.0 114.7h1M188.9 98.5h1M176.0 107.0h1M191.8 108.8h1M207.1 99.6h1M182.0 109.2h1M180.3 112.5h1M168.9 118.5h1M196.1 98.2h1M189.9 111.9h1M164.5 117.3h1M195.3 111.1h1M203.4 103.2h1M194.7 107.5h1M193.6 104.5h1M181.0 116.9h1M206.7 93.7h1M206.1 96.9h1M185.8 114.5h1M182.7 113.4h1M192.8 107.6h1M182.8 114.8h1M204.8 105.4h1M205.8 99.7h1M174.8 116.3h1M200.2 100.6h1M207.3 102.7h1M196.2 105.8h1M189.5 111.9h1M204.6 107.4h1M194.1 88.7h1M192.0 107.4h1M190.9 108.0h1M202.2 96.3h1M165.6 119.1h1M179.3 112.9h1M186.2 108.6h1M187.9 102.9h1M180.4 111.3h1M195.8 109.7h1M181.8 104.1h1M196.5 95.1h1M173.0 116.8h1M165.1 119.3h1M164.9 116.5h1M204.2 107.6h1M202.4 89.8h1M181.2 114.8h1M199.6 101.2h1M207.8 91.7h1M190.3 108.0h1M184.5 106.7h1M204.2 104.6h1M183.6 102.8h1M175.6 114.6h1M170.6 113.0h1M202.6 90.9h1M174.5 116.2h1M200.2 108.5h1M207.8 106.3h1M201.7 109.0h1M174.9 110.7h1M182.6 99.8h1M175.5 111.6h1M204.2 99.7h1M180.1 106.5h1M194.5 108.2h1M172.2 108.7h1M160.8 120.5h1M174.2 115.8h1M189.7 98.2h1M186.2 112.5h1M175.1 115.7h1M201.6 108.4h1M206.6 98.3h1M207.8 103.6h1M205.6 100.7h1M198.5 100.9h1M187.9 106.3h1M171.8 118.4h1M173.3 106.7h1M180.7 115.0h1M185.7 111.7h1M175.0 112.2h1M169.1 110.9h1M201.5 108.9h1M197.1 112.7h1M170.5 117.4h1M189.6 108.9h1M162.1 119.3h1M206.8 106.3h1M196.4 102.2h1M177.7 115.4h1M175.8 117.4h1M202.2 105.9h1M186.7 107.0h1M176.5 115.4h1M185.3 99.2h1M204.2 107.5h1M190.3 109.9h1M182.3 111.5h1M187.7 102.8h1M173.8 105.2h1M194.7 111.5h1M195.2 104.5h1M207.8 104.4h1M168.5 117.5h1M184.2 111.0h1M190.3 112.3h1M188.5 97.4h1M181.1 115.9h1M206.6 101.7h1M183.9 113.8h1M180.2 110.9h1M162.8 118.7h1M171.8 115.3h1M175.8 114.5h1M183.2 115.0h1M186.5 107.0h1M192.3 111.9h1M197.7 103.3h1M165.4 116.6h1M193.1 112.8h1M181.6 101.5h1M184.2 116.0h1M187.2 108.4h1M171.5 116.8h1M186.5 99.9h1M203.0 107.8h1M207.2 97.8h1M203.3 94.3h1M193.3 102.3h1M204.7 105.3h1M191.2 111.0h1M173.4 120.8h1M164.3 120.7h1M189.8 105.4h1M188.7 103.5h1M188.6 106.1h1M195.2 110.7h1M208.0 105.2h1M193.8 106.8h1M181.3 100.7h1M168.5 118.5h1M203.4 97.0h1M194.7 110.0h1M203.7 104.2h1M185.5 112.1h1M175.1 99.2h1M205.1 105.5h1M176.6 108.7h1M187.9 102.7h1M176.2 108.4h1M179.7 107.9h1M175.7 108.3h1M199.3 106.7h1M199.4 97.0h1M200.5 101.1h1M185.3 110.2h1M178.5 113.6h1M178.6 112.2h1M165.4 120.6h1M187.6 111.5h1M192.3 90.9h1M206.3 94.4h1M197.9 93.7h1M191.5 110.9h1M184.8 112.5h1M208.0 100.4h1M177.2 107.8h1M171.7 111.1h1M192.5 110.8h1M203.7 107.7h1M204.7 103.0h1M169.8 119.0h1M207.5 103.7h1M205.6 97.9h1M178.1 102.9h1M205.4 104.7h1M174.2 118.1h1M204.5 106.9h1M186.3 105.5h1M189.1 113.3h1M198.1 102.9h1M168.0 113.8h1M195.0 95.3h1M170.0 113.4h1M195.2 111.3h1M198.5 108.7h1M184.1 104.3h1M192.0 111.8h1M206.2 105.5h1M182.9 106.8h1M187.0 109.0h1M204.1 92.6h1M201.2 103.0h1M179.1 109.8h1M186.6 113.5h1M171.9 116.2h1M173.8 110.8h1M206.7 102.5h1M192.8 91.3h1M199.7 96.0h1M186.2 113.2h1M205.4 104.2h1M196.0 106.3h1M179.1 110.6h1M170.1 110.0h1M185.2 94.3h1M180.1 114.6h1M194.1 100.4h1M178.6 116.4h1M165.3 110.4h1M195.0 107.1h1M165.6 119.2h1M190.3 110.2h1M180.6 110.7h1M175.0 114.5h1M199.4 105.0h1M199.4 105.0h1M207.7 106.8h1M179.9 101.6h1M186.1 104.7h1M207.9 94.9h1M191.3 110.1h1M205.8 93.1h1M205.7 100.4h1M194.7 102.7h1M201.0 102.7h1M204.9 99.8h1M188.0 99.7h1M196.3 105.5h1M193.9 105.4h1M187.9 104.6h1M200.2 109.5h1M173.8 117.0h1M181.9 115.4h1M192.3 112.0h1M164.4 117.2h1M166.5 118.1h1M203.0 94.1h1M207.4 105.1h1M190.9 109.0h1M163.4 115.2h1M195.7 95.1h1M197.9 99.3h1M201.5 110.3h1M175.5 119.2h1M181.5 117.0h1M189.8 106.4h1M170.1 119.9h1M171.9 110.0h1M178.0 109.0h1M187.1 106.6h1M189.8 96.4h1M188.8 98.9h1M193.2 103.5h1M207.6 99.7h1M188.0 100.1h1M191.6 94.1h1M176.1 105.6h1M185.2 103.1h1M188.7 108.5h1M179.6 113.1h1M196.5 91.7h1M181.1 107.2h1M206.7 104.3h1M190.7 102.5h1M191.7 98.9h1M183.6 111.0h1M191.6 108.1h1M200.4 110.4h1M188.3 102.8h1M201.1 108.6h1M199.3 104.6h1M175.6 112.3h1M188.9 106.1h1M179.4 110.7h1M199.8 98.3h1M176.9 108.3h1M193.6 110.0h1M189.0 97.2h1M184.7 108.1h1M193.9 105.5h1M163.1 119.9h1M206.2 106.0h1M192.6 111.4h1M199.8 110.1h1M183.0 113.0h1M207.6 97.9h1M171.0 116.3h1M176.2 109.6h1M189.6 98.1h1M193.2 109.7h1M204.5 102.7h1M174.3 117.9h1M183.2 115.2h1M201.7 101.4h1M168.8 111.6h1M189.5 114.2h1M190.0 111.0h1M197.1 94.4h1M191.0 99.1h1M172.8 117.0h1M175.5 114.3h1M206.8 103.5h1M177.1 113.6h1M176.1 104.3h1M197.7 106.2h1M186.2 114.7h1M163.7 117.0h1M202.0 88.7h1M181.5 109.9h1M201.2 108.3h1M171.4 119.3h1M164.5 117.8h1M186.8 114.6h1M204.1 107.0h1M177.0 113.8h1M203.7 101.0h1M169.8 118.4h1M205.0 104.2h1M184.1 113.6h1M194.4 107.7h1M201.2 97.4h1M183.0 110.4h1M202.8 107.0h1M166.4 119.0h1M201.2 97.3h1M195.7 106.2h1M199.5 109.6h1M183.0 100.7h1M175.9 117.1h1M188.0 109.7h1M185.0 114.3h1M182.1 98.3h1M202.7 108.5h1M190.6 114.1h1M186.9 98.7h1M180.9 111.5h1M204.3 89.1h1M186.0 111.5h1M180.5 113.4h1M186.5 97.5h1M185.1 103.0h1M185.9 103.0h1M185.3 109.9h1M161.9 118.6h1M197.7 98.7h1M184.2 112.7h1M173.6 110.6h1M186.0 112.7h1M208.2 101.1h1M206.3 100.1h1M180.9 101.4h1M205.9 106.1h1M178.7 108.9h1M193.7 99.0h1M198.1 108.9h1M169.1 117.2h1M189.5 111.2h1M187.6 111.5h1M196.4 93.4h1M184.3 114.3h1M180.7 113.9h1M199.1 96.0h1M207.8 91.8h1M164.4 117.9h1M183.5 114.2h1M178.2 108.9h1M205.1 88.6h1M192.5 108.9h1M205.2 103.9h1M165.4 113.5h1M197.0 106.4h1M190.0 107.4h1M172.0 106.5h1M204.9 108.6h1M198.3 104.8h1M192.2 105.8h1M194.9 102.1h1M190.5 106.8h1M201.1 108.6h1M170.0 115.0h1M183.2 102.0h1M204.8 106.3h1M203.9 107.0h1M194.7 95.8h1M207.2 105.4h1M169.0 118.8h1M183.2 114.2h1M165.4 113.2h1M195.0 104.0h1M178.0 105.1h1M184.4 113.4h1M207.3 99.4h1M189.7 108.6h1M204.3 98.9h1M201.7 92.0h1M177.9 114.8h1M167.7 117.4h1M187.2 111.4h1M208.3 98.8h1M182.7 98.3h1M185.8 114.8h1M191.3 105.8h1M203.8 103.5h1M181.8 113.7h1M198.3 97.4h1M197.3 105.5h1M185.0 112.5h1M176.2 115.5h1M201.9 105.4h1M196.6 110.7h1M164.5 119.7h1M189.9 106.2h1M173.7 111.5h1M174.8 111.4h1M184.1 111.2h1M202.4 107.1h1M189.4 111.6h1M197.1 99.2h1M202.8 91.9h1M172.1 116.6h1M176.4 112.6h1M179.2 113.7h1M170.6 117.4h1M189.9 94.9h1M177.9 104.9h1M160.6 119.8h1M177.1 112.1h1M184.6 104.1h1M168.6 116.2h1M181.3 111.8h1M182.7 114.8h1M196.5 97.1h1M186.2 113.0h1M170.0 118.8h1M207.3 106.0h1M192.6 108.4h1M200.2 107.6h1M192.1 100.2h1M173.6 116.3h1M175.4 117.0h1M205.1 102.8h1M191.4 99.3h1M161.9 119.3h1M161.3 118.6h1M190.3 100.5h1M189.1 88.9h1M192.6 111.9h1M193.1 111.5h1M197.4 103.6h1M176.2 115.1h1M195.7 101.4h1M201.6 96.2h1M185.4 107.4h1M189.1 110.1h1M183.4 114.5h1M177.2 116.8h1M190.5 112.4h1M201.5 102.4h1M183.8 114.5h1M199.2 96.2h1M179.4 109.2h1M181.3 106.8h1M180.7 109.6h1M195.6 92.7h1M179.7 114.6h1M207.6 102.9h1M171.1 110.0h1M190.9 111.2h1M189.8 104.1h1M179.9 107.7h1M187.2 112.6h1M197.3 103.7h1M191.5 110.6h1M169.5 112.2h1M207.5 106.5h1M194.4 105.8h1M208.2 98.6h1M207.8 88.3h1M198.1 96.2h1M185.4 99.0h1M183.1 109.5h1M175.0 109.8h1M177.1 114.9h1M175.2 109.7h1M193.8 97.9h1M197.7 106.8h1M187.1 111.5h1M193.3 104.8h1M201.1 107.6h1M185.7 107.0h1M192.9 104.3h1M181.0 100.0h1M185.9 111.5h1M196.8 110.0h1M205.6 106.2h1M206.9 108.0h1M188.0 102.4h1M199.8 109.2h1M204.6 108.1h1M179.6 113.6h1M197.5 107.5h1M163.8 117.6h1M198.6 105.7h1M196.6 110.8h1M165.2 119.6h1M179.1 117.3h1M195.2 108.5h1M197.1 101.1h1M193.4 100.7h1M176.1 107.1h1M169.6 115.6h1M191.8 111.8h1M188.6 111.8h1M185.4 100.4h1M192.1 108.4h1M207.6 102.2h1M200.4 98.4h1M182.3 112.4h1M184.5 113.9h1M202.3 105.4h1M198.5 90.7h1M205.0 101.5h1M196.4 109.4h1M204.1 102.9h1M185.0 100.2h1M203.4 101.4h1M188.3 109.8h1M202.4 92.8h1M206.5 103.1h1M200.5 103.6h1M191.9 104.8h1M168.1 112.9h1M199.3 91.8h1M185.9 114.5h1M199.7 105.6h1M202.8 105.1h1M202.5 93.2h1M198.3 104.4h1M168.4 118.5h1M194.9 109.5h1M194.3 100.0h1M197.3 109.3h1M185.6 100.1h1M195.1 109.3h1M203.9 93.3h1M188.9 111.2h1M172.4 116.6h1M186.1 109.4h1M206.7 106.8h1M180.9 104.2h1M162.9 119.6h1M174.6 114.5h1M206.5 101.9h1M190.0 109.7h1M197.4 103.9h1M194.7 100.7h1M181.3 111.0h1M190.4 98.3h1M184.8 112.1h1M204.5 107.9h1M187.8 106.2h1M185.6 100.2h1M181.8 110.1h1M177.8 111.2h1M189.6 107.3h1M204.0 106.9h1M192.5 106.7h1M189.9 111.4h1M205.5 105.8h1M206.8 98.1h1M202.1 104.6h1M168.1 117.9h1M207.5 98.5h1M190.4 106.5h1M162.4 119.3h1M173.6 107.8h1M204.0 106.6h1M195.0 98.5h1M168.6 115.4h1M178.1 116.0h1M202.5 92.1h1M163.4 120.5h1M194.0 96.9h1M182.3 112.6h1M195.6 93.8h1M165.8 117.2h1M192.7 109.2h1M207.3 106.6h1M172.0 114.5h1M164.2 118.1h1M191.6 108.8h1M175.9 112.1h1M188.9 112.9h1M183.1 115.3h1M202.5 96.9h1M192.9 97.3h1M179.9 110.7h1M171.8 111.4h1M197.6 104.7h1M180.7 111.1h1M201.1 101.5h1M206.8 92.2h1M187.4 111.3h1M166.9 116.2h1M201.3 89.7h1M206.0 104.0h1M176.9 111.0h1M203.0 103.1h1M181.4 105.7h1M201.7 100.6h1M186.7 114.1h1M201.8 98.0h1M187.5 110.6h1"/>
<path stroke="#6fb840" stroke-width="0.9" fill="none" stroke-opacity="0.85" d="M181.3 94.0h0.9M179.4 101.5h0.9M162.3 109.1h0.9M189.2 88.8h0.9M174.8 102.3h0.9M206.8 88.6h0.9M198.4 91.6h0.9M170.0 108.8h0.9M177.0 102.2h0.9M186.7 97.3h0.9M193.4 90.8h0.9M204.0 89.9h0.9M186.5 89.4h0.9M197.0 91.3h0.9M182.8 92.5h0.9M165.6 111.4h0.9M184.5 92.6h0.9M194.1 94.5h0.9M177.5 101.2h0.9M167.4 106.2h0.9M201.1 93.2h0.9M185.8 95.0h0.9M170.4 98.1h0.9M188.6 92.7h0.9M187.8 91.3h0.9M186.9 96.2h0.9M167.5 108.0h0.9M164.7 111.6h0.9M175.6 96.7h0.9M171.4 102.2h0.9M197.0 88.7h0.9M174.2 103.9h0.9M174.3 105.3h0.9M180.6 98.5h0.9M163.9 116.5h0.9M197.8 89.6h0.9M169.3 100.2h0.9M179.9 95.5h0.9M175.1 103.2h0.9M185.2 91.1h0.9M185.4 88.2h0.9M168.1 106.4h0.9M186.2 89.0h0.9M204.7 88.3h0.9M189.7 93.3h0.9M168.1 103.1h0.9M185.8 90.1h0.9M197.0 91.2h0.9M196.6 91.7h0.9M195.9 90.1h0.9M165.6 104.6h0.9M187.7 94.6h0.9M168.8 106.9h0.9M207.8 91.7h0.9M191.2 93.2h0.9M192.5 89.1h0.9M172.5 102.3h0.9M162.7 107.7h0.9M174.5 98.0h0.9M181.4 97.3h0.9M184.2 91.1h0.9M160.8 117.5h0.9M190.9 88.7h0.9M181.3 96.1h0.9M169.0 107.7h0.9M185.5 93.2h0.9M170.0 110.9h0.9M176.5 103.5h0.9M182.1 99.1h0.9M167.0 112.2h0.9M165.4 106.6h0.9M161.3 113.7h0.9M162.3 115.0h0.9M180.1 96.0h0.9M175.7 103.0h0.9M203.0 91.4h0.9M162.1 113.3h0.9M204.2 90.5h0.9M175.5 96.3h0.9M194.7 91.9h0.9M172.1 102.6h0.9M195.0 93.1h0.9M208.0 91.4h0.9M174.7 95.4h0.9M183.5 97.3h0.9M180.0 96.8h0.9M182.6 89.7h0.9M165.7 110.4h0.9M195.7 89.7h0.9M199.8 89.8h0.9M199.5 89.5h0.9M187.4 91.8h0.9M172.1 98.6h0.9M173.7 97.0h0.9M167.3 111.8h0.9M164.4 106.4h0.9M172.4 103.2h0.9M182.4 93.8h0.9M187.0 89.1h0.9M161.3 112.4h0.9M176.7 100.7h0.9M180.7 100.1h0.9M187.8 93.2h0.9M194.0 92.2h0.9M200.6 91.2h0.9M179.4 98.7h0.9M171.7 106.1h0.9M195.7 91.6h0.9M187.7 98.7h0.9M173.9 104.9h0.9M197.6 90.3h0.9M161.2 119.0h0.9M191.4 89.7h0.9M173.7 96.4h0.9M173.5 107.0h0.9M187.8 94.5h0.9M160.0 112.5h0.9M193.6 90.4h0.9"/>
<path stroke="#c03c7c" stroke-width="0.85" fill="none" stroke-opacity="0.7" d="M203.2 79.0h0.85M201.6 86.8h0.85M196.8 85.8h0.85M204.5 86.5h0.85M191.8 78.6h0.85M202.1 75.7h0.85M205.5 74.3h0.85M194.1 72.4h0.85M197.7 83.4h0.85M199.9 77.3h0.85M202.9 68.0h0.85M198.2 80.1h0.85M207.3 86.4h0.85M198.5 86.4h0.85M207.1 67.2h0.85M204.3 70.9h0.85M202.0 61.3h0.85M206.9 67.4h0.85M206.9 82.2h0.85M207.4 78.6h0.85M204.5 87.0h0.85M198.3 84.6h0.85M204.8 60.3h0.85M204.9 81.2h0.85M201.3 84.3h0.85M200.0 81.0h0.85M201.0 83.5h0.85M203.1 61.7h0.85M197.1 79.0h0.85M203.3 80.2h0.85M201.5 83.1h0.85M194.2 84.1h0.85M196.8 74.0h0.85M198.2 74.1h0.85M203.7 82.9h0.85M203.5 86.5h0.85M204.9 86.0h0.85M207.1 57.2h0.85M197.5 84.8h0.85M206.5 71.9h0.85M202.7 84.8h0.85M204.7 76.3h0.85M196.9 80.6h0.85M202.1 87.5h0.85M207.7 86.1h0.85M192.7 73.3h0.85M205.2 73.0h0.85M206.1 86.8h0.85M199.3 71.0h0.85M207.0 86.1h0.85M203.0 84.4h0.85M206.2 69.5h0.85M205.3 82.7h0.85M204.8 75.1h0.85M205.4 70.5h0.85M200.6 72.7h0.85M203.4 71.5h0.85M198.1 74.8h0.85M202.7 74.2h0.85M204.6 75.4h0.85M199.6 80.1h0.85M205.1 58.3h0.85M200.6 76.5h0.85M204.2 86.3h0.85M207.4 77.7h0.85M203.5 68.7h0.85M206.3 85.1h0.85M206.8 85.6h0.85M195.6 78.5h0.85M207.5 86.0h0.85M204.1 68.4h0.85M200.0 64.1h0.85M197.7 73.2h0.85M198.3 82.5h0.85M204.2 85.6h0.85M204.1 81.2h0.85M202.0 78.4h0.85M192.8 74.1h0.85M206.4 75.7h0.85M207.8 81.9h0.85M207.4 63.6h0.85M204.2 70.1h0.85M199.4 82.4h0.85M207.8 55.5h0.85M204.2 70.3h0.85M199.6 67.2h0.85M208.0 83.2h0.85M202.2 83.1h0.85M204.6 80.1h0.85M205.7 87.1h0.85M195.5 65.8h0.85M195.8 66.1h0.85M205.7 74.0h0.85M206.8 73.2h0.85M207.0 84.4h0.85M197.5 79.6h0.85M204.7 66.9h0.85M200.6 81.9h0.85M205.2 70.2h0.85M196.2 69.0h0.85M202.5 77.0h0.85M201.4 80.4h0.85M198.1 76.7h0.85M200.1 79.9h0.85M196.2 87.0h0.85M204.6 73.4h0.85M207.7 81.5h0.85M208.2 80.0h0.85M205.4 74.5h0.85M204.8 70.0h0.85M204.8 72.0h0.85M203.7 75.5h0.85M204.8 79.0h0.85M197.8 82.7h0.85M204.1 75.7h0.85M198.2 70.8h0.85M204.3 83.6h0.85M203.3 79.2h0.85M201.6 77.1h0.85M205.8 75.4h0.85M207.1 77.8h0.85M206.4 81.3h0.85M207.7 62.6h0.85M203.9 83.4h0.85M205.3 72.6h0.85M203.7 84.1h0.85M202.5 78.7h0.85M204.3 80.5h0.85M207.1 84.6h0.85M204.9 77.2h0.85M204.8 86.1h0.85M206.4 85.4h0.85M206.8 71.8h0.85M201.7 56.2h0.85M207.3 75.3h0.85M204.2 71.8h0.85M203.9 73.2h0.85M190.2 83.1h0.85M200.1 87.4h0.85M206.6 85.3h0.85M206.9 74.3h0.85M201.1 79.3h0.85M206.1 74.0h0.85M207.0 83.6h0.85M203.4 80.1h0.85M208.1 80.1h0.85M204.1 81.4h0.85M199.3 79.5h0.85M195.9 64.6h0.85M204.8 84.6h0.85M207.3 53.8h0.85M198.9 83.5h0.85M201.5 77.9h0.85M207.8 84.5h0.85M203.2 65.6h0.85M202.1 80.6h0.85M199.5 84.2h0.85M199.5 70.7h0.85M201.0 83.4h0.85M204.4 80.9h0.85M203.1 86.0h0.85M205.3 63.1h0.85M204.0 87.2h0.85M207.7 58.5h0.85M199.7 76.8h0.85M195.3 79.0h0.85M195.4 87.1h0.85M199.5 75.0h0.85M203.3 66.1h0.85M200.4 62.5h0.85M195.8 85.7h0.85M207.6 67.3h0.85M206.0 85.6h0.85M205.7 86.0h0.85M196.3 82.8h0.85M201.3 66.8h0.85M205.0 66.6h0.85M208.1 87.3h0.85M199.7 82.7h0.85M206.0 74.8h0.85M192.2 80.5h0.85M196.1 86.8h0.85M193.8 86.2h0.85M201.6 71.7h0.85M200.3 74.5h0.85M202.5 62.9h0.85M206.3 73.7h0.85M201.2 77.8h0.85M203.0 68.1h0.85M195.6 80.6h0.85M205.7 53.6h0.85M203.8 84.7h0.85M203.9 82.6h0.85M199.7 79.9h0.85M205.1 80.2h0.85M197.8 74.1h0.85M201.9 71.4h0.85M197.4 87.1h0.85M200.0 72.7h0.85M204.8 82.1h0.85M203.3 84.6h0.85M202.2 76.9h0.85M202.8 70.0h0.85M200.4 70.2h0.85M201.9 76.0h0.85M202.4 81.1h0.85M190.6 81.7h0.85M203.2 81.8h0.85M203.5 77.3h0.85M196.5 75.0h0.85M202.5 86.1h0.85M199.8 66.9h0.85M201.9 81.8h0.85M205.8 83.3h0.85M199.9 84.2h0.85M203.7 78.3h0.85M202.7 68.0h0.85M208.0 83.8h0.85M201.5 75.7h0.85M196.3 76.7h0.85M205.6 78.3h0.85M203.4 80.5h0.85M203.1 76.1h0.85M203.6 80.7h0.85M207.3 82.8h0.85M206.7 75.0h0.85M207.9 67.7h0.85M191.2 71.3h0.85M200.0 78.1h0.85M199.2 71.3h0.85M199.2 81.9h0.85M203.2 85.5h0.85M204.6 80.0h0.85M201.8 85.1h0.85M204.5 65.8h0.85M194.9 82.3h0.85M203.0 56.1h0.85M205.5 57.8h0.85M204.6 78.5h0.85M202.0 85.7h0.85M200.8 70.7h0.85M207.0 74.4h0.85M188.5 78.4h0.85M200.5 79.8h0.85M201.5 82.7h0.85M199.8 63.6h0.85M198.3 60.3h0.85M206.0 73.8h0.85M197.7 79.8h0.85M206.0 74.5h0.85M191.8 83.1h0.85M201.7 69.8h0.85M199.0 74.1h0.85M203.1 80.2h0.85M205.7 66.1h0.85M203.1 76.9h0.85M194.5 78.9h0.85M207.9 55.3h0.85M207.9 79.0h0.85M196.2 81.1h0.85M206.2 63.5h0.85M200.9 63.0h0.85M195.1 74.6h0.85M202.5 73.0h0.85M205.5 71.1h0.85M207.5 63.3h0.85M204.0 80.1h0.85M201.1 82.6h0.85M202.8 67.7h0.85M199.0 87.0h0.85M199.8 78.4h0.85M199.8 69.6h0.85M207.0 79.3h0.85M206.4 79.3h0.85M206.5 83.8h0.85M206.8 86.2h0.85M200.1 83.5h0.85M206.3 69.5h0.85M201.3 84.0h0.85M201.9 78.6h0.85M207.7 65.0h0.85M203.3 72.2h0.85M198.5 72.1h0.85M205.9 76.5h0.85M203.4 78.5h0.85M202.4 84.8h0.85M200.1 84.0h0.85M205.0 78.9h0.85M207.0 53.9h0.85M203.1 84.9h0.85M204.6 83.3h0.85M201.3 82.4h0.85M198.0 77.2h0.85M201.8 85.8h0.85M195.9 77.1h0.85M207.3 79.3h0.85M207.0 59.7h0.85M201.9 69.4h0.85M205.2 68.6h0.85M194.0 85.7h0.85M195.1 65.1h0.85M197.4 87.4h0.85M202.8 86.0h0.85M207.5 77.2h0.85M191.6 80.2h0.85M206.4 79.3h0.85M205.0 82.5h0.85M201.8 80.8h0.85M204.8 76.8h0.85M207.4 73.8h0.85M203.7 68.5h0.85M195.9 81.6h0.85M196.9 66.1h0.85M197.9 84.3h0.85M204.8 73.8h0.85M201.6 84.0h0.85M201.8 81.4h0.85M205.3 76.9h0.85M203.7 67.8h0.85M206.3 83.5h0.85M207.7 76.0h0.85M193.9 86.0h0.85M203.4 73.7h0.85M201.8 85.8h0.85M207.2 81.0h0.85M200.9 85.7h0.85M204.1 87.0h0.85M202.8 74.9h0.85M205.8 86.2h0.85M207.6 85.2h0.85M206.4 71.2h0.85M207.3 69.5h0.85M207.2 62.0h0.85M201.6 77.9h0.85M206.2 52.8h0.85M197.3 86.0h0.85M203.4 83.6h0.85M205.2 87.4h0.85M202.9 82.5h0.85M204.9 63.2h0.85M204.4 84.7h0.85M203.5 79.1h0.85M203.4 79.2h0.85M206.8 82.9h0.85M202.0 79.0h0.85M202.8 72.7h0.85M206.4 76.0h0.85M200.1 77.1h0.85M208.1 81.4h0.85M207.2 60.9h0.85M201.8 67.8h0.85M206.3 71.8h0.85M203.7 85.0h0.85M197.5 74.9h0.85M197.5 84.2h0.85M206.7 75.8h0.85M197.9 80.6h0.85M201.9 86.6h0.85M207.4 62.4h0.85M206.7 73.0h0.85"/>
<path stroke="#ffa535" stroke-width="0.85" fill="none" stroke-opacity="0.7" d="M222.3 66.8h0.85M229.1 66.4h0.85M239.9 86.7h0.85M229.2 58.0h0.85M227.4 53.0h0.85M249.1 80.9h0.85M234.9 79.1h0.85M227.1 72.5h0.85M217.8 35.7h0.85M230.1 67.0h0.85M237.4 82.7h0.85M252.8 79.8h0.85M238.4 75.9h0.85M217.3 70.6h0.85M225.2 80.2h0.85M212.2 64.9h0.85M232.1 59.7h0.85M218.5 75.0h0.85M224.2 28.3h0.85M224.1 39.9h0.85M218.6 72.7h0.85M222.2 80.8h0.85M249.5 49.9h0.85M246.3 82.1h0.85M233.7 53.8h0.85M221.8 68.4h0.85M225.8 68.7h0.85M227.7 71.8h0.85M216.6 86.1h0.85M217.2 85.5h0.85M226.5 65.5h0.85M219.8 67.2h0.85M216.9 46.9h0.85M256.5 62.0h0.85M215.5 78.2h0.85M230.2 73.0h0.85M225.9 63.7h0.85M210.7 58.4h0.85M228.6 70.6h0.85M236.7 65.6h0.85M254.3 68.3h0.85M223.8 73.9h0.85M212.4 43.9h0.85M219.3 80.5h0.85M225.6 38.4h0.85M232.2 48.6h0.85M236.4 40.5h0.85M226.7 33.0h0.85M243.4 84.7h0.85M233.9 44.8h0.85M241.8 84.5h0.85M243.5 45.7h0.85M214.5 45.7h0.85M211.5 85.4h0.85M219.7 37.4h0.85M244.5 32.6h0.85M253.7 63.9h0.85M224.2 53.4h0.85M220.1 70.0h0.85M235.9 82.9h0.85M215.1 58.8h0.85M219.3 46.0h0.85M245.1 48.2h0.85M215.7 83.5h0.85M241.2 72.6h0.85M239.0 76.4h0.85M240.4 73.0h0.85M240.6 86.5h0.85M222.0 43.2h0.85M227.2 84.7h0.85M240.3 86.2h0.85M225.8 85.6h0.85M210.0 44.4h0.85M251.7 79.5h0.85M224.4 79.4h0.85M217.0 59.6h0.85M250.3 84.4h0.85M221.1 73.6h0.85M231.9 74.2h0.85M222.5 59.9h0.85M217.7 71.0h0.85M218.0 37.4h0.85M227.1 71.8h0.85M215.9 69.0h0.85M230.3 51.0h0.85M210.1 87.3h0.85M217.2 43.6h0.85M247.0 57.5h0.85M221.1 71.6h0.85M220.9 68.2h0.85M251.7 69.6h0.85M240.0 40.6h0.85M257.1 79.4h0.85M211.0 86.2h0.85M222.0 76.5h0.85M245.5 67.4h0.85M237.7 62.2h0.85M240.4 67.8h0.85M250.1 45.8h0.85M222.4 80.2h0.85M210.1 86.6h0.85M218.9 82.0h0.85M223.8 85.1h0.85M225.0 60.6h0.85M249.0 76.0h0.85M215.6 68.0h0.85M235.5 85.8h0.85M217.8 58.0h0.85M256.0 82.7h0.85M222.6 75.2h0.85M226.4 78.1h0.85M210.8 40.5h0.85M245.6 51.1h0.85M212.1 68.1h0.85M226.5 66.2h0.85M225.4 69.9h0.85M228.0 75.0h0.85M241.9 78.8h0.85M230.9 67.5h0.85M242.4 79.7h0.85M231.7 86.9h0.85M230.3 65.7h0.85M237.9 40.7h0.85M217.5 82.8h0.85M231.3 39.4h0.85M227.4 46.8h0.85M211.6 71.6h0.85M216.6 57.8h0.85M213.2 33.3h0.85M215.2 45.2h0.85M210.9 49.9h0.85M209.9 76.4h0.85M250.1 73.2h0.85M210.4 41.3h0.85M241.2 80.8h0.85M213.9 74.9h0.85M212.3 81.8h0.85M220.7 83.6h0.85M232.9 49.3h0.85M224.1 28.1h0.85M226.9 39.1h0.85M230.7 50.3h0.85M254.4 82.7h0.85M221.7 55.1h0.85M229.7 81.7h0.85M238.6 82.2h0.85M254.9 57.2h0.85M222.0 80.5h0.85M220.7 75.4h0.85M230.1 45.9h0.85M255.5 50.5h0.85M214.5 73.2h0.85M218.0 54.0h0.85M213.5 78.3h0.85M216.5 62.0h0.85M211.8 85.5h0.85M217.2 31.7h0.85M226.4 83.1h0.85M236.6 45.0h0.85M215.5 78.9h0.85M246.0 86.0h0.85M251.7 49.5h0.85M223.9 55.5h0.85M209.9 40.1h0.85M228.2 82.1h0.85M224.6 83.4h0.85M213.9 76.4h0.85M246.7 41.1h0.85M242.4 68.3h0.85M216.5 81.9h0.85M236.7 66.5h0.85M213.7 67.4h0.85M234.0 75.6h0.85M235.8 34.9h0.85M213.3 77.5h0.85M228.2 78.1h0.85M222.2 39.0h0.85M230.8 46.4h0.85M213.3 76.4h0.85M234.6 78.6h0.85M237.1 65.8h0.85M213.4 47.1h0.85M214.1 84.6h0.85M220.7 65.8h0.85M240.3 56.6h0.85M210.2 69.9h0.85M236.5 82.1h0.85M216.1 75.9h0.85M220.4 81.0h0.85M227.8 62.6h0.85M214.3 76.9h0.85M213.4 57.5h0.85M224.5 50.5h0.85M244.1 46.1h0.85M220.0 31.5h0.85M220.1 61.7h0.85M218.0 42.7h0.85M222.5 83.7h0.85M213.2 66.7h0.85M222.2 42.4h0.85M244.2 86.1h0.85M226.8 76.2h0.85M240.6 77.2h0.85M229.9 38.5h0.85M228.5 81.1h0.85M229.4 42.0h0.85M220.7 77.8h0.85M222.0 69.9h0.85M211.1 62.2h0.85M219.7 53.3h0.85M255.9 37.3h0.85M220.1 86.6h0.85M218.6 54.9h0.85M219.1 56.2h0.85M226.4 45.9h0.85M224.4 31.7h0.85M232.3 86.9h0.85M217.1 76.2h0.85M215.9 71.4h0.85M221.7 41.4h0.85M223.2 80.9h0.85M231.9 76.9h0.85M211.8 52.6h0.85M212.2 81.9h0.85M215.9 79.4h0.85M218.7 73.3h0.85M214.3 67.2h0.85M222.1 74.8h0.85M221.6 68.5h0.85M241.1 64.2h0.85M252.0 84.6h0.85M213.6 85.1h0.85M225.5 72.7h0.85M216.2 56.9h0.85M218.0 78.3h0.85M215.1 38.4h0.85M244.1 63.2h0.85M228.4 79.9h0.85M212.8 60.1h0.85M214.8 73.1h0.85M233.4 76.3h0.85M212.4 59.4h0.85M252.1 51.0h0.85M221.0 71.0h0.85M215.6 52.9h0.85M234.5 60.5h0.85M229.2 82.0h0.85M229.3 83.5h0.85M222.8 80.7h0.85M212.4 39.2h0.85M233.9 35.3h0.85M218.2 74.7h0.85M216.3 57.0h0.85M226.5 53.3h0.85M241.0 33.4h0.85M213.9 83.2h0.85M246.9 64.4h0.85M233.5 67.2h0.85M252.3 83.2h0.85M241.0 50.5h0.85M225.4 33.9h0.85M219.6 51.0h0.85M237.6 45.4h0.85M251.1 65.0h0.85M230.9 32.0h0.85M232.4 61.9h0.85M221.9 55.2h0.85M234.4 65.3h0.85M228.2 75.9h0.85M223.2 71.2h0.85M248.3 45.8h0.85M242.7 48.7h0.85M238.1 62.8h0.85M222.9 53.8h0.85M228.9 55.6h0.85M219.7 81.9h0.85M224.2 58.9h0.85M234.3 84.9h0.85M220.9 72.9h0.85M229.0 68.0h0.85M253.8 44.6h0.85M219.9 73.8h0.85M238.2 77.4h0.85M212.2 29.4h0.85M231.8 77.5h0.85M223.2 74.6h0.85M222.0 86.8h0.85M256.3 78.6h0.85M232.4 85.2h0.85M226.3 86.4h0.85M222.5 55.0h0.85M228.8 73.1h0.85M212.0 75.1h0.85M224.2 85.5h0.85M219.0 43.4h0.85M226.6 28.4h0.85M232.8 86.3h0.85M227.7 70.4h0.85M220.2 38.4h0.85M215.5 84.0h0.85M219.2 58.9h0.85M221.2 82.1h0.85M234.5 54.0h0.85M211.1 75.6h0.85M224.1 80.4h0.85M233.2 54.3h0.85M229.2 74.8h0.85M214.4 52.0h0.85M240.4 39.5h0.85M220.9 67.8h0.85M246.2 87.1h0.85M257.1 70.4h0.85M210.4 29.8h0.85M237.6 49.2h0.85M243.4 67.8h0.85M252.2 68.6h0.85M240.0 55.6h0.85M232.5 34.1h0.85M232.6 56.9h0.85M241.7 39.5h0.85M256.8 38.9h0.85M241.4 46.2h0.85M229.4 48.0h0.85M233.1 59.2h0.85M231.2 65.1h0.85M210.6 84.9h0.85M249.6 82.9h0.85M237.2 62.4h0.85M232.0 71.3h0.85M243.5 56.7h0.85M222.1 55.1h0.85M221.9 60.8h0.85M238.3 71.7h0.85M248.8 54.4h0.85M224.2 47.7h0.85M220.0 65.7h0.85M224.0 80.5h0.85M226.8 58.1h0.85M230.0 56.9h0.85M219.7 65.9h0.85M214.6 83.3h0.85M230.6 79.9h0.85M242.4 73.3h0.85M233.1 57.1h0.85M217.9 69.6h0.85M217.6 67.0h0.85M216.0 56.2h0.85M251.4 73.3h0.85M217.9 58.4h0.85M260.0 50.2h0.85M233.0 78.9h0.85M212.9 52.3h0.85M232.2 49.9h0.85M236.6 42.5h0.85M241.9 39.9h0.85M210.1 67.3h0.85M219.7 73.7h0.85M215.6 66.5h0.85M217.2 69.9h0.85M239.2 63.6h0.85M213.2 74.2h0.85M221.4 56.1h0.85M217.4 78.6h0.85M222.7 69.0h0.85M232.6 63.8h0.85M214.3 71.0h0.85M229.8 79.6h0.85M219.8 58.1h0.85M234.6 78.3h0.85M218.2 42.0h0.85M209.3 65.3h0.85M230.7 55.7h0.85M250.8 73.3h0.85M219.7 49.2h0.85M233.8 27.6h0.85M243.2 68.5h0.85M216.0 76.3h0.85M233.7 64.9h0.85M235.0 45.2h0.85M222.1 36.2h0.85M249.3 55.2h0.85M221.4 81.2h0.85M210.1 71.3h0.85M217.4 52.9h0.85M246.9 66.2h0.85M239.5 75.9h0.85M241.9 78.7h0.85M222.6 85.5h0.85M242.2 86.0h0.85M218.2 77.1h0.85M209.7 64.1h0.85M228.2 49.8h0.85M256.4 52.2h0.85M242.1 64.3h0.85M239.8 35.0h0.85M214.1 61.4h0.85M252.1 68.3h0.85M223.7 79.5h0.85M230.0 85.4h0.85M233.4 65.1h0.85M210.4 66.4h0.85M224.2 55.1h0.85M249.5 50.9h0.85M230.5 77.5h0.85M223.2 39.2h0.85M239.6 79.7h0.85M210.6 83.9h0.85M210.9 42.8h0.85M220.6 77.3h0.85M226.8 81.8h0.85M217.0 68.3h0.85M213.7 76.0h0.85M245.4 46.8h0.85M216.8 79.4h0.85M221.7 42.2h0.85M219.0 47.7h0.85M217.4 77.3h0.85M226.4 86.5h0.85M213.5 60.7h0.85M241.0 73.9h0.85M222.4 59.6h0.85M222.3 65.9h0.85M217.3 75.1h0.85M256.9 78.5h0.85M221.7 83.0h0.85M257.1 83.7h0.85M224.6 39.7h0.85M224.2 37.5h0.85M244.2 78.4h0.85M247.9 86.2h0.85M209.7 41.6h0.85M245.0 51.6h0.85M220.8 57.6h0.85M222.3 73.7h0.85M215.0 87.1h0.85M212.8 59.5h0.85M259.3 83.4h0.85M237.3 64.0h0.85M210.4 59.8h0.85M244.7 81.3h0.85M211.0 52.2h0.85M230.4 58.4h0.85M220.8 79.5h0.85M243.5 83.5h0.85M234.2 83.2h0.85M215.2 86.8h0.85M238.8 39.8h0.85M236.0 86.6h0.85M256.5 55.5h0.85M220.1 49.2h0.85M251.9 42.7h0.85M239.6 44.0h0.85M222.5 84.3h0.85M214.5 87.0h0.85M213.3 65.3h0.85M214.0 70.8h0.85M220.6 61.0h0.85M229.4 32.8h0.85M225.5 38.9h0.85M239.6 41.7h0.85M253.5 84.6h0.85M251.2 84.3h0.85M223.4 75.7h0.85M233.8 82.0h0.85M219.4 62.6h0.85M217.0 33.9h0.85M228.6 66.9h0.85M216.2 36.5h0.85M210.7 85.4h0.85M228.8 73.7h0.85M233.9 66.3h0.85M214.8 43.0h0.85M224.2 83.6h0.85M225.6 52.6h0.85M229.9 42.0h0.85M221.2 60.8h0.85M216.7 73.6h0.85M234.2 86.2h0.85M222.3 79.5h0.85M226.3 75.3h0.85M254.3 74.6h0.85M234.0 87.2h0.85M228.2 76.2h0.85M215.8 66.6h0.85M239.4 69.5h0.85M227.8 75.3h0.85M228.6 79.4h0.85M231.2 86.6h0.85M225.7 59.9h0.85M233.3 51.1h0.85M236.8 63.0h0.85M213.1 77.3h0.85M209.8 80.2h0.85M240.3 56.4h0.85M242.8 31.7h0.85M246.5 75.6h0.85M213.2 74.7h0.85M222.7 46.6h0.85M212.1 65.8h0.85M219.0 65.5h0.85M245.3 56.9h0.85M213.3 83.5h0.85M210.5 87.0h0.85M234.1 68.2h0.85M223.1 84.1h0.85M214.1 83.4h0.85M219.0 64.6h0.85M218.4 80.8h0.85M245.2 64.5h0.85M242.3 77.5h0.85M219.6 68.6h0.85M245.5 79.0h0.85M219.8 47.6h0.85M214.4 75.3h0.85M221.3 52.0h0.85M231.9 86.1h0.85M237.3 72.3h0.85M237.0 50.1h0.85M240.9 44.5h0.85M231.4 55.0h0.85M240.8 84.4h0.85M231.1 75.1h0.85M229.1 60.9h0.85M229.6 52.7h0.85M209.7 84.4h0.85M221.9 71.0h0.85M236.9 51.7h0.85M229.2 70.0h0.85M214.3 38.9h0.85M224.6 62.7h0.85M228.0 57.4h0.85M239.4 83.8h0.85M213.4 84.3h0.85M226.0 70.9h0.85M251.1 53.7h0.85M209.8 66.7h0.85M227.5 84.4h0.85M222.6 56.1h0.85M210.0 72.7h0.85M216.2 32.3h0.85M237.7 76.7h0.85M212.3 61.5h0.85M219.6 58.3h0.85M222.2 79.8h0.85M236.1 49.7h0.85M219.4 54.2h0.85M249.4 78.7h0.85M212.3 74.1h0.85M251.9 80.0h0.85M222.1 36.7h0.85M235.5 37.8h0.85M230.8 61.5h0.85M240.6 66.8h0.85M243.2 69.5h0.85M223.6 82.1h0.85M212.9 69.0h0.85M222.4 51.6h0.85M222.9 76.2h0.85M217.0 71.3h0.85M249.7 76.3h0.85M211.6 82.1h0.85M220.2 79.8h0.85M238.8 87.5h0.85M240.2 49.8h0.85M235.2 78.9h0.85M215.3 55.2h0.85M240.9 75.2h0.85M233.1 65.0h0.85M218.5 75.1h0.85M256.6 83.7h0.85M234.8 69.9h0.85M234.1 83.9h0.85M242.1 70.0h0.85M249.3 61.9h0.85M217.9 77.0h0.85M237.9 74.9h0.85M213.0 51.3h0.85M241.6 74.8h0.85M225.4 57.9h0.85M216.0 63.3h0.85M217.0 72.1h0.85M226.7 43.8h0.85M220.9 72.2h0.85M247.2 60.7h0.85M216.2 65.0h0.85M226.3 47.5h0.85M245.2 46.2h0.85M224.7 45.7h0.85M231.9 62.1h0.85M231.3 82.6h0.85M249.8 55.0h0.85M247.5 75.3h0.85M235.0 64.6h0.85M224.1 72.2h0.85M214.0 66.0h0.85M209.4 66.0h0.85M221.4 85.6h0.85M218.4 78.3h0.85M250.1 74.4h0.85M214.4 75.3h0.85M234.9 51.8h0.85M227.2 86.6h0.85M225.5 47.5h0.85M216.7 67.0h0.85M243.3 63.6h0.85M233.2 73.0h0.85M209.6 70.7h0.85M235.2 68.8h0.85M230.7 67.0h0.85M212.4 54.3h0.85M212.3 78.8h0.85M209.3 44.2h0.85M219.9 47.5h0.85M210.6 73.4h0.85M225.7 67.1h0.85M225.6 43.5h0.85M229.4 50.3h0.85M211.6 60.1h0.85M223.6 83.1h0.85M229.1 63.5h0.85M218.0 76.3h0.85M211.7 68.9h0.85M231.1 84.5h0.85M236.9 80.8h0.85M258.7 61.5h0.85M253.5 45.0h0.85M216.0 27.3h0.85M220.9 41.3h0.85M217.3 55.8h0.85M210.7 81.9h0.85M212.5 40.3h0.85M216.9 39.1h0.85M215.2 71.4h0.85M234.3 78.7h0.85M243.0 87.4h0.85M231.3 29.9h0.85M237.7 66.2h0.85M245.9 87.0h0.85M234.6 68.6h0.85M211.0 81.6h0.85M249.1 44.6h0.85M227.3 76.7h0.85M243.8 82.3h0.85M222.1 77.6h0.85M232.6 87.2h0.85M219.2 82.4h0.85M218.3 41.0h0.85M230.2 52.6h0.85M210.9 43.6h0.85M218.5 32.4h0.85M223.0 84.0h0.85M215.7 39.1h0.85M234.6 27.7h0.85M222.8 73.2h0.85M214.5 57.6h0.85M218.2 73.3h0.85M217.3 28.5h0.85M216.2 55.9h0.85M225.2 84.6h0.85M258.8 61.4h0.85M229.2 53.0h0.85M214.7 78.4h0.85M243.1 82.1h0.85M220.8 71.0h0.85M238.5 46.6h0.85M222.1 74.1h0.85M228.8 82.2h0.85M236.4 73.6h0.85M220.3 76.4h0.85M239.9 68.6h0.85M214.2 49.3h0.85M221.6 84.1h0.85M232.7 84.0h0.85M234.9 62.4h0.85M219.2 72.4h0.85M218.5 84.1h0.85M236.5 70.7h0.85M211.1 62.6h0.85M221.5 73.5h0.85M250.8 86.4h0.85M236.8 60.3h0.85M231.1 65.8h0.85M221.1 65.3h0.85M225.7 72.0h0.85M233.2 82.8h0.85M221.7 79.4h0.85M215.1 34.9h0.85M225.6 47.2h0.85M254.0 61.3h0.85M211.9 59.2h0.85M227.2 82.4h0.85M222.6 52.4h0.85M243.4 43.9h0.85M213.1 79.1h0.85M239.6 82.1h0.85M234.8 57.8h0.85M246.9 80.0h0.85M226.3 51.7h0.85M232.2 59.6h0.85M229.2 71.2h0.85M212.0 79.2h0.85M227.0 85.1h0.85M248.5 80.6h0.85M219.5 36.2h0.85M221.0 67.4h0.85M217.0 72.9h0.85M251.0 71.0h0.85M249.9 63.2h0.85M212.5 37.3h0.85M227.9 59.9h0.85M245.5 27.5h0.85M209.4 79.2h0.85M233.7 69.5h0.85M231.5 30.9h0.85M224.9 82.7h0.85M230.9 62.5h0.85M228.1 80.2h0.85M212.8 65.0h0.85M212.1 62.1h0.85M229.8 72.8h0.85M233.4 58.7h0.85M245.2 61.4h0.85M222.4 80.6h0.85M225.0 66.4h0.85M230.3 75.0h0.85M212.2 67.9h0.85M212.0 33.5h0.85M234.6 71.8h0.85M246.8 59.0h0.85M218.8 76.6h0.85M214.1 72.8h0.85M226.5 51.4h0.85M216.6 61.0h0.85M215.5 54.2h0.85M229.0 66.5h0.85M228.5 55.1h0.85M259.6 84.1h0.85M209.7 61.2h0.85M228.6 77.7h0.85M214.8 81.7h0.85M237.3 63.6h0.85M240.6 80.0h0.85M250.5 85.1h0.85M218.0 85.2h0.85M226.2 70.6h0.85M210.2 75.0h0.85M214.3 81.0h0.85M235.9 65.4h0.85M249.3 48.4h0.85M241.3 30.0h0.85M223.3 69.7h0.85M231.5 47.5h0.85M213.3 78.6h0.85M229.3 69.4h0.85M224.9 81.8h0.85M215.8 33.2h0.85M214.5 74.8h0.85M249.4 44.4h0.85M246.9 62.5h0.85M215.4 75.8h0.85M236.6 74.1h0.85M237.4 66.3h0.85M211.1 49.7h0.85M225.4 55.5h0.85M213.3 64.4h0.85M213.7 57.2h0.85M217.3 56.7h0.85M209.7 64.0h0.85M221.6 84.0h0.85M238.3 56.2h0.85M224.9 53.8h0.85M251.5 46.6h0.85M230.3 49.4h0.85M213.9 44.3h0.85M232.9 84.8h0.85M235.7 68.3h0.85M239.5 56.9h0.85M220.2 62.4h0.85M209.7 79.8h0.85M220.2 45.0h0.85M220.4 37.2h0.85M222.7 56.7h0.85M215.6 60.1h0.85M227.2 59.7h0.85M226.4 34.5h0.85M250.6 80.9h0.85M220.6 70.5h0.85M237.4 59.9h0.85M241.4 77.9h0.85M259.3 72.8h0.85M220.2 78.7h0.85M233.4 56.7h0.85M219.6 59.4h0.85M218.8 73.3h0.85M225.1 68.4h0.85M213.0 79.4h0.85M219.7 71.2h0.85M210.2 86.9h0.85M231.2 58.5h0.85M231.3 59.3h0.85M213.2 75.6h0.85M225.1 86.7h0.85M222.5 71.7h0.85M227.7 73.9h0.85M213.1 64.6h0.85M249.9 84.5h0.85M215.2 70.9h0.85M223.5 32.3h0.85M258.1 32.6h0.85M212.5 81.2h0.85M226.5 86.4h0.85M254.1 69.1h0.85M228.4 80.5h0.85M214.2 68.4h0.85M210.5 71.9h0.85M244.6 52.5h0.85M211.1 45.6h0.85M211.1 80.2h0.85M214.7 28.2h0.85M216.2 86.3h0.85M220.5 84.0h0.85M233.7 64.4h0.85M253.5 42.9h0.85M243.1 72.6h0.85M224.5 59.9h0.85M231.4 76.2h0.85M248.7 50.8h0.85M213.6 68.9h0.85M211.2 46.8h0.85M225.4 58.4h0.85M219.0 45.9h0.85M252.5 82.9h0.85M226.7 59.6h0.85M219.4 76.3h0.85M254.7 37.1h0.85M220.7 76.8h0.85M247.0 82.8h0.85M219.6 66.3h0.85M221.2 40.5h0.85M234.6 71.5h0.85M232.3 39.7h0.85M219.3 77.3h0.85M243.2 73.5h0.85M256.6 54.5h0.85M229.6 75.7h0.85M213.8 54.0h0.85M244.6 66.4h0.85M232.4 66.3h0.85M233.9 61.1h0.85M246.8 77.9h0.85M241.8 74.0h0.85M235.7 57.9h0.85M247.4 69.2h0.85M230.5 43.5h0.85M212.2 80.3h0.85M237.6 65.0h0.85M231.6 70.5h0.85M211.7 45.0h0.85M220.6 70.8h0.85M247.6 79.1h0.85M226.4 73.4h0.85M212.6 73.9h0.85M213.6 82.0h0.85M232.1 56.2h0.85M224.6 44.5h0.85M229.3 32.7h0.85M236.3 43.1h0.85M211.1 60.1h0.85M227.5 70.5h0.85M225.5 78.8h0.85M230.2 70.1h0.85M231.0 83.9h0.85M227.6 84.2h0.85M226.5 86.2h0.85M240.7 86.2h0.85M225.8 72.2h0.85M225.1 78.4h0.85M214.5 78.2h0.85M232.0 73.7h0.85M248.8 79.0h0.85M251.6 37.8h0.85M215.0 58.5h0.85M226.4 77.2h0.85M225.4 70.6h0.85M244.0 40.0h0.85M247.2 60.0h0.85M222.5 64.0h0.85M237.9 85.7h0.85M224.8 74.7h0.85M240.7 52.5h0.85M216.8 44.6h0.85M234.4 33.9h0.85M251.1 74.3h0.85M215.9 41.9h0.85M250.0 81.3h0.85M241.9 68.2h0.85M222.3 87.4h0.85M254.6 56.2h0.85M232.9 65.4h0.85M233.6 82.7h0.85M216.4 84.3h0.85M259.1 76.8h0.85M246.2 71.7h0.85M212.2 85.5h0.85M230.8 52.5h0.85M228.8 73.6h0.85M244.5 75.7h0.85M209.4 86.3h0.85M239.0 77.3h0.85M235.5 63.6h0.85M241.7 44.4h0.85M210.6 75.6h0.85M225.7 67.2h0.85M227.8 52.7h0.85M214.5 84.6h0.85M233.4 66.5h0.85M226.4 50.7h0.85M221.9 56.0h0.85M232.4 35.1h0.85M227.9 73.7h0.85M257.6 68.9h0.85M214.6 49.6h0.85M236.9 66.8h0.85M217.4 64.4h0.85M212.3 37.2h0.85M223.4 84.1h0.85M260.0 57.4h0.85M218.8 52.7h0.85M216.7 85.1h0.85M216.4 68.3h0.85M240.5 55.7h0.85M227.2 57.0h0.85M238.2 62.6h0.85M239.7 63.7h0.85M226.7 30.2h0.85M248.9 86.3h0.85M213.8 28.4h0.85M238.4 51.5h0.85M209.9 75.8h0.85M223.1 72.4h0.85M212.0 51.1h0.85M230.6 36.5h0.85M240.9 42.1h0.85M240.9 34.2h0.85M227.9 47.3h0.85M245.5 66.1h0.85M227.9 77.9h0.85M213.8 80.3h0.85M224.2 77.1h0.85M211.4 83.7h0.85M211.1 48.0h0.85M223.6 55.9h0.85M231.6 75.5h0.85M211.4 73.6h0.85M218.8 77.9h0.85M212.3 84.4h0.85M251.7 65.7h0.85M230.2 49.3h0.85M212.7 83.0h0.85M223.0 61.4h0.85M230.8 84.3h0.85M214.6 82.5h0.85M220.6 61.2h0.85M220.8 40.2h0.85M224.5 35.7h0.85M230.2 48.8h0.85M235.9 47.8h0.85M240.6 65.7h0.85M244.7 84.2h0.85M227.7 51.1h0.85M244.8 39.3h0.85M231.6 72.7h0.85M259.1 73.4h0.85M240.3 30.7h0.85M233.1 48.4h0.85M213.5 86.7h0.85M234.1 76.5h0.85M252.0 77.1h0.85M232.1 83.2h0.85M235.7 76.8h0.85M237.2 28.5h0.85M221.3 49.9h0.85M222.8 47.1h0.85M249.8 75.9h0.85M218.7 58.7h0.85M224.0 32.7h0.85M209.2 79.9h0.85M220.5 53.2h0.85M211.3 85.7h0.85M231.2 29.4h0.85M220.4 42.0h0.85M213.3 75.3h0.85M216.8 48.0h0.85M219.5 60.5h0.85M210.5 35.0h0.85M213.7 80.9h0.85M216.1 87.1h0.85M243.2 71.1h0.85M231.7 77.7h0.85M216.5 37.4h0.85M210.8 48.3h0.85M243.8 81.1h0.85M235.3 55.9h0.85M238.0 75.5h0.85M224.5 81.1h0.85M215.7 79.2h0.85M209.7 85.1h0.85M235.3 73.2h0.85M253.2 78.2h0.85M237.1 50.4h0.85M223.4 54.9h0.85M218.2 86.6h0.85M242.9 74.5h0.85M228.2 53.8h0.85M227.4 80.9h0.85M232.2 46.3h0.85M253.7 59.8h0.85M217.4 60.9h0.85M251.1 83.1h0.85M228.5 53.0h0.85M243.0 80.9h0.85M241.8 74.1h0.85M220.2 66.0h0.85M236.2 71.5h0.85M209.4 38.9h0.85M235.6 59.1h0.85M228.2 46.3h0.85M226.8 48.7h0.85M214.0 47.1h0.85M226.5 71.6h0.85M237.0 32.1h0.85M218.2 44.8h0.85M229.0 54.3h0.85M228.4 48.3h0.85M257.7 65.8h0.85M220.1 54.7h0.85M210.7 64.9h0.85M241.7 70.5h0.85M240.7 27.4h0.85M225.4 75.7h0.85M223.8 61.1h0.85M249.6 64.0h0.85M219.2 74.3h0.85M232.4 55.4h0.85M254.1 73.9h0.85M222.9 80.8h0.85M230.7 54.1h0.85M239.1 87.0h0.85M220.6 58.2h0.85M240.4 62.4h0.85M218.6 56.3h0.85M216.3 29.0h0.85M231.1 28.7h0.85M237.2 42.9h0.85M240.2 71.1h0.85M209.5 51.4h0.85M236.8 62.5h0.85M222.3 47.0h0.85M228.6 52.0h0.85M245.4 79.1h0.85M224.1 85.2h0.85M227.2 48.4h0.85M233.1 83.1h0.85M233.9 79.8h0.85M220.8 66.5h0.85M248.3 75.4h0.85M255.3 67.4h0.85M220.5 53.4h0.85M216.9 69.3h0.85M218.1 77.3h0.85M227.3 80.6h0.85M211.3 47.7h0.85M218.8 46.3h0.85M240.7 76.0h0.85M227.6 56.6h0.85M224.0 58.9h0.85M212.3 86.4h0.85M226.2 63.0h0.85M251.0 81.2h0.85M225.5 55.6h0.85M213.5 66.4h0.85M236.4 52.8h0.85M222.7 75.8h0.85M223.7 49.3h0.85M228.7 84.4h0.85M229.1 86.8h0.85M219.7 80.1h0.85M235.6 62.9h0.85M224.9 65.9h0.85M215.5 87.3h0.85M230.1 60.9h0.85M218.8 67.9h0.85M248.0 78.4h0.85M242.1 86.3h0.85M213.1 50.7h0.85M229.4 79.6h0.85M215.1 78.2h0.85M215.7 81.8h0.85M256.3 57.6h0.85M232.9 61.2h0.85M231.2 32.3h0.85M209.9 82.3h0.85M231.4 74.8h0.85M251.2 75.4h0.85M236.5 81.9h0.85M210.5 68.2h0.85M213.5 63.0h0.85M249.7 59.7h0.85M235.5 63.2h0.85M212.4 72.4h0.85M227.6 83.2h0.85M241.7 53.1h0.85M210.2 83.1h0.85M247.6 38.4h0.85M215.6 71.2h0.85M229.0 84.7h0.85M225.0 85.4h0.85M254.6 77.6h0.85M220.0 59.1h0.85M216.0 61.0h0.85M214.2 83.6h0.85M237.9 66.5h0.85M209.3 41.8h0.85M215.3 81.1h0.85M230.7 78.1h0.85M234.0 69.9h0.85M245.6 64.6h0.85M236.6 38.5h0.85M243.4 86.5h0.85M241.3 77.8h0.85M242.1 27.8h0.85M242.6 33.2h0.85M241.2 82.7h0.85M225.1 64.1h0.85M229.2 59.9h0.85M212.1 85.9h0.85M224.0 85.7h0.85M222.5 78.6h0.85M220.5 63.5h0.85M215.1 69.1h0.85M239.0 59.5h0.85M215.8 85.2h0.85M216.0 49.4h0.85M211.0 64.4h0.85M209.4 76.7h0.85M240.8 76.9h0.85M226.6 79.4h0.85M212.3 75.0h0.85M211.9 50.2h0.85M241.4 64.1h0.85M257.4 76.5h0.85M212.8 85.8h0.85M210.2 60.9h0.85M228.4 70.5h0.85M229.6 69.2h0.85M251.0 87.4h0.85M251.3 63.1h0.85M234.9 53.5h0.85M223.2 67.6h0.85M221.0 58.1h0.85M236.7 32.4h0.85M225.8 86.5h0.85M238.9 80.3h0.85M227.2 82.4h0.85M215.9 55.7h0.85M210.1 55.7h0.85M216.1 62.8h0.85M236.7 61.0h0.85M228.5 45.5h0.85M251.0 82.9h0.85M213.5 36.2h0.85M218.1 81.5h0.85M231.7 49.4h0.85M250.3 78.2h0.85M233.6 83.6h0.85M210.4 80.1h0.85M213.9 76.2h0.85M227.2 51.4h0.85M248.0 69.7h0.85M228.1 67.5h0.85M240.1 58.4h0.85M219.7 74.5h0.85M209.7 65.5h0.85M242.4 70.7h0.85M232.7 74.0h0.85M215.4 67.1h0.85M218.3 35.3h0.85M210.0 66.4h0.85M224.0 78.8h0.85M226.7 80.9h0.85M253.4 47.8h0.85M247.1 74.9h0.85M235.5 85.3h0.85M228.7 78.5h0.85M227.1 33.2h0.85M256.4 80.7h0.85M225.8 50.2h0.85M229.6 64.8h0.85M231.8 34.3h0.85M251.2 53.1h0.85M245.2 46.8h0.85M227.6 74.3h0.85M239.2 80.0h0.85M209.5 73.8h0.85M212.4 52.5h0.85M214.2 84.9h0.85M210.1 64.3h0.85M248.9 33.9h0.85M210.7 58.2h0.85M226.2 58.7h0.85M211.9 82.3h0.85M219.4 61.7h0.85M211.1 64.7h0.85M215.7 49.3h0.85M234.5 74.1h0.85M213.2 61.8h0.85M222.3 60.9h0.85M225.4 48.2h0.85M216.5 46.6h0.85M211.0 38.1h0.85M246.9 87.2h0.85M237.6 69.3h0.85M223.5 79.4h0.85M231.9 81.7h0.85M230.6 75.2h0.85M258.2 81.5h0.85M218.5 60.7h0.85M219.7 60.7h0.85M234.2 77.0h0.85M217.0 78.1h0.85M228.8 85.9h0.85M209.4 84.2h0.85M257.7 57.8h0.85M217.6 79.8h0.85M229.5 78.1h0.85M253.4 70.7h0.85M220.3 46.5h0.85M213.9 62.3h0.85M253.4 27.8h0.85M232.0 55.3h0.85M235.9 62.4h0.85M233.7 63.4h0.85M219.1 79.0h0.85M216.5 60.6h0.85M233.3 55.2h0.85M224.9 84.3h0.85M212.5 79.8h0.85M257.9 77.7h0.85M238.6 79.9h0.85M216.0 64.1h0.85M249.2 65.8h0.85M242.3 62.3h0.85M210.0 29.3h0.85M218.0 83.6h0.85M216.2 75.8h0.85M242.7 53.7h0.85M224.9 73.8h0.85M219.1 78.9h0.85M217.8 61.2h0.85M239.3 43.8h0.85M254.4 78.4h0.85M236.0 42.9h0.85M212.7 79.0h0.85M225.6 42.2h0.85M227.1 43.0h0.85M224.6 50.7h0.85M215.6 68.4h0.85M211.9 66.6h0.85M252.2 77.5h0.85M224.1 69.1h0.85M224.6 77.5h0.85M210.6 38.9h0.85M233.7 48.9h0.85M222.8 56.7h0.85M228.1 70.9h0.85M230.0 37.6h0.85M249.4 78.7h0.85M256.2 50.4h0.85M223.4 60.0h0.85M245.9 82.2h0.85M222.2 46.1h0.85M258.3 59.7h0.85M225.2 71.9h0.85M258.2 79.5h0.85M213.6 65.4h0.85M245.1 53.5h0.85M211.6 78.3h0.85M222.6 60.6h0.85M228.1 71.8h0.85M228.1 66.7h0.85M238.6 67.2h0.85M215.3 86.8h0.85M234.4 82.8h0.85M231.4 58.4h0.85M216.8 53.0h0.85M226.5 59.8h0.85M229.5 64.4h0.85M242.9 86.5h0.85M210.9 38.4h0.85M217.6 75.4h0.85M231.9 75.7h0.85M211.4 84.9h0.85M227.4 77.9h0.85M240.5 55.9h0.85M227.5 83.2h0.85M215.5 56.9h0.85M222.0 86.8h0.85M250.6 53.4h0.85M210.7 79.6h0.85M228.4 80.1h0.85M224.4 59.3h0.85M257.5 84.3h0.85M227.2 87.4h0.85M218.3 72.9h0.85M237.5 69.6h0.85M209.4 59.9h0.85M216.6 60.9h0.85M227.0 72.5h0.85M217.6 62.5h0.85M223.7 66.5h0.85M229.8 84.3h0.85M221.8 75.0h0.85M217.2 41.7h0.85M235.0 61.7h0.85M216.2 81.8h0.85M209.8 59.7h0.85M219.0 85.4h0.85M242.7 71.3h0.85M221.8 57.4h0.85M213.0 61.6h0.85M215.4 50.1h0.85M210.9 60.4h0.85M257.1 37.4h0.85M213.5 66.4h0.85M213.5 75.1h0.85M259.7 51.1h0.85M218.8 56.9h0.85M212.4 86.7h0.85M228.8 38.8h0.85M232.7 67.3h0.85M226.5 85.5h0.85M249.4 74.0h0.85M226.7 53.6h0.85M241.2 73.2h0.85M231.1 67.7h0.85M226.2 73.3h0.85M225.6 87.5h0.85M217.6 86.2h0.85M253.6 56.2h0.85M221.6 86.7h0.85M228.2 69.3h0.85M216.6 73.1h0.85M222.5 58.3h0.85M211.0 58.2h0.85M231.4 83.7h0.85M215.1 32.2h0.85M234.1 72.4h0.85M224.7 76.9h0.85M246.4 84.9h0.85M217.5 80.5h0.85M238.2 62.2h0.85M240.0 74.8h0.85M225.3 75.1h0.85M224.4 81.1h0.85M213.2 75.5h0.85M229.8 73.4h0.85M229.5 85.4h0.85M210.5 80.2h0.85M230.5 79.6h0.85M241.5 69.5h0.85M219.7 60.9h0.85M241.0 51.2h0.85M228.2 74.6h0.85M225.8 68.0h0.85M258.9 65.0h0.85M242.6 67.4h0.85M230.1 36.2h0.85M222.4 60.2h0.85M218.5 80.6h0.85M228.3 70.6h0.85M221.9 83.6h0.85M248.1 62.6h0.85M220.9 82.8h0.85M225.1 79.7h0.85M217.2 78.8h0.85M258.2 81.5h0.85M213.4 86.9h0.85M251.7 60.6h0.85M252.5 82.0h0.85M220.9 74.5h0.85M230.2 63.1h0.85M220.4 72.6h0.85M234.0 43.0h0.85M211.3 83.0h0.85M226.0 73.9h0.85M217.4 73.4h0.85M257.7 52.0h0.85M219.0 43.7h0.85M211.1 87.2h0.85M235.4 43.7h0.85M214.0 72.1h0.85M229.2 65.7h0.85M243.6 77.3h0.85M214.7 72.3h0.85M223.7 70.4h0.85M249.3 55.1h0.85M226.9 80.5h0.85M220.7 75.4h0.85M211.7 38.7h0.85M232.2 81.5h0.85M223.1 57.0h0.85M238.8 82.4h0.85M235.3 82.3h0.85M225.9 83.4h0.85M227.5 86.9h0.85M241.4 31.1h0.85M234.7 81.8h0.85M219.7 87.2h0.85M225.5 47.7h0.85M235.4 76.5h0.85M255.8 64.5h0.85M209.4 87.1h0.85M249.0 58.0h0.85M211.8 85.3h0.85M213.7 70.0h0.85M217.4 52.8h0.85M230.0 45.6h0.85M225.4 82.5h0.85M210.6 53.3h0.85M213.6 67.8h0.85M237.5 60.5h0.85M220.1 72.4h0.85M233.5 80.0h0.85M233.6 71.4h0.85M250.5 51.8h0.85M219.3 73.4h0.85M235.7 52.5h0.85M214.4 70.6h0.85M238.5 47.1h0.85M239.5 59.1h0.85M223.9 43.2h0.85M231.9 58.6h0.85M245.7 56.1h0.85M246.5 78.0h0.85M224.9 79.6h0.85M229.9 37.8h0.85M236.9 44.6h0.85M212.9 63.0h0.85M214.5 69.2h0.85M243.6 78.3h0.85M244.7 84.7h0.85M210.0 53.8h0.85M213.0 75.3h0.85M233.9 50.3h0.85M219.6 77.7h0.85M225.7 55.6h0.85M244.9 84.2h0.85M210.7 52.0h0.85M233.0 75.8h0.85M234.7 32.6h0.85M215.8 82.2h0.85M214.6 31.8h0.85M210.0 58.4h0.85M246.7 70.9h0.85M218.2 55.9h0.85M210.4 62.7h0.85M209.2 60.2h0.85M210.4 50.3h0.85M217.9 28.4h0.85M243.3 62.5h0.85M227.2 53.3h0.85M211.3 86.2h0.85M234.7 43.5h0.85M252.4 86.2h0.85M229.6 37.5h0.85M225.7 68.7h0.85M221.4 82.9h0.85M235.9 87.3h0.85M221.4 58.8h0.85M223.6 78.6h0.85M215.8 75.2h0.85M243.0 77.8h0.85M225.3 55.0h0.85M211.4 81.3h0.85M251.4 50.2h0.85M215.3 79.5h0.85M226.8 60.5h0.85M230.6 67.5h0.85M258.2 74.6h0.85M221.3 53.5h0.85M240.5 81.2h0.85M233.8 75.8h0.85M245.4 69.4h0.85M213.2 86.6h0.85M231.5 84.1h0.85M248.5 63.7h0.85M247.6 53.8h0.85M215.6 66.3h0.85M229.2 56.2h0.85M236.1 45.3h0.85"/>
<path stroke="#ff7585" stroke-width="0.8" fill="none" stroke-opacity="0.7" d="M215.9 91.0h0.8M210.0 91.2h0.8M218.1 93.0h0.8M214.6 92.3h0.8M223.7 91.0h0.8M214.0 97.3h0.8M220.2 90.7h0.8M217.5 101.7h0.8M212.3 102.5h0.8M213.0 96.0h0.8M218.0 89.0h0.8M221.9 92.9h0.8M214.0 101.0h0.8M228.8 89.5h0.8M235.0 92.9h0.8M213.4 97.2h0.8M218.1 102.4h0.8M221.9 89.0h0.8M211.0 91.0h0.8M218.6 90.9h0.8M220.0 103.5h0.8M218.0 98.1h0.8M211.2 88.7h0.8M221.4 99.2h0.8M211.8 97.0h0.8M220.9 93.2h0.8M214.6 93.3h0.8M212.3 91.4h0.8M222.1 100.2h0.8M233.8 93.6h0.8M218.0 103.3h0.8M220.9 91.3h0.8M211.7 93.3h0.8M218.4 89.8h0.8M224.7 97.4h0.8M209.7 91.3h0.8M230.9 91.9h0.8M220.5 96.9h0.8M216.2 93.7h0.8M234.7 94.2h0.8M211.9 100.0h0.8M219.5 95.6h0.8M215.6 100.8h0.8M210.9 102.1h0.8M212.9 101.7h0.8M210.9 102.9h0.8M212.3 96.4h0.8M230.9 89.4h0.8M209.2 91.1h0.8M222.6 97.4h0.8M220.9 97.8h0.8M219.6 90.8h0.8M219.4 95.6h0.8M210.1 90.8h0.8M218.2 90.7h0.8M218.3 103.4h0.8M221.6 88.8h0.8M219.4 100.1h0.8M213.1 90.1h0.8M233.2 96.2h0.8M211.2 93.9h0.8M223.5 94.7h0.8M217.0 101.6h0.8M214.1 91.1h0.8M216.7 92.7h0.8M230.3 95.8h0.8M223.5 97.6h0.8M221.3 92.2h0.8M219.0 92.1h0.8M211.0 93.1h0.8M243.5 89.4h0.8M220.7 98.2h0.8M212.6 92.8h0.8M216.9 91.5h0.8M230.8 92.0h0.8M222.7 89.1h0.8M218.8 95.7h0.8M221.3 97.4h0.8M230.0 97.8h0.8M210.8 94.9h0.8M224.3 89.0h0.8M225.0 93.0h0.8M226.9 93.5h0.8M218.6 91.4h0.8M235.4 93.8h0.8M213.4 100.7h0.8M215.2 100.1h0.8M216.6 94.1h0.8M212.1 91.0h0.8M210.4 94.1h0.8M215.3 89.6h0.8M211.5 89.0h0.8M215.5 89.8h0.8M216.5 93.7h0.8M213.7 90.3h0.8M214.2 98.8h0.8M210.5 100.3h0.8M222.7 102.1h0.8M216.4 98.8h0.8M211.9 93.3h0.8M212.0 88.9h0.8M217.2 88.4h0.8M224.4 89.9h0.8M223.9 95.1h0.8M215.8 94.4h0.8M235.8 91.7h0.8M220.0 97.5h0.8M211.8 100.0h0.8M215.6 104.6h0.8M215.0 95.1h0.8M210.3 98.5h0.8M230.5 91.9h0.8M210.4 97.9h0.8M219.0 92.7h0.8M230.3 95.6h0.8M209.8 95.4h0.8M227.3 98.7h0.8M229.4 88.4h0.8M217.6 104.6h0.8M227.1 91.7h0.8M216.4 103.0h0.8M219.5 97.3h0.8M226.8 97.5h0.8M216.3 94.0h0.8M218.6 92.0h0.8M218.1 99.4h0.8M212.0 96.7h0.8M214.9 99.8h0.8M224.1 98.5h0.8M223.3 89.1h0.8M214.8 103.1h0.8M212.4 89.6h0.8M211.8 100.4h0.8M217.7 97.1h0.8M214.5 89.8h0.8M223.4 93.5h0.8M223.3 94.6h0.8M222.5 101.0h0.8M218.3 98.1h0.8M220.6 90.4h0.8M214.1 95.5h0.8M216.3 102.1h0.8M225.4 94.7h0.8M210.8 97.2h0.8M213.7 95.7h0.8M239.8 90.6h0.8M210.2 96.8h0.8M210.6 91.8h0.8M229.1 96.7h0.8M229.0 93.8h0.8M212.5 91.5h0.8M218.8 93.0h0.8M227.2 95.5h0.8M223.7 93.2h0.8M217.4 102.7h0.8M217.0 96.5h0.8M210.5 88.7h0.8M209.6 95.0h0.8M233.2 92.8h0.8M215.3 102.5h0.8M212.2 91.6h0.8M219.6 94.1h0.8M220.8 93.7h0.8M227.1 96.5h0.8M211.9 102.2h0.8M229.4 93.6h0.8M218.7 90.1h0.8M223.5 98.8h0.8M218.9 95.1h0.8M223.1 90.1h0.8M211.0 96.0h0.8M222.1 91.9h0.8M215.4 95.1h0.8M212.0 100.9h0.8M218.6 90.8h0.8M213.9 96.5h0.8M218.9 102.6h0.8M228.1 89.5h0.8M212.7 93.6h0.8M221.1 93.0h0.8M223.1 90.5h0.8M235.0 92.3h0.8M209.9 94.1h0.8M210.0 100.2h0.8M214.8 90.9h0.8M225.9 96.9h0.8M235.6 94.2h0.8M227.4 94.9h0.8M229.2 97.3h0.8M219.9 94.5h0.8M218.8 93.6h0.8M221.3 90.6h0.8M217.5 88.3h0.8M215.2 93.7h0.8M216.3 97.7h0.8M213.5 94.4h0.8M223.4 99.0h0.8M223.0 96.6h0.8M213.3 95.5h0.8M215.6 97.7h0.8M210.0 102.5h0.8M225.7 89.5h0.8M224.3 91.2h0.8M222.6 97.2h0.8M222.1 88.5h0.8M215.3 92.5h0.8M236.9 90.6h0.8M219.4 98.0h0.8M213.1 103.4h0.8M230.1 91.8h0.8M216.7 103.8h0.8M214.2 97.6h0.8M218.1 94.2h0.8M221.7 98.6h0.8M211.0 96.7h0.8M214.9 93.3h0.8M215.3 94.1h0.8M210.1 88.8h0.8M218.2 88.9h0.8M238.8 88.4h0.8M218.9 91.9h0.8M222.4 89.1h0.8M210.5 90.9h0.8M209.8 89.7h0.8M228.2 96.6h0.8M210.2 90.5h0.8M218.0 97.2h0.8M212.0 95.6h0.8M213.7 90.3h0.8M210.3 93.5h0.8M211.8 92.5h0.8M212.9 102.6h0.8M226.5 97.3h0.8M217.4 89.5h0.8M219.6 95.8h0.8M228.4 93.1h0.8M213.7 99.2h0.8M211.9 93.9h0.8M210.7 93.8h0.8M214.8 90.4h0.8M217.9 97.1h0.8M212.5 98.4h0.8M216.5 103.1h0.8M216.8 94.8h0.8M231.9 95.3h0.8M214.7 105.1h0.8M218.8 98.1h0.8M212.7 105.6h0.8M224.4 90.8h0.8M210.1 90.7h0.8M225.5 90.0h0.8M211.0 90.3h0.8M230.3 96.6h0.8M212.7 91.0h0.8M222.2 91.9h0.8M210.0 98.9h0.8M220.2 96.8h0.8M219.7 89.2h0.8M215.4 93.9h0.8M217.5 91.5h0.8M222.1 93.0h0.8M212.6 94.7h0.8M217.8 93.6h0.8M223.7 89.3h0.8M232.2 94.0h0.8M214.6 105.1h0.8M215.2 102.5h0.8M221.9 99.6h0.8M226.7 90.6h0.8M221.4 88.4h0.8M211.6 93.4h0.8M209.8 104.0h0.8M224.2 94.6h0.8M222.5 93.8h0.8M217.4 96.7h0.8M212.7 91.5h0.8M223.8 92.2h0.8M218.2 94.5h0.8M222.0 94.9h0.8M211.0 90.1h0.8M218.5 100.5h0.8M230.5 89.3h0.8M216.0 99.2h0.8M212.9 92.8h0.8M215.8 97.1h0.8M211.9 92.7h0.8M212.0 97.8h0.8M220.3 102.5h0.8M219.3 97.1h0.8M209.8 107.7h0.8M224.8 89.3h0.8M209.8 96.9h0.8M210.1 91.1h0.8M223.6 91.9h0.8M226.6 95.2h0.8M236.4 94.9h0.8M213.5 95.1h0.8M210.5 89.7h0.8M223.2 91.4h0.8M221.0 92.8h0.8M209.4 93.9h0.8M212.5 98.5h0.8M213.2 98.7h0.8M222.0 99.1h0.8M218.9 93.0h0.8M227.6 95.1h0.8M213.3 99.5h0.8M216.1 104.9h0.8M221.8 88.6h0.8M213.3 90.3h0.8M221.9 92.1h0.8M213.1 90.5h0.8M222.1 88.6h0.8M211.5 92.4h0.8M222.7 93.6h0.8M221.6 102.6h0.8M222.3 99.9h0.8M211.4 105.1h0.8M220.9 96.1h0.8M220.4 101.6h0.8M227.1 90.3h0.8M213.6 99.8h0.8M228.7 90.7h0.8M219.6 92.0h0.8M209.4 101.8h0.8M211.8 90.0h0.8M219.0 93.5h0.8M213.9 92.0h0.8M220.6 95.4h0.8M220.0 88.8h0.8M211.7 90.4h0.8M226.8 92.2h0.8M218.2 102.0h0.8M220.4 91.0h0.8M214.0 95.4h0.8M226.6 95.8h0.8M217.3 89.1h0.8M216.4 94.2h0.8M224.3 94.3h0.8M211.7 90.1h0.8M211.5 93.9h0.8M217.7 88.6h0.8M219.9 102.6h0.8M212.6 92.8h0.8M211.9 98.2h0.8M215.1 105.9h0.8M229.4 90.5h0.8M215.0 93.4h0.8M232.8 92.0h0.8M224.3 98.4h0.8M219.7 96.9h0.8M230.0 93.9h0.8M225.3 94.7h0.8M223.7 88.5h0.8M228.8 89.6h0.8M221.4 90.4h0.8M224.5 100.4h0.8M212.8 96.0h0.8M225.2 90.4h0.8M220.8 91.5h0.8M227.5 95.2h0.8M209.5 99.5h0.8M230.0 89.0h0.8M211.0 98.2h0.8M219.0 95.9h0.8M230.3 90.0h0.8M218.6 96.7h0.8M214.6 99.3h0.8M219.2 98.4h0.8M233.4 91.4h0.8M214.2 95.5h0.8M209.3 90.9h0.8M216.2 90.8h0.8M217.2 97.4h0.8M230.1 89.1h0.8M215.8 92.6h0.8M226.1 91.9h0.8M214.2 100.2h0.8M228.0 98.2h0.8M228.9 92.4h0.8M227.8 97.9h0.8M213.8 94.7h0.8M212.4 90.6h0.8M224.1 98.0h0.8M221.1 98.7h0.8M237.8 90.7h0.8M220.0 88.6h0.8M222.4 92.3h0.8M225.3 96.6h0.8M222.7 88.7h0.8M217.0 92.5h0.8M211.4 95.5h0.8M217.3 97.1h0.8M212.8 100.7h0.8M216.0 89.3h0.8M219.7 91.0h0.8M220.4 96.8h0.8M209.8 89.8h0.8M221.0 95.4h0.8M216.5 103.6h0.8M216.6 92.0h0.8M225.7 91.8h0.8M236.0 90.7h0.8M212.3 88.5h0.8M216.4 93.9h0.8M211.3 91.9h0.8M219.3 92.9h0.8M226.5 99.5h0.8M217.7 89.4h0.8M214.6 94.8h0.8M224.2 89.5h0.8M213.8 99.9h0.8M229.3 94.8h0.8M222.1 92.2h0.8M225.2 94.3h0.8M229.2 93.8h0.8M212.6 96.5h0.8M211.3 97.1h0.8M224.6 97.3h0.8M221.6 89.2h0.8"/>
<path stroke="#0c0cf2" stroke-width="1" fill="none" d="M70.0 212.4h1M43.0 235.5h1M63.9 212.7h1M67.4 208.8h1M48.4 231.7h1M58.1 228.6h1M62.7 218.9h1M48.6 231.0h1M53.3 230.5h1M60.2 214.9h1M76.9 211.4h1M71.6 218.0h1M66.1 209.6h1M71.5 204.7h1M54.9 225.1h1M61.3 214.6h1M53.7 227.1h1M64.3 218.7h1M63.7 220.2h1M64.1 222.7h1M64.2 214.1h1M70.8 213.1h1M57.6 219.0h1M72.0 219.2h1M71.6 218.6h1M69.4 204.6h1M80.3 204.2h1M78.7 213.0h1M64.9 223.4h1M51.4 233.3h1M63.3 223.0h1M65.7 219.7h1M55.1 225.9h1M52.0 225.2h1M66.3 217.1h1M65.2 218.2h1M67.3 207.2h1M47.1 230.9h1M62.7 222.8h1M69.9 204.0h1M60.3 214.7h1M70.7 204.0h1M52.2 226.4h1M69.7 214.6h1M58.4 219.4h1M52.5 230.5h1M48.2 235.0h1M68.2 210.4h1M70.6 214.2h1M66.1 214.7h1M48.5 229.0h1M73.1 218.1h1M70.2 205.5h1M67.2 215.6h1M57.5 224.8h1M55.4 230.1h1M63.3 212.3h1M57.2 228.2h1M54.1 223.5h1M52.6 224.1h1M45.6 232.6h1M48.5 231.3h1M51.5 229.1h1M61.7 220.7h1M68.7 211.1h1M79.8 208.4h1M71.6 207.6h1M68.1 217.5h1M61.3 219.8h1M72.1 208.7h1M60.2 216.3h1M46.1 232.0h1M71.0 211.0h1M56.2 224.8h1M51.8 227.6h1M52.4 230.9h1M80.6 210.4h1M58.0 221.3h1M69.2 215.7h1M54.5 223.6h1M48.9 235.0h1M59.8 226.2h1M57.5 228.0h1M77.8 215.5h1M81.4 208.9h1M53.7 231.6h1M73.7 208.9h1M61.4 223.2h1M68.9 216.0h1M66.0 211.0h1M72.1 210.0h1M62.2 212.8h1M63.2 222.3h1M65.2 218.3h1M72.6 204.2h1M60.4 224.4h1M80.7 208.3h1M55.6 222.3h1M68.9 211.1h1M69.8 214.0h1M68.3 213.6h1M68.3 211.2h1M66.9 209.4h1M60.5 221.5h1M69.9 210.1h1M56.7 219.0h1M70.7 216.5h1M63.7 220.1h1M44.7 237.4h1M61.0 222.5h1M73.9 209.0h1M60.0 221.2h1M60.8 219.7h1M61.8 225.2h1M53.2 228.5h1M66.3 222.5h1M60.9 220.7h1M70.8 220.3h1M70.9 204.6h1M66.7 214.7h1M57.7 225.5h1M63.5 212.2h1M74.4 209.0h1M63.4 211.4h1M48.2 234.8h1M74.7 213.5h1M61.7 214.7h1M55.1 227.1h1M56.2 228.4h1M69.6 207.7h1M71.7 219.5h1M64.2 224.5h1M64.0 215.6h1M62.2 224.7h1M73.8 217.9h1M53.9 222.8h1M66.6 218.2h1M63.8 211.7h1M70.1 205.6h1M72.4 205.7h1M63.6 219.0h1M65.9 215.1h1M68.1 211.0h1M43.5 236.4h1M65.3 215.6h1M44.2 235.3h1M67.8 216.4h1M50.8 232.0h1M69.4 219.9h1M71.7 211.1h1M69.6 206.5h1M71.7 212.3h1M64.9 215.5h1M66.7 209.1h1M48.5 234.5h1M68.0 211.3h1M69.9 206.7h1M61.1 215.6h1M69.6 205.4h1M63.4 221.1h1M73.9 218.1h1M64.2 212.6h1M62.3 213.5h1M78.8 214.4h1M60.6 222.1h1M61.1 216.6h1M70.2 212.3h1M64.8 213.9h1M54.2 228.3h1M47.7 235.1h1M62.7 218.9h1M67.4 220.1h1M67.9 218.7h1M69.7 212.5h1M67.2 216.7h1M65.2 210.0h1M77.5 209.1h1M64.1 213.3h1M63.9 221.8h1M49.5 233.3h1M71.6 203.8h1M65.4 208.2h1M68.6 209.4h1M57.7 220.4h1M58.0 220.3h1M60.0 223.5h1M46.9 231.7h1M53.0 228.9h1M61.9 225.2h1M69.2 215.1h1M73.4 204.6h1M55.6 230.5h1M63.5 222.0h1M60.4 221.6h1M66.1 212.9h1M62.5 216.6h1M54.8 221.7h1M74.1 216.8h1M67.0 215.8h1M60.5 221.2h1M72.1 219.3h1M49.3 230.3h1M76.4 207.2h1M73.6 213.7h1M71.1 216.7h1M66.7 213.6h1M75.3 209.7h1M71.7 211.0h1M61.7 223.5h1M63.4 210.9h1M74.2 205.2h1M71.0 209.7h1M51.5 233.0h1M70.8 219.2h1M57.2 228.9h1M66.0 209.4h1M82.6 212.0h1M67.0 222.7h1M67.8 221.3h1M61.4 217.4h1M56.5 220.6h1M47.1 231.2h1M69.1 215.8h1M67.9 220.2h1M77.0 215.9h1M53.4 227.1h1M64.3 212.9h1M66.5 218.2h1M60.9 217.3h1M62.9 218.9h1M57.6 228.5h1M52.8 225.9h1M60.8 221.2h1M66.4 215.0h1M49.2 231.7h1M47.4 235.1h1M71.7 205.6h1M47.0 235.6h1M59.0 222.5h1M66.5 213.1h1M79.9 205.1h1M67.8 217.0h1M45.7 236.2h1M61.5 214.6h1M75.5 206.2h1M50.6 228.8h1M81.2 206.4h1M67.4 206.4h1M69.4 210.3h1M50.3 234.0h1M56.5 220.0h1M72.5 216.4h1M63.9 224.5h1M74.7 217.2h1M52.9 228.5h1M71.9 204.0h1M55.9 222.8h1M67.2 209.8h1M68.8 209.0h1M63.1 225.0h1M47.5 230.6h1M55.7 223.4h1M55.1 223.4h1M66.4 215.4h1M63.3 225.1h1M55.6 230.3h1M68.0 219.7h1M47.3 230.3h1M52.9 223.7h1M57.7 220.1h1M59.4 222.4h1M68.6 205.6h1M72.1 218.4h1M64.3 217.2h1M69.4 209.2h1M83.5 207.6h1M44.7 237.6h1M73.4 209.2h1M68.0 220.6h1M80.6 207.6h1M77.2 211.5h1M71.7 211.3h1M48.4 232.7h1M62.0 223.0h1M59.7 218.8h1M70.4 205.6h1M57.0 221.5h1M60.7 221.4h1M79.7 208.7h1M69.5 213.6h1M73.0 214.8h1M48.3 229.1h1M45.6 233.6h1M65.7 218.3h1M45.1 234.7h1M48.3 229.7h1M61.9 215.7h1M66.4 212.0h1M68.7 208.9h1M84.2 207.1h1M50.8 230.3h1M77.4 212.4h1M64.9 219.6h1M75.0 205.9h1M65.4 214.2h1M56.4 221.7h1M70.7 217.3h1M72.9 208.2h1M53.4 226.9h1M58.8 223.2h1M48.6 229.7h1M48.0 231.7h1M58.2 224.5h1M47.0 233.0h1M57.3 228.8h1M70.0 211.3h1M71.3 210.0h1M55.4 229.2h1M65.8 220.2h1M63.0 217.1h1M69.6 207.8h1M53.7 229.2h1M54.0 229.9h1M68.0 207.3h1M48.3 233.9h1M72.3 218.7h1M76.2 207.6h1M52.4 229.3h1M65.9 209.1h1M62.0 224.4h1M67.2 206.8h1M66.2 213.3h1M61.0 213.5h1M46.6 233.3h1M58.1 217.5h1M67.8 213.8h1M62.1 223.1h1M51.5 226.3h1M71.3 206.3h1M61.0 223.0h1M76.4 206.3h1M61.0 215.1h1M51.0 232.3h1M64.9 209.2h1M80.3 207.5h1M65.6 220.0h1M59.7 216.4h1M60.2 226.2h1M69.8 215.3h1M67.9 204.9h1M69.7 207.4h1M54.0 226.5h1M68.4 213.1h1M51.3 227.5h1M57.7 228.4h1M50.5 227.2h1M64.8 212.5h1M60.1 226.9h1M60.8 226.7h1M59.2 222.5h1M50.7 232.7h1M60.2 214.7h1M71.3 206.3h1M77.9 215.2h1M64.1 212.3h1M68.9 208.0h1M66.9 211.1h1M50.7 228.1h1M69.7 209.6h1M54.2 229.1h1M77.3 212.5h1M46.5 236.3h1M52.4 224.9h1M63.7 217.9h1M65.7 214.9h1M54.0 229.6h1M53.1 224.9h1M73.1 218.1h1M68.6 215.8h1M43.6 237.5h1M68.3 208.9h1M48.1 233.0h1M61.9 226.4h1M63.5 224.6h1M59.7 221.3h1M64.1 219.0h1M63.0 214.9h1M79.3 214.7h1M58.2 228.0h1M59.9 222.4h1M57.2 227.6h1M62.4 218.7h1M56.1 222.3h1M55.1 225.2h1M66.3 219.2h1M71.0 208.8h1M51.1 231.1h1M64.1 213.9h1M62.6 214.5h1M67.5 210.8h1M71.6 216.4h1M70.2 210.1h1M71.2 214.9h1M51.8 228.1h1M83.0 208.5h1M54.4 224.3h1M70.7 208.1h1M75.6 213.7h1M44.4 235.6h1M62.5 224.4h1M61.8 223.2h1M44.7 237.6h1M68.6 204.1h1M63.3 219.7h1M50.4 233.5h1M76.6 215.0h1M67.3 216.0h1M56.6 221.5h1M65.5 212.8h1M56.4 222.1h1M80.5 212.5h1M57.9 225.7h1M61.9 216.1h1M50.1 231.9h1M46.9 233.9h1M58.4 220.3h1M53.6 228.7h1M70.5 209.3h1M59.6 221.7h1M60.6 225.9h1M50.1 227.0h1M56.3 222.2h1M57.6 225.2h1M67.1 213.7h1M47.7 230.6h1M49.8 229.5h1M75.8 205.9h1M60.0 216.4h1M51.7 226.0h1M76.6 208.9h1M61.2 215.5h1M76.3 215.2h1M71.4 207.7h1M51.4 227.0h1M61.7 220.5h1M49.4 230.2h1M59.6 225.0h1M60.4 222.5h1M62.2 215.5h1M58.5 227.9h1M65.4 217.8h1M75.9 215.0h1M70.3 219.9h1M64.5 218.5h1M70.4 218.3h1M70.9 217.2h1M50.8 230.3h1M67.9 213.6h1M73.5 218.5h1M62.1 222.1h1M49.7 230.6h1M68.4 219.6h1M57.3 218.4h1M63.9 216.6h1M71.6 208.5h1M60.5 224.1h1M61.6 216.4h1M63.0 217.2h1M45.3 233.8h1M55.8 225.1h1M71.8 209.1h1M68.3 205.7h1M58.0 224.1h1M54.7 222.6h1M56.8 220.0h1M67.8 207.6h1M67.7 215.8h1M67.7 213.9h1M62.2 224.8h1M74.0 209.4h1M61.1 220.7h1M76.4 210.5h1M59.9 225.0h1M54.5 230.1h1M56.6 219.4h1M49.5 231.2h1M64.3 220.5h1M42.8 236.7h1M65.6 210.3h1M60.6 217.5h1M64.3 211.1h1M62.2 212.6h1M67.9 220.7h1M52.4 227.8h1M61.8 221.8h1M51.8 224.6h1M57.1 224.1h1M72.3 218.5h1M68.3 205.2h1M62.9 223.7h1M43.9 234.5h1M70.0 203.7h1M52.2 226.1h1M69.7 217.3h1M72.7 217.0h1M70.1 215.6h1M63.1 218.1h1M59.8 215.0h1M58.5 216.8h1M50.0 232.7h1M61.9 220.8h1M82.0 210.0h1M67.8 214.6h1M57.1 226.8h1M71.1 211.2h1M69.9 206.2h1M68.3 204.6h1M66.8 219.8h1M50.5 228.9h1M71.0 218.8h1M62.0 216.3h1M71.3 213.9h1M75.9 207.4h1M56.0 219.6h1M60.3 218.4h1M63.3 221.8h1M58.4 223.3h1M63.2 223.4h1M75.3 214.0h1M56.3 222.5h1M64.9 218.7h1M59.4 227.6h1M48.6 234.8h1M84.5 208.0h1M67.2 215.3h1M57.6 221.3h1M68.5 212.8h1M75.3 212.1h1M54.4 230.7h1M54.3 227.0h1M48.9 234.7h1M51.3 233.2h1M55.9 228.5h1M54.2 224.5h1M60.0 225.9h1M74.1 203.9h1M60.2 217.5h1M71.5 219.4h1M63.9 218.7h1M67.2 216.1h1M67.1 207.5h1M70.1 205.2h1M54.7 225.8h1M55.6 228.5h1M50.4 230.9h1M48.3 234.9h1M68.3 218.6h1M56.3 219.1h1M82.1 207.8h1M43.3 235.8h1M61.3 218.9h1M64.2 217.1h1M43.9 235.1h1M66.0 207.5h1M66.3 219.2h1M64.7 215.3h1M56.0 223.3h1M47.0 231.5h1M44.2 237.4h1M66.0 210.3h1M69.8 212.6h1M71.2 215.4h1M64.7 220.9h1M52.8 231.2h1M63.7 222.3h1M61.5 212.9h1M66.7 208.2h1M74.2 216.5h1M51.2 230.5h1M59.6 217.0h1M46.3 235.3h1M72.1 213.5h1M63.5 219.6h1M81.2 205.6h1M66.6 218.5h1M52.6 225.2h1M64.7 210.7h1M66.7 221.0h1M78.7 212.2h1M72.6 211.8h1M61.1 225.3h1M51.0 228.1h1M56.3 223.3h1M74.3 214.1h1M60.5 224.2h1M74.0 217.5h1M61.2 221.4h1M51.8 231.8h1M67.3 208.7h1M71.6 207.9h1M69.6 220.5h1M71.0 214.0h1M67.4 217.4h1M67.5 218.8h1M66.9 219.8h1M45.9 235.2h1M44.9 237.6h1M52.1 229.3h1M54.2 227.7h1M54.8 229.1h1M73.4 204.2h1M58.7 221.2h1M47.5 232.6h1M44.7 237.0h1M76.4 212.4h1M76.7 208.4h1M61.2 217.3h1M72.0 212.9h1M59.4 222.4h1M78.8 213.7h1M52.7 225.8h1M74.7 213.1h1M68.7 216.7h1M68.5 216.8h1M44.9 234.0h1M58.9 226.4h1M62.1 223.3h1M71.7 209.4h1M66.1 222.8h1M62.2 213.5h1M65.3 213.7h1M71.0 210.0h1M66.2 221.8h1M64.3 213.7h1M49.2 230.4h1M59.9 218.2h1M54.7 227.9h1M77.3 214.4h1M52.7 231.9h1M49.9 228.7h1M69.0 212.2h1M69.9 204.0h1M56.8 228.5h1M48.1 234.1h1M65.4 217.9h1M74.1 217.3h1M67.0 213.3h1M67.1 214.6h1M68.1 219.0h1M70.3 211.8h1M71.6 204.3h1M65.9 212.0h1M70.8 208.3h1M65.0 215.7h1M67.3 216.0h1M59.8 224.8h1M71.0 214.9h1M72.6 217.9h1M47.0 230.4h1M72.8 206.8h1M75.8 214.9h1M71.7 213.8h1M76.7 210.6h1M70.6 205.2h1M71.8 206.2h1M53.1 231.9h1M58.2 222.3h1M58.1 219.0h1M57.1 217.9h1M59.0 224.3h1M52.1 225.6h1M70.9 215.5h1M74.3 208.5h1M66.4 213.4h1M72.6 211.5h1M60.7 223.5h1M51.0 232.4h1M53.6 230.8h1M70.2 219.6h1M71.8 212.7h1M45.6 234.7h1M72.5 214.5h1M55.2 228.4h1M62.9 212.8h1M50.9 226.2h1M50.7 230.5h1M64.5 223.6h1M70.9 218.7h1M51.1 230.0h1M64.2 215.3h1M72.6 218.7h1M69.1 217.9h1M71.5 207.1h1M68.3 219.0h1M50.1 234.1h1M69.8 215.2h1M56.7 224.8h1M54.9 221.9h1M52.8 230.1h1M66.4 222.5h1M57.7 228.0h1M48.7 229.2h1M70.4 218.9h1M57.0 227.2h1M82.8 203.6h1M80.1 207.9h1M50.8 226.1h1M62.5 217.5h1M83.4 209.9h1M69.7 218.7h1M60.4 216.5h1M68.1 213.9h1M77.8 208.2h1M72.5 217.3h1M53.1 230.8h1M59.0 219.1h1M51.4 230.1h1M72.6 207.5h1M66.7 221.9h1M84.7 206.5h1M63.6 213.0h1M66.3 217.3h1M65.4 218.9h1M58.3 219.9h1M70.8 211.6h1M56.6 224.6h1M68.8 205.1h1M63.4 215.7h1M81.3 212.0h1M69.8 220.6h1M65.0 219.3h1M49.8 231.8h1M83.5 207.3h1M58.0 219.3h1M72.1 218.0h1M71.5 213.7h1M64.9 214.9h1M62.8 218.7h1M71.3 213.8h1M82.0 211.6h1M63.1 215.9h1M63.9 218.6h1M66.6 210.3h1M47.8 229.5h1M45.0 235.4h1M52.0 227.3h1M55.4 220.8h1M60.9 220.3h1M72.3 211.9h1M68.8 216.5h1M61.0 223.4h1M66.4 221.9h1M50.2 229.5h1M63.9 209.7h1M63.9 221.6h1M70.1 205.4h1M63.2 224.7h1M59.8 223.1h1M49.0 230.3h1M66.5 221.4h1M54.2 229.6h1M72.0 219.2h1M70.7 217.3h1M54.7 229.7h1M80.9 205.4h1M48.1 230.6h1M53.2 226.1h1M57.6 228.2h1M71.2 212.4h1M56.2 221.2h1M64.4 212.4h1M45.4 235.7h1M48.1 231.1h1M66.0 219.1h1M45.5 237.1h1M74.6 205.9h1M51.9 225.2h1M66.2 216.6h1M70.6 204.1h1M44.4 237.2h1M64.3 216.5h1M63.7 212.7h1M46.3 233.1h1M60.3 225.5h1M58.4 227.7h1M52.3 230.9h1M56.0 226.5h1M66.8 213.0h1M68.6 210.3h1M59.5 215.6h1M53.1 228.4h1M71.0 215.4h1M50.3 231.7h1M53.3 227.7h1M57.0 220.4h1M64.2 224.8h1M58.8 228.1h1M69.6 210.7h1M66.4 223.0h1M78.9 208.5h1M56.2 227.2h1M54.6 225.5h1M82.7 205.0h1M71.5 207.9h1M44.5 234.9h1M63.4 211.8h1M52.2 226.1h1M59.4 215.9h1M63.9 209.8h1M69.7 212.7h1M61.1 219.4h1M70.1 205.2h1M67.5 206.9h1M49.5 229.8h1M67.7 217.6h1M64.3 218.9h1M69.5 215.2h1M49.4 227.4h1M67.0 210.8h1M68.0 216.5h1M66.2 211.2h1M70.0 215.4h1M57.5 220.1h1M58.5 222.4h1M71.9 210.1h1M67.3 219.6h1M64.8 223.7h1M56.2 227.0h1M43.7 237.6h1M78.8 215.1h1M61.9 213.3h1M69.7 207.8h1M51.6 228.2h1M54.8 221.3h1M60.4 216.4h1M75.1 212.3h1M62.3 215.3h1M56.5 219.4h1M62.4 225.4h1M54.5 226.0h1M62.0 215.7h1M57.2 219.5h1M48.2 231.4h1M53.9 225.7h1M67.3 218.3h1M61.2 226.4h1M58.4 220.1h1M56.7 225.6h1M74.0 212.3h1M68.1 208.4h1M72.0 209.9h1M73.6 217.8h1M59.0 217.1h1M51.0 231.6h1M65.6 211.3h1M61.6 218.0h1M70.1 216.6h1M53.3 224.4h1M67.4 220.8h1M59.9 217.5h1M78.2 212.2h1M82.6 204.0h1M61.8 212.4h1M65.6 211.2h1M48.8 230.9h1M65.6 210.0h1M66.2 212.4h1M54.2 226.0h1M72.8 204.3h1M48.1 233.8h1M63.0 217.9h1M63.4 211.5h1M52.9 224.3h1M76.3 213.3h1M80.9 207.8h1M49.5 227.7h1M80.0 214.3h1M65.9 215.7h1M70.8 203.9h1M55.3 227.2h1M72.4 206.7h1M56.4 227.0h1M69.4 210.2h1M75.4 207.8h1M65.6 213.3h1M69.3 207.7h1M54.9 227.9h1M74.8 205.9h1M72.7 203.7h1M64.1 224.4h1M64.0 222.0h1M69.2 209.8h1M72.7 215.7h1M67.4 207.8h1M57.5 227.8h1M59.8 217.6h1M83.7 205.9h1M58.9 224.5h1M68.6 218.2h1M66.8 210.5h1M73.4 212.1h1M57.9 222.5h1M57.6 228.9h1M56.1 221.3h1M64.1 213.5h1M64.2 219.5h1M65.2 209.2h1M69.0 210.3h1M70.6 215.1h1M47.6 232.7h1M69.2 209.4h1M67.6 213.1h1M59.5 217.3h1M66.8 209.0h1M53.8 227.8h1M52.8 226.7h1M58.7 221.3h1M48.5 228.7h1M47.5 231.2h1M72.0 215.5h1M64.5 212.0h1M77.3 215.9h1M50.4 227.2h1M63.4 224.6h1M53.9 222.6h1M68.5 216.4h1M66.6 216.2h1M63.9 214.6h1M65.7 221.2h1M64.0 212.8h1M71.3 204.7h1M58.3 216.7h1M42.2 236.9h1M83.4 209.2h1M54.2 225.2h1M64.9 222.6h1M57.1 222.7h1M68.8 214.4h1M65.5 211.6h1M63.1 220.4h1M68.2 216.5h1M54.5 221.8h1M57.3 224.8h1M69.8 206.4h1M58.3 221.8h1M60.9 223.4h1M64.2 217.7h1M66.9 207.4h1M54.5 227.4h1M69.3 217.1h1M55.3 220.2h1M54.9 228.8h1M50.4 231.6h1M54.5 226.6h1M60.9 222.7h1M44.3 235.6h1M63.3 218.6h1M60.8 221.2h1M70.9 210.2h1M69.1 212.3h1M66.0 223.5h1M70.9 212.7h1M59.2 215.4h1M61.0 216.2h1M66.1 217.1h1M67.1 221.4h1M67.9 206.7h1M58.8 226.9h1M75.3 211.3h1M67.9 217.1h1M62.4 221.7h1M66.6 209.9h1M76.2 212.5h1M69.1 214.6h1M68.0 218.8h1M58.5 222.7h1M50.1 233.6h1M68.6 217.5h1M53.7 228.9h1M59.0 224.9h1M53.2 225.3h1M51.9 231.3h1M63.2 214.8h1M45.9 232.6h1M44.2 237.4h1M61.5 214.3h1M68.4 214.6h1M64.8 224.0h1M47.1 233.3h1M60.6 223.5h1M60.5 222.9h1M63.4 223.5h1M56.8 223.4h1M68.6 209.6h1M65.2 211.0h1M56.9 221.1h1M65.8 212.6h1M69.7 220.5h1M52.0 229.4h1M79.6 209.6h1M67.6 205.4h1M67.2 213.9h1M74.9 215.6h1M66.8 208.3h1M68.3 219.8h1M71.3 213.9h1M52.6 223.9h1M71.0 208.8h1M68.4 206.9h1M71.8 205.9h1M60.5 221.9h1M56.9 221.5h1M69.4 208.6h1M75.3 209.2h1M59.8 221.9h1M76.5 215.2h1M44.0 235.0h1M47.3 234.3h1M66.7 206.7h1M59.3 222.4h1M55.3 225.5h1M52.2 227.6h1M50.4 232.7h1M77.7 214.2h1M55.4 225.9h1M71.3 214.9h1M67.3 212.3h1M75.8 204.7h1M76.2 207.6h1M55.7 220.8h1M66.8 209.6h1M62.3 219.3h1M44.9 236.0h1M59.3 217.9h1M65.4 212.6h1M63.3 213.5h1M67.7 216.5h1M60.5 218.9h1M67.1 213.6h1M77.9 213.2h1M62.9 222.5h1M64.6 215.9h1M63.7 211.2h1M61.0 223.3h1M67.2 214.3h1M48.3 232.0h1M62.2 219.5h1M67.6 218.3h1M68.0 204.7h1M71.8 213.0h1M74.1 216.4h1M50.9 232.1h1M64.4 214.1h1M54.4 226.3h1M52.1 225.5h1M64.8 208.5h1M71.1 204.3h1M60.4 217.3h1M70.8 206.7h1M70.8 203.9h1M63.0 216.3h1M60.3 222.1h1M72.6 217.8h1M58.6 227.2h1M65.5 214.8h1M64.5 221.1h1M60.9 223.9h1M54.4 224.9h1M48.6 234.5h1M63.4 213.7h1M50.5 229.3h1M71.8 215.7h1M57.7 222.0h1M71.7 218.2h1M65.0 210.6h1M54.4 227.2h1M67.9 221.9h1M61.0 216.7h1M63.3 217.0h1M59.5 220.2h1M70.5 219.4h1M67.3 211.6h1M63.6 220.6h1M73.5 206.7h1M64.4 211.3h1M55.4 222.3h1M50.5 227.3h1M78.5 203.9h1M56.0 221.5h1M63.9 222.7h1M67.0 213.2h1M53.1 230.9h1M65.9 222.5h1M67.4 221.0h1M48.3 234.7h1M71.4 204.7h1M43.1 235.6h1M64.8 212.2h1M64.7 223.9h1M70.4 217.5h1M53.3 224.7h1M67.7 219.8h1M55.3 228.4h1M59.9 216.9h1M67.5 209.4h1M65.5 218.3h1M58.8 216.0h1M62.7 217.6h1M58.5 222.5h1M58.3 220.7h1M70.1 215.4h1M57.0 222.1h1M73.1 218.4h1M77.9 205.9h1M54.4 221.4h1M59.4 223.6h1M50.7 229.8h1M66.2 208.1h1M64.7 224.0h1M63.3 224.5h1M75.7 215.8h1M79.6 211.8h1M57.9 228.7h1M59.4 220.8h1M57.0 222.9h1M57.7 225.3h1M44.0 237.2h1M49.5 233.7h1M44.8 234.3h1M65.7 208.0h1M65.5 220.0h1M48.6 230.3h1M67.0 214.9h1M66.7 212.6h1M42.8 235.9h1M42.5 236.3h1M47.8 233.5h1M67.5 208.5h1M58.9 228.3h1M76.8 214.9h1M83.2 204.1h1M66.3 209.2h1M76.9 214.6h1M70.2 214.6h1M44.1 234.3h1M65.2 223.5h1M59.5 227.6h1M56.9 226.4h1M57.7 222.6h1M52.5 228.0h1M71.8 206.3h1M59.0 222.5h1M46.8 230.6h1M61.7 214.9h1M52.4 224.4h1M65.4 210.3h1M68.0 217.9h1M47.6 234.3h1M62.5 211.9h1M80.1 207.6h1M58.4 225.0h1M58.7 216.3h1M59.6 224.1h1M66.6 206.8h1M65.6 219.8h1M76.2 211.2h1M70.3 219.6h1M54.4 222.9h1M52.4 232.3h1M65.3 212.4h1M48.0 231.7h1M77.0 213.3h1M55.8 225.8h1M69.2 205.5h1M71.7 216.8h1M53.4 223.6h1M66.5 223.3h1M60.9 223.8h1M57.8 227.9h1M63.9 211.2h1M67.3 212.3h1M64.4 212.0h1M66.0 218.1h1M59.2 226.4h1M44.4 235.1h1M70.8 203.9h1M60.3 221.7h1M62.2 225.9h1M81.2 208.3h1M51.2 228.2h1M62.2 213.5h1M71.7 206.1h1M70.7 211.7h1M69.6 204.6h1M51.8 227.2h1M71.8 209.0h1M44.5 233.7h1M70.2 206.3h1M55.7 227.9h1M54.1 229.0h1M67.1 218.3h1M52.6 224.5h1M58.5 225.0h1M75.3 216.3h1M59.7 216.3h1M53.2 223.2h1M57.1 224.9h1M75.2 212.5h1M66.8 208.6h1M75.0 211.1h1M70.5 206.9h1M71.1 211.2h1M69.7 220.3h1M49.5 230.6h1M70.0 216.6h1M70.4 218.1h1M52.4 227.4h1M43.2 236.1h1M71.2 216.0h1M81.6 211.2h1M65.6 216.0h1M60.6 224.7h1M65.5 208.3h1M52.3 229.2h1M57.0 226.7h1M70.4 203.9h1M53.0 230.0h1M60.0 215.1h1M50.0 227.3h1M50.7 230.2h1M69.1 215.8h1M53.0 223.5h1M67.1 219.4h1M66.3 219.2h1M69.6 213.4h1M71.6 206.8h1M67.7 216.4h1M56.0 228.5h1M57.5 218.0h1M44.4 234.8h1M64.2 215.2h1M70.4 219.7h1M77.0 212.9h1M71.9 216.9h1M66.6 211.6h1M69.8 211.6h1M67.2 222.0h1M70.4 216.0h1M68.5 216.1h1M58.3 220.7h1M49.6 231.0h1M72.9 208.1h1M70.7 215.7h1M73.4 218.3h1M51.5 229.2h1M55.9 227.9h1M72.3 212.0h1M60.7 220.0h1M52.8 228.1h1M60.4 218.4h1M74.5 203.8h1M51.4 227.1h1M46.8 232.9h1M45.8 236.3h1M50.7 230.6h1M61.1 213.1h1M70.7 208.1h1M67.9 212.8h1M72.7 203.8h1M67.6 214.6h1M79.2 211.2h1M49.6 228.3h1M70.6 211.3h1M56.0 223.5h1M55.0 224.1h1M60.7 213.6h1M66.0 220.6h1M60.7 223.7h1M60.0 226.7h1M61.4 217.0h1M71.0 220.1h1M61.0 221.4h1M64.5 216.0h1M83.2 204.4h1M59.9 219.7h1M67.3 209.7h1M48.9 232.5h1M54.1 225.7h1M74.3 204.8h1M75.5 211.9h1M51.0 231.7h1M62.1 217.5h1M61.0 223.5h1M60.9 213.4h1M63.2 213.3h1M68.5 218.9h1M71.4 206.6h1M68.6 206.8h1M82.7 208.8h1M62.8 217.9h1M58.8 221.5h1M44.5 235.4h1M65.7 213.4h1M65.9 207.4h1M56.2 219.7h1M65.0 223.2h1M66.9 211.0h1M68.9 204.5h1M71.4 216.6h1M68.5 209.7h1M51.1 226.0h1M47.5 232.5h1M78.9 213.0h1M66.7 211.0h1M46.6 235.0h1M73.7 210.5h1M57.3 226.4h1M61.5 219.0h1M61.0 225.2h1M64.6 211.0h1M59.4 221.1h1M68.2 207.0h1M51.1 230.6h1M70.9 207.6h1M75.8 209.7h1M71.2 205.8h1M42.9 236.0h1M53.4 224.1h1M60.4 219.9h1M57.0 228.5h1M64.4 209.5h1M71.9 219.5h1M59.8 225.8h1M64.3 219.3h1M70.5 207.9h1M57.9 225.9h1M54.0 227.1h1M62.7 214.7h1M77.5 213.9h1M62.2 225.5h1M71.6 214.0h1M65.2 217.4h1M67.2 212.3h1M83.5 211.4h1M62.4 221.0h1M62.0 225.8h1M71.3 204.6h1M83.5 211.2h1M69.3 213.6h1M67.3 207.0h1M80.4 208.7h1M55.1 229.4h1M70.5 216.9h1M55.8 228.7h1M46.3 235.5h1M66.2 217.0h1M59.1 225.4h1M69.4 221.3h1M74.9 217.2h1M71.3 208.2h1M53.5 222.5h1M80.6 207.9h1M65.9 219.6h1M64.1 224.9h1M72.6 215.0h1M72.3 217.7h1M59.9 218.2h1M45.0 237.5h1M69.7 209.3h1M83.6 210.8h1M56.4 229.0h1M60.9 218.6h1M76.4 204.7h1M70.8 204.1h1M65.9 212.1h1M64.1 212.4h1M43.8 237.1h1M70.7 217.3h1M67.2 212.9h1M59.6 227.5h1M75.6 214.6h1M62.5 213.3h1M62.1 216.4h1M69.5 216.7h1M49.0 234.7h1M60.3 226.1h1M65.3 218.6h1M71.9 215.3h1M58.5 224.0h1M57.6 224.9h1M70.4 219.5h1M56.0 219.8h1M50.0 230.8h1M45.1 236.4h1M66.5 217.5h1M67.9 212.6h1M47.7 234.3h1M73.6 206.5h1M68.8 212.3h1M56.4 222.0h1M62.9 214.1h1M56.9 229.1h1M71.5 216.2h1M60.5 216.8h1M59.6 226.7h1M49.6 234.3h1M71.0 215.4h1M50.2 232.2h1M66.0 219.5h1M51.3 227.0h1M52.3 230.3h1M51.9 229.9h1M64.8 217.1h1M75.6 216.5h1M65.1 221.6h1M63.8 212.5h1M57.6 227.5h1M58.7 217.2h1M55.0 224.0h1M59.9 224.9h1M62.4 215.5h1M77.0 208.6h1M70.5 210.5h1M62.2 213.4h1M67.8 205.2h1M68.7 206.3h1M50.2 226.6h1M53.0 225.2h1M55.0 223.9h1M59.4 219.0h1M71.3 216.4h1M56.6 224.2h1M71.2 213.5h1M67.4 222.4h1M78.9 205.9h1M73.4 209.1h1M66.1 221.1h1M57.8 220.1h1M70.8 212.1h1M67.3 210.5h1M68.8 217.0h1M61.6 215.8h1M67.7 221.1h1M71.9 215.5h1M62.9 216.1h1M66.4 212.0h1M57.0 225.0h1M58.7 225.6h1M71.8 206.7h1M68.2 216.7h1M71.7 205.6h1M74.7 208.4h1M54.2 228.7h1M68.0 213.9h1M72.6 206.5h1M68.2 221.7h1M58.6 228.2h1M71.7 217.2h1M75.3 210.8h1M67.5 221.8h1M51.9 225.4h1M71.0 214.3h1M56.4 219.1h1M58.6 226.9h1M60.7 214.6h1M48.0 234.3h1M58.1 217.9h1M75.6 209.1h1M59.6 225.2h1M82.6 212.5h1M44.4 237.6h1M64.3 215.5h1M44.6 236.0h1M58.7 217.9h1M76.4 214.5h1M67.1 215.8h1M59.5 227.4h1M67.6 211.8h1M57.9 219.9h1M64.4 221.3h1M64.6 220.8h1M63.4 224.7h1M43.6 235.4h1M76.8 208.9h1M61.7 218.9h1M71.2 205.4h1M68.1 217.0h1M50.7 231.0h1M58.4 218.7h1M63.3 223.8h1M67.8 222.0h1M57.0 226.8h1M68.3 210.0h1M67.7 208.0h1M73.3 215.5h1M70.5 208.8h1M54.8 230.2h1M54.7 227.2h1M84.0 210.1h1M52.1 230.1h1M68.1 215.6h1M69.1 218.0h1M68.7 209.2h1M70.3 210.3h1M52.8 231.0h1M66.6 217.1h1M58.9 218.1h1M44.4 236.8h1M66.5 213.8h1M67.6 211.1h1M60.5 220.6h1M62.1 213.0h1M61.7 219.6h1M65.5 215.4h1M65.8 212.1h1M63.5 224.5h1M71.0 212.3h1M67.0 209.4h1M56.3 226.1h1M52.9 223.7h1M64.9 219.8h1M69.0 210.5h1M52.9 227.6h1M68.3 220.5h1M61.5 225.1h1M57.8 227.0h1M64.7 213.0h1M67.5 208.2h1M71.7 206.1h1M67.9 212.6h1M71.7 213.6h1M70.0 205.2h1M64.5 223.1h1M74.3 214.1h1M66.2 209.5h1M65.6 216.9h1M80.4 213.1h1M74.4 209.7h1M69.1 220.7h1M58.6 218.2h1M63.6 218.0h1M53.0 231.3h1M60.6 226.9h1M47.1 231.1h1M47.0 231.4h1M58.0 216.9h1M66.4 217.8h1M67.3 209.4h1M64.1 214.2h1M67.6 205.6h1M49.9 226.8h1M71.9 203.9h1M58.4 217.9h1M75.0 215.3h1M62.2 225.1h1M70.1 211.8h1M62.7 222.0h1M80.7 211.7h1M73.8 218.0h1M62.5 220.1h1M49.8 230.2h1M50.8 231.5h1M75.5 205.7h1M49.4 233.4h1M75.8 205.4h1M59.3 219.4h1M58.9 217.5h1M70.3 215.9h1M65.3 213.4h1M69.7 217.5h1M60.2 224.4h1M62.0 224.5h1M66.5 212.5h1M63.7 212.8h1M65.4 213.0h1M69.2 220.3h1M76.5 212.6h1M64.8 214.9h1M57.9 226.7h1M58.5 218.1h1M54.3 230.2h1M57.4 220.3h1M68.6 207.5h1M66.3 215.0h1M62.5 219.3h1M59.3 225.8h1M73.2 217.1h1M66.9 223.0h1M49.0 233.5h1M48.9 230.1h1M70.2 204.1h1M62.5 223.0h1M64.6 211.9h1M49.9 230.2h1M70.8 206.2h1M65.1 210.8h1M54.3 223.5h1M81.4 204.9h1M48.1 230.3h1M78.9 214.4h1M75.4 217.4h1M64.6 215.0h1M65.9 223.1h1M75.8 216.4h1M70.9 207.8h1M63.7 218.7h1M51.4 231.3h1M49.1 229.3h1M47.7 230.1h1M53.7 227.8h1M56.4 225.6h1M56.2 226.9h1M69.7 207.6h1M77.6 209.5h1M58.2 221.8h1M64.6 209.4h1M57.5 221.7h1M49.3 234.1h1M69.5 206.7h1M48.0 233.1h1M79.0 214.8h1M50.2 230.3h1M54.8 226.0h1M58.5 217.9h1M51.5 229.9h1M72.6 204.0h1M58.3 228.1h1M49.9 232.2h1M64.0 223.6h1M57.0 227.4h1M45.3 234.2h1M56.0 225.4h1M52.0 225.3h1M43.3 235.1h1M65.7 211.7h1M82.7 206.3h1M66.9 215.9h1M50.5 227.3h1M64.7 221.4h1M55.8 227.1h1M47.9 229.8h1M73.2 205.1h1M78.6 209.9h1M67.9 215.0h1M53.8 223.0h1M46.0 235.0h1M63.9 215.9h1M60.0 216.5h1M72.0 204.8h1M74.7 215.2h1M54.2 230.0h1M67.3 208.0h1M70.5 210.2h1M48.4 231.8h1M48.9 228.1h1M54.3 226.1h1M63.0 214.4h1M68.6 218.5h1M58.5 221.8h1M68.5 205.4h1M67.6 208.6h1M48.5 230.9h1M62.1 216.1h1M58.9 227.4h1M76.8 213.0h1M80.1 212.6h1M57.4 225.5h1M54.7 229.3h1M58.8 226.6h1M68.7 212.6h1M67.9 206.2h1M50.6 231.6h1M61.0 221.9h1M66.4 220.0h1M58.1 225.4h1M64.4 224.7h1M70.8 205.8h1M74.5 217.4h1M74.6 207.1h1M60.5 216.9h1M67.4 221.9h1M52.1 228.9h1M47.8 234.5h1M64.4 220.6h1M68.2 214.5h1M63.3 223.7h1M73.8 218.4h1M63.2 214.2h1M55.7 227.1h1M56.6 221.8h1M58.3 217.3h1M52.7 225.8h1M67.7 213.3h1M60.0 226.3h1M59.5 223.8h1M60.1 221.1h1M77.5 209.7h1M69.8 216.0h1M67.5 220.0h1M65.3 216.5h1M57.0 222.8h1M60.0 217.4h1M78.3 215.1h1M71.4 216.0h1M65.1 208.4h1M62.2 217.1h1M62.2 222.5h1M70.0 216.3h1M65.1 208.8h1M58.7 218.2h1M70.3 210.8h1M65.0 218.9h1M70.7 212.2h1M67.9 217.1h1M67.3 206.0h1M57.8 220.2h1M72.1 209.9h1M69.4 204.5h1M63.0 219.4h1M73.2 204.0h1M57.2 226.6h1M65.2 209.0h1M60.9 221.0h1M63.9 212.0h1M58.8 225.9h1M64.4 214.3h1M64.9 217.0h1"/>
<path stroke="#0c0cf2" stroke-width="0.85" fill="none" stroke-opacity="0.8" d="M81.7 214.0h0.85M56.1 218.2h0.85M59.1 228.9h0.85M75.3 217.9h0.85M61.8 226.9h0.85M49.4 226.2h0.85M54.5 231.6h0.85M48.4 228.5h0.85M73.2 219.2h0.85M60.1 228.2h0.85M60.2 228.7h0.85M60.5 228.3h0.85M66.2 206.4h0.85M63.4 226.9h0.85M63.0 210.6h0.85M50.2 235.0h0.85M46.1 237.0h0.85M70.4 221.1h0.85M52.3 234.6h0.85M57.1 229.6h0.85M57.8 229.1h0.85M73.8 218.7h0.85M59.9 214.3h0.85M63.6 225.5h0.85M71.3 220.5h0.85M52.4 222.9h0.85M56.5 230.2h0.85M54.1 233.2h0.85M55.2 218.8h0.85M73.5 219.3h0.85M84.3 216.4h0.85M60.6 212.9h0.85M50.1 234.2h0.85M52.0 233.2h0.85M67.2 223.3h0.85M73.7 219.2h0.85M71.5 220.2h0.85M60.1 228.9h0.85M67.4 225.0h0.85M57.0 230.4h0.85M72.5 221.8h0.85M73.7 218.6h0.85M49.0 227.9h0.85M60.7 227.9h0.85M76.0 219.0h0.85M52.1 222.9h0.85M51.3 224.5h0.85M47.4 229.3h0.85M43.3 233.8h0.85M68.1 223.6h0.85M60.7 212.1h0.85M47.0 228.8h0.85M51.8 234.5h0.85M53.7 232.8h0.85M58.6 230.8h0.85M56.8 230.3h0.85M49.3 235.1h0.85M54.1 232.2h0.85"/>
<path stroke="#ff1212" stroke-width="0.85" fill="none" stroke-opacity="0.85" d="M83.5 199.2h0.85M80.8 199.0h0.85M75.1 201.8h0.85M82.2 202.6h0.85M81.0 200.8h0.85M73.4 203.0h0.85M76.5 198.5h0.85M78.4 197.4h0.85M82.1 199.9h0.85M82.3 197.6h0.85M71.7 200.3h0.85M84.4 196.5h0.85M70.6 202.3h0.85M82.3 199.1h0.85M83.6 201.7h0.85M75.2 201.4h0.85M84.6 197.5h0.85M80.2 200.9h0.85M82.6 200.0h0.85M80.3 195.9h0.85M83.5 202.0h0.85M71.3 201.4h0.85M79.0 199.6h0.85M76.4 197.4h0.85M84.5 198.3h0.85M83.1 202.9h0.85M81.3 189.7h0.85M78.5 197.5h0.85M83.5 202.2h0.85M77.6 203.0h0.85M72.0 202.1h0.85M81.3 202.2h0.85M83.7 199.0h0.85M83.8 191.4h0.85M82.5 196.7h0.85M81.8 201.7h0.85M74.8 198.2h0.85M83.9 192.7h0.85M78.8 199.4h0.85M83.2 200.2h0.85M84.1 199.8h0.85M79.6 191.4h0.85M84.1 194.3h0.85M75.5 199.9h0.85M82.7 199.7h0.85M79.9 202.8h0.85M81.1 192.2h0.85M78.5 200.6h0.85M81.4 193.6h0.85M76.3 196.2h0.85M78.9 198.5h0.85M80.6 198.8h0.85M81.0 197.3h0.85M75.7 200.8h0.85M81.5 197.1h0.85M80.7 200.0h0.85M79.7 200.0h0.85M76.4 200.4h0.85M79.6 202.8h0.85M77.8 193.3h0.85M78.9 196.6h0.85M79.0 200.7h0.85M83.9 197.0h0.85M77.1 200.8h0.85M75.7 197.6h0.85M82.4 198.8h0.85M82.7 199.2h0.85M84.5 201.8h0.85M75.1 202.5h0.85M81.9 196.4h0.85M79.9 200.9h0.85M74.4 201.5h0.85M84.0 198.6h0.85M83.8 194.8h0.85M80.4 196.1h0.85M78.9 195.7h0.85M83.1 202.2h0.85M83.3 189.6h0.85M83.9 200.8h0.85M79.4 198.9h0.85M75.0 200.8h0.85M83.7 202.3h0.85M82.6 202.1h0.85M84.0 193.6h0.85M77.9 196.1h0.85M75.8 198.5h0.85M76.1 202.5h0.85M78.3 202.0h0.85M78.9 199.1h0.85M81.4 200.9h0.85M77.1 202.8h0.85M84.5 197.5h0.85M80.6 200.8h0.85M76.6 196.6h0.85M84.4 202.8h0.85M75.4 202.1h0.85M81.1 201.4h0.85M82.9 193.7h0.85M78.5 199.2h0.85M80.6 198.8h0.85M81.7 202.7h0.85M83.3 197.6h0.85M83.9 200.8h0.85M75.6 197.8h0.85M82.0 196.5h0.85M78.9 192.8h0.85M79.7 201.3h0.85M81.6 191.8h0.85M81.3 194.4h0.85M83.1 199.3h0.85M79.7 192.7h0.85M82.0 198.2h0.85M83.1 199.1h0.85M77.4 197.8h0.85M80.6 200.9h0.85M82.0 198.0h0.85M83.1 199.9h0.85M81.6 202.5h0.85M84.6 195.9h0.85M80.5 202.8h0.85M81.7 200.5h0.85M82.7 201.3h0.85M79.6 201.5h0.85M81.8 199.0h0.85M82.2 195.4h0.85M81.6 199.8h0.85M79.3 193.0h0.85M76.1 200.5h0.85M82.6 187.8h0.85M76.2 200.9h0.85M74.3 201.0h0.85M79.1 198.4h0.85M79.6 195.6h0.85M79.9 202.4h0.85M78.4 193.6h0.85M80.7 201.2h0.85M78.4 195.2h0.85M84.7 192.7h0.85M75.5 198.0h0.85M75.6 201.1h0.85M77.8 199.4h0.85M82.3 198.4h0.85M83.5 194.7h0.85M84.6 200.7h0.85M80.9 201.7h0.85M76.8 202.7h0.85M82.6 199.3h0.85M82.6 201.0h0.85M81.1 195.8h0.85M80.3 202.6h0.85M81.2 194.4h0.85M84.3 192.5h0.85M82.2 198.3h0.85M81.4 199.5h0.85M76.1 197.6h0.85M78.3 199.2h0.85M77.8 200.4h0.85M80.3 201.0h0.85M80.3 202.3h0.85M82.9 200.8h0.85M81.9 198.4h0.85M80.3 202.9h0.85M77.9 202.7h0.85M82.2 201.2h0.85M79.6 200.7h0.85M80.9 194.5h0.85M81.7 196.6h0.85M78.9 194.1h0.85M76.1 202.7h0.85M84.5 196.1h0.85M79.2 202.5h0.85M83.7 198.6h0.85M79.8 202.7h0.85M81.4 193.0h0.85M79.7 197.4h0.85M79.2 198.9h0.85M82.3 197.3h0.85M83.0 197.9h0.85M82.5 192.2h0.85M82.2 200.4h0.85M75.6 199.0h0.85M74.8 201.1h0.85M79.6 196.6h0.85M75.5 198.3h0.85M82.1 197.1h0.85M83.0 199.7h0.85M75.6 197.8h0.85M73.2 201.8h0.85M81.9 193.9h0.85M80.8 202.4h0.85M78.4 194.6h0.85M82.9 201.2h0.85M80.2 193.7h0.85M83.6 201.7h0.85M76.2 198.3h0.85M79.9 198.6h0.85M81.4 200.4h0.85M78.1 193.9h0.85M82.1 201.5h0.85M80.4 199.1h0.85"/>
<path stroke="#12ee3a" stroke-width="0.9" fill="none" d="M88.7 192.7h0.9M93.8 197.7h0.9M102.2 190.5h0.9M94.2 190.2h0.9M86.5 201.8h0.9M92.5 193.8h0.9M98.8 177.1h0.9M109.5 190.8h0.9M87.1 199.6h0.9M86.5 193.0h0.9M114.6 185.0h0.9M105.7 186.1h0.9M107.4 178.6h0.9M100.1 186.7h0.9M112.3 170.4h0.9M112.5 157.4h0.9M94.4 194.8h0.9M94.8 181.8h0.9M115.2 181.1h0.9M96.7 195.4h0.9M100.2 177.3h0.9M108.7 180.3h0.9M93.0 191.8h0.9M99.1 187.4h0.9M98.8 182.2h0.9M92.3 202.0h0.9M104.0 180.9h0.9M95.3 195.4h0.9M88.9 193.1h0.9M94.2 195.7h0.9M86.8 202.5h0.9M110.4 178.8h0.9M120.2 169.3h0.9M86.8 200.3h0.9M91.0 193.2h0.9M102.9 180.8h0.9M90.1 193.2h0.9M88.0 200.3h0.9M105.5 168.7h0.9M100.6 181.2h0.9M125.0 183.4h0.9M89.5 198.7h0.9M89.9 201.5h0.9M86.6 202.5h0.9M97.1 185.9h0.9M86.6 184.8h0.9M100.9 185.8h0.9M94.0 198.8h0.9M113.6 178.4h0.9M101.6 190.8h0.9M99.8 179.6h0.9M99.1 192.2h0.9M100.3 193.1h0.9M95.3 183.7h0.9M96.6 179.0h0.9M86.5 189.4h0.9M108.2 172.8h0.9M99.2 186.5h0.9M106.3 181.2h0.9M96.4 177.8h0.9M99.0 192.3h0.9M103.3 189.7h0.9M92.1 189.9h0.9M86.1 198.8h0.9M100.2 185.1h0.9M91.6 193.6h0.9M92.4 189.8h0.9M118.8 155.7h0.9M105.1 182.4h0.9M92.7 200.0h0.9M93.5 198.6h0.9M90.6 197.2h0.9M104.4 182.7h0.9M94.2 199.0h0.9M118.1 171.6h0.9M93.6 195.9h0.9M88.7 199.4h0.9M90.7 193.3h0.9M107.9 184.4h0.9M95.4 195.8h0.9M87.1 197.7h0.9M89.6 193.3h0.9M88.1 198.1h0.9M92.0 187.1h0.9M89.6 189.4h0.9M102.0 171.8h0.9M108.6 190.7h0.9M97.9 189.0h0.9M107.7 178.1h0.9M92.0 196.3h0.9M117.4 162.8h0.9M112.4 169.2h0.9M87.8 193.8h0.9M96.8 190.9h0.9M95.1 192.0h0.9M90.1 199.0h0.9M95.7 198.3h0.9M94.3 190.3h0.9M96.6 184.6h0.9M86.8 197.8h0.9M120.2 161.8h0.9M99.7 176.9h0.9M89.7 198.9h0.9M88.4 193.0h0.9M99.8 189.0h0.9M95.8 189.7h0.9M101.3 181.2h0.9M97.1 195.8h0.9M103.0 191.1h0.9M98.3 194.1h0.9M99.3 185.4h0.9M88.1 202.0h0.9M96.1 188.7h0.9M90.7 193.4h0.9M106.0 188.0h0.9M96.4 196.0h0.9M107.3 181.1h0.9M95.4 185.8h0.9M87.5 199.9h0.9M95.4 189.4h0.9M103.4 188.4h0.9M101.5 180.4h0.9M88.3 200.5h0.9M89.0 193.6h0.9M104.5 169.1h0.9M102.6 183.8h0.9M103.2 182.5h0.9M114.0 180.7h0.9M87.3 201.9h0.9M94.1 183.0h0.9M112.7 184.6h0.9M86.2 199.2h0.9M86.8 200.1h0.9M103.9 183.1h0.9M93.7 199.3h0.9M99.1 190.3h0.9M92.8 197.6h0.9M97.4 202.3h0.9M108.3 182.7h0.9M103.3 188.2h0.9M105.9 175.2h0.9M96.5 187.1h0.9M88.4 196.4h0.9M93.2 173.8h0.9M89.1 193.1h0.9M96.2 191.9h0.9M88.0 197.9h0.9M101.3 189.4h0.9M92.1 182.7h0.9M113.9 161.1h0.9M103.2 190.4h0.9M101.6 183.0h0.9M95.3 194.8h0.9M127.8 168.8h0.9M103.7 198.0h0.9M111.6 176.2h0.9M104.2 189.2h0.9M120.2 167.7h0.9M104.8 172.7h0.9M103.8 181.7h0.9M100.0 163.3h0.9M92.8 197.1h0.9M92.8 191.9h0.9M105.0 176.4h0.9M100.6 187.5h0.9M94.0 192.3h0.9M98.0 183.5h0.9M101.7 181.5h0.9M99.7 194.5h0.9M91.3 197.3h0.9M100.9 190.7h0.9M100.5 177.1h0.9M95.5 175.0h0.9M99.3 190.6h0.9M88.3 196.6h0.9M100.1 176.7h0.9M113.2 179.5h0.9M85.6 200.8h0.9M98.2 189.4h0.9M108.3 175.1h0.9M88.3 200.1h0.9M89.2 198.5h0.9M109.6 187.1h0.9M129.2 158.8h0.9M87.6 202.6h0.9M87.4 199.6h0.9M86.3 196.1h0.9M103.0 185.7h0.9M95.7 189.1h0.9M99.7 181.5h0.9M105.7 170.5h0.9M94.3 198.4h0.9M100.6 182.9h0.9M109.5 170.4h0.9M91.7 198.0h0.9M90.5 198.2h0.9M88.8 195.2h0.9M105.0 186.7h0.9M97.9 178.5h0.9M90.7 196.6h0.9M97.3 184.3h0.9M94.1 194.4h0.9M111.2 190.3h0.9M94.7 178.6h0.9M98.4 194.8h0.9M95.1 197.6h0.9M85.8 192.9h0.9M88.1 194.0h0.9M106.2 179.8h0.9M105.9 170.0h0.9M105.7 181.2h0.9M90.8 199.0h0.9M99.3 188.7h0.9M91.6 193.2h0.9M91.8 187.7h0.9M109.1 189.4h0.9M102.9 176.9h0.9M88.3 193.3h0.9M113.6 172.0h0.9M118.8 168.8h0.9M92.9 189.1h0.9M90.1 189.0h0.9M110.9 184.6h0.9M96.9 198.6h0.9M105.1 195.8h0.9M104.8 180.9h0.9M112.6 178.0h0.9M94.6 199.0h0.9M93.2 193.6h0.9M92.1 195.6h0.9M102.7 191.0h0.9M101.5 182.5h0.9M102.0 189.5h0.9M89.6 191.2h0.9M87.0 198.9h0.9M103.3 180.5h0.9M101.0 189.4h0.9M108.1 180.6h0.9M92.1 190.7h0.9M91.7 174.3h0.9M88.8 196.0h0.9M93.2 192.7h0.9M99.6 189.6h0.9M98.8 191.9h0.9M97.7 194.0h0.9M93.7 192.1h0.9M98.5 180.7h0.9M87.6 200.1h0.9M98.0 192.2h0.9M102.4 184.7h0.9M115.8 179.2h0.9M100.0 194.3h0.9M86.8 195.9h0.9M99.7 185.3h0.9"/>
<path stroke="#f040f0" stroke-width="0.9" fill="none" d="M90.4 204.6h0.9M88.0 206.5h0.9M89.1 206.2h0.9M87.5 204.1h0.9M87.7 207.7h0.9M87.9 204.1h0.9M88.3 205.0h0.9M88.1 205.1h0.9"/>
<path stroke="#0c0cf2" stroke-width="1" fill="none" d="M176.7 227.8h1M193.3 213.9h1M174.9 229.5h1M190.8 213.9h1M192.5 210.5h1M193.8 213.3h1M187.4 213.4h1M196.6 204.2h1M202.0 206.8h1M177.4 226.9h1M194.0 210.9h1M190.2 210.1h1M168.9 234.2h1M178.4 225.4h1M171.8 227.8h1M192.1 213.1h1M177.0 227.1h1M196.8 204.2h1M198.2 209.4h1M192.8 209.5h1M183.1 219.6h1M200.0 203.7h1M202.4 204.6h1M184.1 216.4h1M201.5 206.3h1M195.2 209.7h1M195.0 211.0h1M173.4 228.1h1M190.3 214.6h1M193.3 212.8h1M172.9 226.8h1M186.9 219.8h1M182.5 217.5h1M179.4 222.4h1M166.0 233.5h1M197.7 211.2h1M190.5 214.7h1M183.0 217.8h1M190.8 215.8h1M178.9 222.1h1M193.1 209.8h1M199.5 205.9h1M189.6 211.5h1M171.1 231.7h1M175.1 227.6h1M169.0 232.1h1M186.8 217.1h1M196.6 203.9h1M197.4 206.4h1M189.1 216.4h1M195.4 210.5h1M199.3 206.4h1M191.7 216.3h1M192.4 211.5h1M170.5 229.7h1M180.4 221.3h1M175.4 227.9h1M197.3 207.6h1M198.0 211.1h1M182.8 220.7h1M200.5 204.9h1M184.5 219.9h1M167.7 233.2h1M199.0 210.3h1M189.1 212.0h1M190.4 209.7h1M181.8 221.3h1M197.8 206.5h1M198.0 207.2h1M182.2 221.8h1M166.3 233.4h1M199.3 207.8h1M198.4 211.2h1M201.0 206.5h1M196.7 206.6h1M166.6 234.3h1M198.7 207.5h1M187.1 218.7h1M198.7 207.5h1M186.9 218.0h1M195.4 204.8h1M190.8 211.4h1M190.3 211.3h1M194.3 207.5h1M184.1 221.5h1M174.6 229.2h1M190.3 215.5h1M174.4 230.1h1M185.7 221.0h1M195.1 211.6h1M184.5 221.2h1M179.4 223.9h1M193.7 209.4h1M198.8 208.1h1M198.0 203.6h1M187.7 213.9h1M194.7 206.1h1M198.7 206.0h1M187.8 213.3h1M197.7 205.0h1M191.0 215.6h1M186.1 216.2h1M193.8 212.9h1M195.0 205.7h1M189.5 211.1h1M172.8 226.8h1M194.5 213.6h1M195.4 210.6h1M183.2 220.2h1M197.8 205.9h1M179.5 220.2h1M189.0 218.6h1M184.2 219.7h1M171.3 229.7h1M178.1 226.9h1M174.6 224.9h1M196.9 204.2h1M188.2 215.9h1M192.9 212.4h1M203.4 206.2h1M203.4 205.9h1M198.6 204.8h1M202.0 208.4h1M188.9 218.0h1M179.2 221.3h1M165.9 234.1h1M199.0 206.0h1M173.3 228.4h1M172.6 228.7h1M192.7 215.0h1M192.8 212.0h1M203.2 203.9h1M202.3 205.7h1M178.8 226.3h1M195.8 212.3h1M176.4 225.7h1M165.9 233.5h1M184.3 220.5h1M180.8 223.2h1M191.2 210.6h1M190.3 210.0h1M195.3 211.3h1M179.0 221.8h1M191.3 217.0h1M198.0 207.7h1M193.9 209.8h1M167.1 232.4h1M194.1 213.4h1M195.3 209.4h1M187.0 219.3h1M174.0 230.3h1M174.4 230.0h1M203.2 207.9h1M195.2 212.2h1M170.8 229.8h1M199.5 210.1h1M194.6 212.6h1M185.4 214.8h1M189.2 213.6h1M196.1 212.9h1M186.9 219.7h1M171.2 232.2h1M191.2 214.6h1M184.3 216.6h1M197.6 204.5h1M195.2 210.9h1M174.8 229.3h1M194.9 208.2h1M184.0 218.0h1M186.8 217.4h1M188.9 215.5h1M199.7 208.0h1M190.9 209.6h1M197.4 208.3h1M173.0 230.3h1M189.2 218.4h1M188.2 213.8h1M193.0 207.7h1M169.8 233.7h1M184.3 217.5h1M166.7 233.9h1M175.6 227.7h1M186.7 214.0h1M184.3 217.9h1M194.7 212.8h1M180.8 222.6h1M193.6 209.3h1M203.2 206.3h1M200.7 206.0h1M198.0 208.5h1M181.1 219.0h1M197.7 208.3h1M169.6 230.5h1M177.9 226.9h1M183.0 221.1h1M181.4 224.1h1M204.4 206.3h1M165.3 236.8h1M173.2 229.9h1M179.2 224.7h1M194.8 209.1h1M198.9 209.8h1M187.6 217.5h1M186.4 216.8h1M186.9 218.2h1M190.6 210.8h1M166.8 236.0h1M181.3 224.5h1M174.7 229.8h1M177.9 225.9h1M164.1 235.7h1M198.3 210.1h1M197.6 206.2h1M168.3 231.2h1M181.1 221.0h1M195.5 210.9h1M193.0 207.7h1M185.1 219.6h1M186.5 216.3h1M180.5 219.5h1M186.0 218.3h1M164.9 235.4h1M190.1 214.2h1M182.8 219.4h1M187.9 213.1h1M166.9 234.2h1M196.8 211.2h1M186.4 218.5h1M185.1 219.2h1M175.7 225.7h1M197.8 205.4h1M170.0 233.2h1M198.3 205.9h1M194.5 208.2h1M181.7 221.5h1M188.7 212.5h1M178.7 222.6h1M197.7 209.1h1M195.8 205.0h1M174.4 226.3h1M186.5 214.2h1M198.5 211.1h1M178.2 225.3h1M202.5 206.8h1M193.0 207.2h1M199.6 208.1h1M189.9 210.2h1M194.7 208.2h1M176.9 228.1h1M173.1 230.6h1M171.4 230.0h1M178.1 222.5h1M194.8 208.9h1M184.0 220.6h1M194.3 205.8h1M182.6 218.7h1M201.1 204.3h1M171.3 229.9h1M173.7 229.9h1M192.4 216.0h1M177.8 223.6h1M196.5 206.2h1M194.3 212.8h1M198.6 208.5h1M165.2 237.0h1M176.1 224.4h1M183.6 219.2h1M175.5 225.0h1M190.3 215.1h1M203.2 205.2h1M197.1 206.0h1M195.9 207.9h1M184.1 217.5h1M198.0 209.0h1M202.5 208.4h1M166.2 234.2h1M202.8 204.6h1M186.0 214.4h1M184.8 220.1h1M170.2 232.9h1M194.4 207.1h1M178.1 225.2h1M188.9 211.8h1M193.1 207.6h1M182.7 222.8h1M165.6 235.9h1M181.2 224.5h1M198.8 205.3h1M194.7 212.9h1M194.1 214.2h1M180.3 221.6h1M189.2 218.6h1M172.3 228.2h1M173.8 227.0h1M187.3 215.7h1M178.2 223.1h1M180.6 222.0h1M192.4 207.8h1M195.0 205.4h1M195.0 206.2h1M197.5 206.5h1M181.9 220.1h1M192.5 209.1h1M181.7 221.3h1M183.1 217.0h1M177.2 226.0h1M186.3 217.8h1M179.3 222.3h1M201.6 205.7h1M171.5 230.8h1M170.0 231.4h1M201.0 207.8h1M171.6 230.4h1M195.3 205.6h1M189.2 216.3h1M190.3 216.5h1M184.6 218.3h1M204.2 206.6h1M193.6 211.2h1M175.9 226.1h1M188.6 216.5h1M195.9 205.3h1M178.4 226.8h1M189.1 215.1h1M203.0 206.2h1M172.0 229.0h1M194.9 214.3h1M175.8 225.3h1M204.3 206.7h1M191.6 215.0h1M197.4 206.6h1M199.1 207.2h1M196.4 206.9h1M192.8 213.5h1M186.9 214.2h1M202.3 207.9h1M171.2 230.3h1M196.4 208.2h1M186.1 214.3h1M172.4 228.1h1M189.3 214.7h1M180.8 221.1h1M180.5 219.3h1M185.0 218.6h1M184.3 217.3h1M180.7 219.5h1M196.5 204.2h1M167.2 233.4h1M193.5 213.7h1M203.7 205.7h1M194.7 209.9h1M188.9 218.7h1M187.8 218.3h1M198.8 207.8h1M191.9 213.2h1M190.5 214.1h1M183.7 217.1h1M203.7 205.7h1M198.4 206.8h1M195.7 211.4h1M181.8 223.6h1M194.7 214.5h1M195.7 205.2h1M173.1 229.5h1M203.6 204.3h1M178.9 224.8h1M204.3 206.7h1M164.1 235.8h1M178.8 222.8h1M172.7 226.7h1M191.5 214.6h1M196.8 211.3h1M202.9 204.4h1M196.9 210.3h1M186.4 215.3h1M188.2 213.4h1M197.0 205.9h1M195.2 207.9h1M200.3 208.2h1M176.6 226.6h1M198.6 206.4h1M192.2 212.4h1M196.4 211.9h1M197.5 207.1h1M200.9 209.5h1M197.4 203.7h1M191.6 213.7h1M187.4 218.7h1M176.5 223.3h1M196.7 207.9h1M202.4 205.6h1M176.4 226.8h1M183.9 217.5h1M189.0 213.0h1M182.2 217.6h1M195.4 210.8h1M178.5 226.9h1M191.6 210.5h1M188.7 211.3h1M172.7 228.3h1M175.0 226.4h1M172.1 231.3h1M186.0 215.2h1M191.6 208.8h1M180.5 223.3h1M202.5 207.9h1M183.0 222.8h1M179.8 223.0h1M186.9 214.1h1M203.4 205.1h1M193.9 215.0h1M190.2 213.1h1M193.0 211.9h1M175.0 225.8h1M166.3 234.4h1M200.2 206.4h1M184.0 218.2h1M194.7 210.5h1M183.5 221.7h1M187.5 215.0h1M173.0 228.5h1M193.8 208.9h1M197.2 209.7h1M192.1 208.2h1M184.9 215.3h1M188.1 217.5h1M200.2 207.0h1M202.4 204.4h1M171.2 229.1h1M181.1 221.6h1M187.4 215.2h1M196.8 211.8h1M185.1 220.2h1M176.1 224.9h1M196.7 207.0h1M188.5 217.0h1M202.2 208.0h1M178.1 226.9h1M186.1 215.8h1M193.3 208.3h1M202.3 203.8h1M185.9 217.5h1M201.8 208.9h1M181.7 221.2h1M175.9 227.4h1M184.5 215.6h1M172.0 227.5h1M193.5 212.4h1M172.1 231.4h1M197.9 206.1h1M167.7 232.3h1M191.2 213.4h1M202.0 205.6h1M196.9 211.2h1M183.8 218.3h1M181.6 221.8h1M203.3 204.9h1M181.4 218.3h1M174.5 227.8h1M168.4 232.4h1M186.2 215.9h1M192.7 215.1h1M199.9 208.3h1M185.6 218.5h1M170.5 233.0h1M189.7 211.6h1M170.3 229.9h1M178.0 226.0h1M192.2 212.6h1M197.9 205.2h1M176.8 228.1h1M171.7 229.9h1M165.5 234.1h1M169.4 231.8h1M198.7 208.2h1M193.3 206.8h1M178.1 226.7h1M203.6 205.8h1M187.7 217.3h1M186.5 217.8h1M183.8 217.7h1M193.9 212.5h1M172.6 230.7h1M177.4 222.4h1M184.9 221.8h1M199.2 206.7h1M199.5 209.8h1M185.6 214.6h1M192.0 212.3h1M196.9 207.3h1M200.9 209.7h1M174.1 227.7h1M193.6 208.2h1M186.7 216.5h1M168.5 232.1h1M203.9 204.7h1M187.8 215.9h1M178.5 226.9h1M201.4 209.2h1M168.6 234.1h1M194.5 206.3h1M189.3 218.0h1M173.1 229.6h1M190.7 216.1h1M195.3 213.5h1M202.1 207.1h1M175.0 226.4h1M191.3 215.1h1M183.6 218.7h1M192.1 212.9h1M166.4 234.5h1M201.0 209.5h1M194.0 207.9h1M198.9 205.0h1M164.8 236.8h1M184.2 220.9h1M192.2 209.7h1M195.3 207.6h1M183.9 216.5h1M187.8 218.2h1M199.2 208.7h1M188.5 218.8h1M196.6 208.1h1M187.9 218.7h1M182.3 220.3h1M202.8 205.9h1M183.3 220.7h1M196.3 203.8h1M198.5 205.7h1M186.9 219.2h1M198.6 211.2h1M188.8 212.3h1M166.2 233.8h1M196.4 209.8h1M197.1 206.2h1M192.8 209.0h1M196.1 211.6h1M193.5 214.0h1M191.5 215.6h1M190.7 215.1h1M194.5 213.0h1M177.9 222.9h1M177.8 227.5h1M175.5 227.3h1M179.0 222.2h1M171.8 229.3h1M171.5 231.3h1M204.6 203.9h1M199.1 209.1h1M198.3 209.0h1M190.6 211.8h1M194.7 214.0h1M197.7 209.8h1M186.0 216.8h1M185.9 220.9h1M197.6 206.8h1M196.8 209.4h1M193.5 211.8h1M181.0 222.1h1M174.5 227.7h1M194.2 211.4h1M197.3 205.0h1M184.0 222.3h1M173.3 229.7h1M198.0 210.8h1M171.5 231.0h1M184.0 221.9h1M172.5 228.7h1M178.5 225.8h1M182.3 219.6h1M179.7 220.5h1M185.9 219.1h1M201.2 204.4h1M183.1 221.2h1M199.6 204.7h1M171.9 228.6h1M186.1 218.4h1M181.6 224.4h1M172.2 228.4h1M192.7 207.3h1M183.1 219.7h1M179.8 225.8h1M173.5 229.5h1M196.3 206.4h1M186.5 216.0h1M178.5 226.4h1M187.0 213.5h1M191.6 211.9h1M197.8 203.8h1M189.4 217.9h1M194.2 210.5h1M202.0 207.4h1M191.5 212.0h1M188.3 212.5h1M183.7 222.3h1M166.9 233.6h1M195.9 210.0h1M198.2 211.6h1M173.5 229.5h1M176.0 228.4h1M183.7 217.9h1M187.0 214.8h1M175.2 229.0h1M179.4 224.6h1M192.9 211.3h1M194.5 212.2h1M193.1 213.0h1M175.4 225.0h1M185.9 213.9h1M166.7 232.7h1M195.8 210.6h1M170.5 233.0h1M202.1 203.9h1M173.0 227.9h1M179.9 224.0h1M173.4 226.7h1M185.5 220.1h1M192.2 211.7h1M199.5 205.6h1M196.0 204.3h1M197.1 211.4h1M164.7 236.7h1M200.4 205.0h1M190.4 216.3h1M193.6 208.2h1M190.1 217.5h1M193.0 215.0h1M179.7 224.7h1M197.4 207.5h1M178.0 223.0h1M174.3 226.6h1M204.0 204.2h1M199.2 204.2h1M174.6 226.9h1M180.8 222.2h1M203.6 204.2h1M196.0 207.4h1M178.5 223.4h1M190.0 212.1h1M197.1 207.5h1M202.3 205.6h1M182.3 219.3h1M199.6 206.6h1M203.2 207.5h1M183.3 222.5h1M176.5 226.6h1M198.5 210.2h1M190.3 214.7h1M203.8 205.3h1M167.8 231.4h1M191.5 213.4h1M180.4 225.0h1M174.7 225.1h1M168.0 231.3h1M179.0 224.6h1M198.3 205.0h1M183.1 222.3h1M174.3 229.2h1M203.6 206.8h1M185.8 217.9h1M192.7 213.4h1M192.8 213.3h1M190.3 214.6h1M183.4 222.8h1M196.5 205.3h1M200.2 209.8h1M178.6 221.6h1M175.7 225.1h1M168.7 233.1h1M189.8 212.6h1M183.4 223.0h1M167.0 233.6h1M197.4 205.7h1M182.0 222.4h1M186.3 220.5h1M165.7 236.0h1M188.6 213.4h1M187.3 215.1h1M199.7 206.4h1M182.2 219.0h1M181.7 219.7h1M196.0 207.9h1M178.8 225.4h1M186.9 219.9h1M190.6 209.4h1M180.4 220.4h1M197.3 208.5h1M194.5 206.2h1M193.4 211.0h1M196.2 209.1h1M200.4 207.9h1M178.8 223.7h1M182.8 222.8h1M191.2 210.5h1M190.3 216.0h1M192.9 207.5h1M174.6 227.6h1M201.5 206.7h1M185.9 217.4h1M198.3 205.4h1M171.7 228.1h1M186.0 216.9h1M182.7 221.8h1M196.3 204.8h1M175.0 228.7h1M193.4 210.9h1M189.3 216.3h1M184.4 217.7h1M179.2 221.9h1M172.6 231.2h1M169.9 232.6h1M190.8 215.8h1M178.7 221.9h1M185.2 220.2h1M187.3 216.2h1M201.0 204.2h1M184.9 215.8h1M197.2 204.8h1M194.4 212.2h1M178.5 223.2h1M184.6 216.9h1M195.5 211.1h1M186.3 219.8h1M168.6 231.9h1M182.5 221.3h1M177.1 225.8h1M177.7 225.8h1M195.5 205.8h1M172.3 228.5h1M165.9 234.7h1M179.2 223.6h1M197.9 203.7h1M199.8 205.9h1M181.9 218.7h1M164.4 235.7h1M173.6 227.3h1M175.8 226.5h1M193.1 212.8h1M196.6 210.2h1M199.1 207.1h1M196.5 211.9h1M166.8 233.2h1M187.6 219.1h1M179.8 221.1h1M187.1 212.8h1M191.4 215.4h1M199.5 209.9h1M193.7 207.0h1M167.6 234.3h1M197.3 211.3h1M179.8 222.2h1M193.4 213.2h1M180.4 224.9h1M174.5 225.2h1M179.5 221.3h1M193.3 209.8h1M179.2 222.5h1M197.8 205.0h1M173.4 229.6h1M200.0 208.1h1M201.6 206.2h1M167.6 232.9h1M183.1 219.2h1M181.0 223.2h1M187.6 217.8h1M191.7 211.3h1M192.3 216.2h1M200.3 209.5h1M190.8 209.8h1M201.2 204.3h1M197.7 208.4h1M200.1 209.9h1M191.3 217.0h1M198.1 210.6h1M170.5 231.0h1M178.3 223.6h1M192.7 211.2h1M166.0 235.3h1M187.6 213.1h1M167.2 234.7h1M166.5 234.0h1M184.3 218.8h1M192.1 209.3h1M179.1 222.9h1M203.2 205.3h1M203.7 205.8h1M178.8 224.4h1M201.7 206.4h1M197.6 211.9h1M174.0 229.6h1M169.0 232.5h1M168.7 231.1h1M201.1 206.0h1M188.7 211.7h1M183.0 220.4h1M164.8 235.9h1M201.6 203.8h1M182.8 218.8h1M194.2 211.1h1M174.0 228.3h1M189.8 217.7h1M181.4 219.2h1M202.4 205.3h1M189.8 215.1h1M165.8 234.3h1M164.6 236.2h1M195.3 207.9h1M191.8 211.5h1M171.9 230.3h1M204.6 204.6h1M196.5 209.9h1M197.4 210.6h1M181.9 219.6h1M187.2 217.7h1M186.6 213.9h1M197.3 210.5h1M188.6 211.4h1M185.3 215.9h1M196.6 206.9h1M184.6 220.4h1M178.1 221.9h1M199.7 205.2h1M197.6 206.1h1M198.0 207.9h1M196.0 211.9h1M180.6 222.4h1M199.8 207.7h1M175.1 229.3h1M201.7 208.0h1M203.2 206.1h1M191.1 215.4h1M172.9 231.0h1M174.6 229.3h1M188.4 215.0h1M185.3 218.9h1M192.9 210.8h1M193.0 207.1h1M191.2 212.7h1M197.5 210.6h1M184.0 220.7h1M193.8 207.8h1M193.8 209.7h1M196.3 207.3h1M170.5 230.4h1M175.9 228.0h1M195.6 205.9h1M175.5 227.9h1M184.2 220.4h1M166.0 234.2h1M195.1 209.7h1M191.0 212.9h1M166.5 236.1h1M203.1 205.4h1M197.8 205.1h1M186.7 217.1h1M167.7 235.1h1M184.3 220.8h1M181.8 223.9h1M198.0 208.5h1M186.5 216.4h1M201.0 206.4h1M187.2 215.0h1M179.6 224.6h1M167.0 232.3h1M192.1 212.0h1M175.2 226.2h1M197.0 208.1h1M195.4 209.6h1M183.2 220.1h1M201.3 204.9h1M186.6 214.1h1M182.9 218.8h1M199.5 208.4h1M188.0 217.9h1M198.2 210.6h1M175.2 227.0h1M175.4 225.8h1M166.7 235.3h1M174.2 229.8h1M201.0 209.0h1M200.3 206.5h1M199.1 209.9h1M173.9 230.1h1M166.9 235.6h1M196.1 208.3h1M178.4 222.1h1M186.3 217.8h1M170.6 229.9h1M183.3 222.1h1M201.1 207.8h1M189.3 211.2h1M170.4 231.4h1M165.0 235.8h1M171.7 230.2h1M194.0 213.8h1M171.1 230.5h1M193.8 214.2h1M178.2 221.5h1M169.6 232.9h1M184.6 217.0h1M176.6 227.9h1M184.5 217.9h1M196.7 206.6h1M191.3 215.2h1M197.4 209.5h1M177.9 225.5h1M195.5 207.2h1M195.9 208.6h1M188.5 213.0h1M193.0 208.2h1M182.9 217.5h1M189.5 212.7h1M199.3 207.8h1M191.9 212.1h1M190.8 213.7h1M196.6 208.9h1M194.8 206.3h1M201.9 206.5h1M176.4 224.6h1M180.7 223.6h1M186.0 216.5h1M176.6 224.6h1M190.7 212.5h1M196.1 204.5h1M192.8 212.9h1M194.8 207.4h1M187.8 217.6h1M187.1 216.6h1M175.3 225.3h1M188.5 218.3h1M169.3 233.1h1M198.1 204.6h1M172.6 230.7h1M199.1 205.5h1M179.8 226.0h1M201.3 206.9h1M174.0 227.3h1M185.8 214.7h1M196.6 209.3h1M186.9 218.0h1M183.7 217.3h1M189.6 217.4h1M192.2 209.0h1M192.2 214.5h1M195.4 209.0h1M183.6 222.3h1M198.9 205.0h1M165.8 236.7h1M191.9 208.5h1M184.2 216.8h1M172.7 231.4h1M198.1 211.9h1M183.0 223.2h1M192.8 215.6h1M183.7 217.9h1M199.4 205.5h1M193.9 212.8h1M171.8 227.8h1M181.8 220.2h1M197.6 211.8h1M192.3 215.6h1M178.6 222.8h1M175.5 224.6h1M200.0 206.5h1M164.6 235.3h1M198.6 211.1h1M174.7 226.5h1M197.4 209.9h1M198.9 209.6h1M198.7 211.2h1M193.7 209.8h1M193.3 215.0h1M189.3 218.0h1M175.3 227.2h1M190.7 216.2h1M177.0 226.2h1M177.4 225.2h1M170.3 230.6h1M197.1 208.0h1M198.5 211.1h1M199.8 207.7h1M186.6 218.8h1M194.6 213.4h1M191.8 208.5h1M193.5 213.3h1M196.6 204.0h1M171.3 230.6h1M189.7 211.2h1M183.3 220.0h1M179.0 221.8h1M200.3 206.3h1M182.4 218.5h1M175.9 227.1h1M179.0 226.1h1M172.7 227.6h1M191.7 210.6h1M193.6 207.5h1M187.4 219.1h1M195.3 211.2h1M182.8 220.3h1M195.5 205.3h1M200.9 206.3h1M183.7 219.3h1M186.6 216.6h1M195.6 211.6h1M191.2 214.2h1M164.6 234.9h1M186.3 213.9h1M188.4 212.3h1M174.5 226.1h1M189.4 218.1h1M185.2 218.5h1M178.1 224.2h1M181.3 222.4h1M176.9 226.1h1M173.3 228.2h1M194.0 214.9h1M172.6 231.3h1M191.9 212.9h1M192.7 214.0h1M186.5 219.5h1M176.9 227.7h1M191.0 215.7h1M173.0 229.9h1M197.0 210.8h1M191.0 210.2h1M190.4 210.9h1M193.0 215.3h1M190.5 209.9h1M190.4 210.2h1M195.4 211.6h1M191.5 216.0h1M187.4 220.2h1M191.5 213.1h1M182.4 221.6h1M190.3 212.9h1M191.7 213.8h1M201.6 207.5h1M164.9 236.4h1M173.1 228.8h1M187.3 214.4h1M197.3 207.7h1M190.1 211.6h1M200.1 205.3h1M195.2 211.7h1M195.8 211.5h1M173.7 228.4h1M193.1 212.4h1M189.5 211.4h1M179.8 220.9h1M166.3 236.2h1M167.6 233.9h1M178.1 225.3h1M164.5 235.4h1M199.0 208.3h1M173.3 230.9h1M195.2 212.1h1M199.4 208.0h1M170.5 232.8h1M197.9 205.8h1M184.6 216.4h1M190.3 210.1h1M177.6 222.7h1M194.8 208.5h1M200.5 205.3h1M196.3 210.8h1M188.5 212.7h1M201.7 207.7h1M196.4 205.7h1M185.8 219.1h1M181.5 221.7h1M190.8 216.7h1M185.7 214.3h1M179.8 224.3h1M187.2 212.8h1M202.2 206.4h1M195.3 205.1h1M194.0 206.3h1M181.5 221.4h1M177.5 225.2h1M168.9 231.8h1M199.5 205.4h1M192.1 216.3h1M180.7 221.7h1M196.2 209.6h1M192.2 215.9h1M183.5 220.2h1M197.5 208.4h1M185.2 215.2h1M191.3 209.3h1M189.4 214.5h1M177.4 225.9h1M192.9 214.1h1M191.0 209.2h1M203.1 206.9h1M195.0 206.5h1M180.7 219.4h1M195.5 208.8h1M197.0 207.4h1M184.7 219.3h1M167.7 233.6h1M192.8 208.9h1M197.4 211.1h1M187.1 212.8h1M173.6 226.8h1M174.0 229.3h1M184.7 215.1h1M187.9 213.9h1M200.2 208.9h1M191.0 210.5h1M189.5 211.0h1M169.3 233.3h1M184.1 219.3h1M177.7 224.9h1M186.7 220.5h1M193.1 211.5h1M197.6 203.7h1M197.0 211.4h1M188.4 214.4h1M178.0 224.0h1M174.0 229.1h1M182.4 222.4h1M195.7 209.7h1M168.5 231.6h1M169.0 231.5h1M188.9 212.7h1M197.9 203.8h1M197.1 207.8h1"/>
<path stroke="#0c0cf2" stroke-width="0.85" fill="none" stroke-opacity="0.8" d="M171.8 227.0h0.85M172.0 226.8h0.85M177.6 221.7h0.85M184.9 222.9h0.85M175.7 222.8h0.85M180.9 218.1h0.85M176.4 222.1h0.85M186.6 213.2h0.85M179.2 227.1h0.85M162.2 235.1h0.85M164.0 237.8h0.85M164.0 238.5h0.85M203.4 208.1h0.85M189.6 208.1h0.85M168.0 230.4h0.85M188.8 209.4h0.85M175.9 229.1h0.85M188.7 219.3h0.85M168.3 229.1h0.85M167.0 229.7h0.85M182.6 216.6h0.85M167.1 237.1h0.85M181.8 217.4h0.85M183.2 216.3h0.85M169.0 235.5h0.85M174.6 230.7h0.85M188.6 210.6h0.85M178.9 219.0h0.85M178.2 220.9h0.85M190.1 218.3h0.85M187.5 210.9h0.85M180.7 217.6h0.85M172.3 233.2h0.85M177.2 228.6h0.85M179.1 227.8h0.85M185.2 213.2h0.85M163.8 236.4h0.85M166.0 237.0h0.85M184.4 214.4h0.85M162.7 237.4h0.85M180.0 226.6h0.85M189.3 210.4h0.85M186.2 221.4h0.85M198.9 212.3h0.85M188.6 211.1h0.85M199.7 212.1h0.85M179.6 217.7h0.85M172.6 232.6h0.85M176.1 222.1h0.85M179.0 219.6h0.85M171.1 227.9h0.85M198.1 212.2h0.85M193.7 215.7h0.85M176.7 222.2h0.85M180.8 218.1h0.85M183.7 223.3h0.85M166.8 237.9h0.85"/>
<path stroke="#ff1212" stroke-width="0.85" fill="none" stroke-opacity="0.85" d="M200.0 197.3h0.85M198.3 200.6h0.85M202.0 200.3h0.85M197.3 202.1h0.85M200.0 199.1h0.85M198.6 198.4h0.85M199.1 197.1h0.85M203.2 202.0h0.85M200.2 200.5h0.85M203.1 199.7h0.85M201.3 201.6h0.85M202.1 199.2h0.85M204.5 196.9h0.85M201.2 203.0h0.85M203.7 201.3h0.85M203.8 198.5h0.85M201.1 200.9h0.85M200.8 200.1h0.85M200.8 200.6h0.85M201.1 200.8h0.85M203.5 200.5h0.85M198.2 201.3h0.85M200.7 195.7h0.85M203.0 200.6h0.85M199.2 198.1h0.85M204.2 202.3h0.85M203.5 202.0h0.85M203.6 199.9h0.85M201.1 199.6h0.85M194.5 201.2h0.85M202.5 201.5h0.85M203.2 201.4h0.85M194.8 200.5h0.85M201.0 199.3h0.85M204.0 201.7h0.85M203.5 196.7h0.85M199.1 202.9h0.85M201.3 202.9h0.85M199.5 200.6h0.85M202.3 200.0h0.85M197.1 202.2h0.85M201.4 198.6h0.85M201.4 196.9h0.85M202.2 201.1h0.85M193.7 202.4h0.85M203.4 202.5h0.85M201.2 197.2h0.85M203.2 202.3h0.85M194.0 202.0h0.85M203.6 201.0h0.85M203.2 200.3h0.85M202.8 200.2h0.85M201.4 201.9h0.85M200.4 199.5h0.85M203.2 201.3h0.85M200.8 202.7h0.85M199.3 198.9h0.85M202.5 200.9h0.85M199.5 200.1h0.85M201.0 202.6h0.85M204.6 195.9h0.85M203.1 194.1h0.85M200.6 200.4h0.85M204.5 199.2h0.85M203.7 195.3h0.85M203.0 200.5h0.85M199.1 203.0h0.85M198.0 200.4h0.85M197.3 200.2h0.85M201.8 202.0h0.85M195.2 202.4h0.85M199.7 201.0h0.85M200.2 199.8h0.85M203.4 199.9h0.85M204.3 200.6h0.85M200.3 201.1h0.85M199.9 201.6h0.85M200.6 202.1h0.85M202.5 201.6h0.85M195.7 200.5h0.85M203.4 199.5h0.85M197.9 199.1h0.85M199.5 197.9h0.85M202.7 202.4h0.85M200.3 202.7h0.85M203.1 201.5h0.85M199.6 201.2h0.85M202.2 197.1h0.85M199.3 202.2h0.85M197.0 202.9h0.85M201.4 202.4h0.85M204.5 201.3h0.85M196.9 201.8h0.85M199.4 201.8h0.85M204.1 200.4h0.85M203.5 202.5h0.85M204.6 202.4h0.85M203.4 198.6h0.85M201.1 196.9h0.85M202.3 195.9h0.85M202.1 200.0h0.85M199.6 201.3h0.85M199.6 200.8h0.85M198.1 199.5h0.85M201.0 197.6h0.85M200.4 199.3h0.85M200.9 199.6h0.85M201.6 202.7h0.85M201.8 201.7h0.85M201.4 200.1h0.85M201.0 201.4h0.85M201.9 197.3h0.85M203.2 198.2h0.85M202.8 200.3h0.85M202.5 200.2h0.85M201.9 198.7h0.85M203.6 202.3h0.85M201.9 202.0h0.85M203.2 201.8h0.85M195.6 202.5h0.85M198.8 196.8h0.85M201.0 198.2h0.85M201.1 201.9h0.85M201.6 202.6h0.85M196.9 198.4h0.85M200.2 202.3h0.85M200.5 201.3h0.85M204.5 202.4h0.85M199.4 198.5h0.85M201.0 199.5h0.85"/>
<path stroke="#12ee3a" stroke-width="0.85" fill="none" stroke-opacity="0.85" d="M256.9 157.9h0.85M219.3 188.8h0.85M217.1 192.8h0.85M233.1 186.5h0.85M232.1 176.4h0.85M229.1 186.4h0.85M210.9 200.7h0.85M226.6 187.5h0.85M241.5 161.4h0.85M239.5 161.6h0.85M216.3 195.0h0.85M217.8 186.3h0.85M230.4 176.7h0.85M220.1 190.3h0.85M234.5 164.0h0.85M208.7 199.0h0.85M214.4 196.4h0.85M237.2 178.8h0.85M226.3 182.0h0.85M224.9 186.9h0.85M231.7 186.5h0.85M206.9 200.3h0.85M206.4 199.2h0.85M210.8 196.0h0.85M243.4 182.4h0.85M231.1 187.4h0.85M228.3 195.2h0.85M215.8 191.1h0.85M220.3 193.3h0.85M206.1 201.1h0.85M223.8 190.5h0.85M214.3 197.6h0.85M211.3 191.2h0.85M231.9 180.1h0.85M240.3 167.4h0.85M249.2 170.4h0.85M217.3 189.6h0.85M211.6 198.1h0.85M209.6 195.3h0.85M215.4 195.0h0.85M224.8 186.0h0.85M211.4 200.7h0.85M238.2 176.4h0.85M210.2 195.2h0.85M209.6 196.8h0.85M217.6 191.9h0.85M235.3 177.8h0.85M223.4 183.4h0.85M217.4 191.6h0.85M215.4 199.0h0.85M210.4 195.1h0.85M217.2 194.6h0.85M249.8 163.9h0.85M239.8 175.7h0.85M230.4 187.2h0.85M211.3 196.5h0.85M220.8 195.2h0.85M217.8 194.1h0.85M213.8 192.4h0.85M207.9 197.0h0.85M208.0 198.5h0.85M208.7 199.7h0.85M238.0 183.0h0.85M247.6 150.2h0.85M219.4 190.3h0.85M214.8 192.3h0.85M214.9 192.0h0.85M210.9 193.4h0.85M226.2 190.4h0.85M216.1 190.6h0.85M256.4 156.8h0.85M213.7 197.7h0.85M213.6 198.0h0.85M236.7 166.5h0.85M252.4 162.6h0.85M219.9 186.0h0.85M213.8 195.1h0.85M215.6 196.4h0.85M250.0 153.4h0.85M210.5 200.0h0.85M219.4 189.3h0.85M234.7 184.6h0.85M229.7 186.7h0.85M221.5 187.2h0.85M211.4 192.7h0.85M217.6 194.5h0.85M242.9 166.8h0.85M246.8 157.5h0.85M253.7 145.7h0.85M229.9 178.7h0.85M224.3 184.3h0.85M252.5 162.1h0.85M208.8 200.3h0.85M228.9 184.5h0.85M248.8 163.9h0.85M222.7 181.4h0.85M253.1 165.4h0.85M218.9 193.3h0.85M224.8 187.9h0.85M224.8 193.8h0.85M217.2 196.0h0.85M245.0 171.1h0.85M235.9 182.2h0.85M234.5 174.3h0.85M221.2 186.6h0.85M245.6 165.1h0.85M229.5 186.8h0.85M221.0 190.4h0.85M209.4 200.7h0.85M242.0 180.0h0.85M213.6 192.1h0.85M213.0 200.7h0.85M212.1 196.3h0.85M220.3 186.8h0.85M239.2 174.2h0.85M222.1 184.6h0.85M213.4 197.1h0.85M213.5 192.2h0.85M206.7 199.8h0.85M232.1 177.8h0.85M220.5 195.7h0.85M213.9 192.7h0.85M212.5 197.7h0.85M236.9 175.7h0.85M215.5 200.1h0.85M216.4 187.8h0.85M223.2 191.9h0.85M227.9 180.2h0.85M248.5 166.1h0.85M227.7 183.4h0.85M251.6 154.3h0.85M213.6 196.3h0.85M223.4 189.6h0.85M216.5 190.1h0.85M207.8 200.9h0.85M217.5 191.3h0.85M211.9 198.4h0.85M248.4 172.0h0.85M250.2 175.8h0.85M241.9 169.3h0.85M227.9 184.5h0.85M244.2 179.6h0.85M242.0 178.4h0.85M219.7 195.1h0.85M214.7 198.3h0.85M223.0 193.5h0.85M221.8 192.0h0.85M209.8 197.3h0.85M222.2 190.0h0.85M228.1 184.8h0.85M205.6 198.8h0.85M223.5 187.5h0.85M219.0 189.1h0.85M242.0 167.8h0.85M213.7 196.4h0.85M208.2 201.5h0.85M229.0 179.6h0.85M223.9 188.2h0.85M218.8 194.8h0.85M206.4 198.9h0.85M245.5 165.6h0.85M237.1 180.0h0.85M227.8 173.6h0.85M209.4 193.5h0.85M223.9 187.5h0.85M219.6 190.8h0.85M245.1 163.3h0.85M206.7 198.7h0.85M227.9 178.1h0.85M207.4 198.6h0.85M222.5 185.2h0.85M241.9 170.7h0.85M230.8 176.1h0.85M209.1 199.5h0.85M210.5 202.8h0.85M240.6 172.2h0.85M226.0 171.2h0.85M209.6 195.3h0.85M245.8 153.7h0.85M219.3 184.8h0.85M219.6 195.4h0.85M210.2 197.8h0.85M246.3 158.8h0.85M214.0 194.5h0.85M206.5 200.1h0.85M206.0 199.7h0.85M237.1 172.2h0.85M245.9 165.0h0.85M218.6 189.0h0.85M239.6 168.2h0.85M213.0 192.6h0.85M223.4 189.9h0.85M252.2 161.2h0.85M246.1 173.2h0.85M218.9 185.2h0.85M225.6 183.3h0.85M253.2 169.6h0.85M222.9 185.3h0.85M230.8 175.7h0.85M215.6 187.7h0.85M217.9 193.1h0.85M261.0 157.7h0.85M246.9 163.6h0.85M231.2 188.7h0.85M246.0 173.3h0.85M241.3 176.2h0.85M234.4 165.3h0.85M244.8 161.7h0.85M228.0 184.1h0.85M218.5 190.7h0.85M208.6 201.4h0.85M249.1 159.2h0.85M233.8 185.1h0.85M228.7 185.4h0.85M209.7 197.1h0.85M237.8 174.4h0.85M225.8 173.6h0.85M207.7 198.5h0.85M227.3 188.2h0.85M236.4 177.6h0.85M212.5 200.2h0.85M214.8 193.9h0.85M215.9 194.7h0.85M249.6 161.0h0.85M213.9 194.3h0.85M211.6 200.7h0.85M258.3 176.5h0.85M216.6 188.0h0.85M228.6 184.4h0.85M221.7 188.3h0.85M216.0 194.6h0.85M215.6 188.5h0.85M210.6 198.6h0.85M233.2 192.1h0.85M225.7 176.8h0.85M238.5 186.8h0.85M213.9 193.1h0.85M250.6 163.5h0.85M236.9 175.6h0.85M208.2 200.5h0.85M228.7 176.8h0.85M234.2 180.1h0.85M212.7 190.7h0.85M216.9 191.5h0.85M218.8 189.5h0.85M249.8 157.9h0.85M206.2 201.8h0.85M226.4 186.9h0.85M222.3 182.1h0.85M234.2 178.9h0.85M213.6 193.3h0.85M249.2 169.3h0.85M221.8 187.7h0.85M217.0 191.6h0.85M259.2 156.6h0.85M216.8 195.1h0.85M241.2 169.8h0.85M218.6 196.1h0.85M224.1 191.9h0.85M207.3 196.0h0.85M242.9 168.2h0.85M207.3 201.6h0.85M210.7 197.8h0.85M220.4 194.1h0.85M242.5 163.6h0.85M231.6 173.7h0.85M232.6 177.1h0.85M251.1 162.4h0.85M251.1 166.6h0.85M217.6 191.0h0.85M219.9 185.1h0.85M256.5 165.0h0.85M236.9 173.2h0.85M233.7 176.4h0.85M207.5 201.2h0.85M226.3 182.4h0.85M240.1 176.5h0.85M225.9 185.9h0.85M213.6 194.5h0.85M206.2 200.4h0.85M231.9 182.2h0.85M223.1 184.5h0.85M224.7 188.3h0.85M238.2 177.2h0.85M232.8 181.4h0.85M240.0 168.4h0.85M224.9 183.7h0.85M209.9 195.7h0.85M228.9 180.2h0.85M224.9 189.6h0.85M217.2 190.6h0.85M220.8 190.2h0.85M223.5 184.8h0.85M207.7 200.9h0.85M248.6 175.5h0.85M241.0 177.3h0.85M217.6 192.7h0.85M208.9 201.7h0.85M234.6 180.5h0.85M208.4 199.2h0.85M236.8 176.3h0.85M220.7 181.9h0.85M216.7 193.9h0.85M211.8 195.5h0.85M212.2 198.7h0.85M229.5 182.9h0.85M231.7 184.1h0.85M231.9 180.5h0.85M209.6 197.2h0.85M210.4 198.8h0.85M215.3 195.9h0.85M218.4 196.4h0.85M228.0 190.5h0.85M222.3 184.8h0.85M206.8 197.2h0.85M244.6 177.1h0.85M231.0 171.5h0.85M247.9 177.7h0.85M226.2 185.4h0.85M257.2 160.7h0.85M218.0 193.6h0.85M223.7 188.7h0.85M261.2 166.5h0.85M226.7 184.4h0.85M231.3 169.9h0.85M217.8 192.1h0.85M223.8 184.4h0.85M221.0 190.0h0.85M236.8 175.1h0.85M212.8 194.7h0.85M226.6 180.5h0.85M246.2 172.0h0.85M211.7 194.9h0.85M215.5 196.1h0.85M211.5 199.3h0.85M224.7 186.1h0.85M220.4 194.1h0.85M233.5 180.9h0.85M235.5 171.2h0.85M217.0 191.1h0.85M221.9 191.2h0.85M252.1 166.0h0.85M219.7 189.3h0.85M215.2 200.7h0.85M208.3 202.9h0.85M249.5 170.4h0.85M209.0 199.5h0.85M228.6 181.2h0.85M225.0 187.7h0.85M212.8 199.5h0.85M230.9 179.0h0.85M227.3 177.1h0.85M208.4 200.4h0.85M229.3 185.4h0.85M208.8 200.2h0.85M248.9 165.9h0.85M230.2 183.2h0.85M210.7 189.2h0.85M236.4 174.0h0.85M218.2 193.7h0.85M225.5 183.2h0.85M253.4 163.0h0.85M226.8 180.0h0.85M233.5 179.1h0.85M249.3 161.7h0.85M254.8 149.1h0.85M235.9 175.4h0.85M219.4 191.9h0.85M231.5 175.9h0.85M208.6 198.7h0.85M210.1 195.8h0.85M216.1 195.3h0.85M229.3 180.4h0.85M207.5 200.0h0.85M209.3 196.4h0.85M235.4 168.8h0.85M225.3 185.2h0.85M212.1 197.0h0.85M209.6 198.6h0.85M235.2 183.8h0.85M210.5 195.5h0.85M218.0 194.2h0.85M210.1 196.0h0.85M248.4 150.4h0.85M230.7 181.8h0.85M206.5 196.9h0.85M215.2 194.1h0.85M235.5 178.6h0.85M225.5 190.4h0.85M212.4 191.4h0.85M208.4 201.5h0.85M236.6 178.7h0.85M215.8 198.7h0.85M230.0 187.4h0.85M233.7 183.0h0.85M207.2 200.7h0.85M238.7 175.4h0.85M207.4 202.2h0.85M207.2 201.8h0.85M213.5 194.7h0.85M224.0 189.9h0.85M210.3 196.9h0.85M247.7 174.5h0.85M256.8 163.1h0.85M227.2 186.8h0.85M231.5 185.1h0.85M218.6 194.2h0.85M233.5 182.6h0.85M210.5 194.8h0.85M226.0 184.0h0.85M226.6 182.0h0.85M214.8 196.6h0.85M225.9 186.9h0.85M206.9 199.7h0.85M244.5 164.8h0.85M228.9 180.1h0.85M218.9 193.0h0.85M244.9 169.4h0.85M223.1 189.3h0.85M234.2 179.0h0.85M230.9 178.7h0.85M223.1 189.3h0.85M216.7 188.8h0.85M231.3 182.7h0.85M220.8 184.8h0.85M242.2 172.0h0.85M243.5 174.1h0.85M231.5 178.4h0.85M211.7 192.4h0.85M209.5 201.1h0.85M224.4 187.5h0.85M239.8 177.2h0.85M240.0 164.0h0.85M216.6 196.4h0.85M244.4 161.5h0.85M208.1 202.3h0.85M255.4 158.8h0.85M238.3 180.3h0.85M221.3 192.3h0.85M227.7 189.6h0.85M240.7 166.5h0.85M260.2 158.9h0.85M218.2 185.0h0.85M252.7 162.3h0.85M212.2 197.1h0.85M212.7 194.4h0.85M237.2 167.2h0.85M227.6 184.4h0.85M231.0 175.0h0.85M253.4 168.1h0.85M216.8 195.0h0.85M227.9 182.9h0.85M213.5 189.2h0.85M235.2 187.8h0.85M243.9 167.4h0.85M214.0 199.7h0.85M218.6 193.2h0.85M254.9 162.2h0.85M217.0 195.3h0.85M237.0 181.8h0.85M227.6 186.6h0.85M239.5 181.7h0.85M233.4 176.6h0.85M245.9 170.8h0.85M223.8 186.2h0.85M237.8 177.5h0.85M240.3 172.0h0.85M209.0 198.8h0.85M211.2 196.6h0.85M209.9 199.5h0.85M212.2 202.8h0.85M206.0 197.9h0.85M223.5 183.9h0.85M228.4 177.7h0.85M229.8 183.6h0.85M224.5 183.9h0.85M247.4 168.7h0.85M224.9 183.0h0.85M223.7 188.2h0.85M260.7 157.6h0.85M214.5 188.5h0.85M219.9 181.9h0.85M221.9 188.1h0.85M231.4 181.9h0.85M252.1 165.1h0.85M222.3 186.3h0.85M227.3 185.2h0.85M227.8 181.4h0.85M219.2 188.4h0.85M231.3 180.3h0.85M210.0 196.7h0.85M207.5 201.4h0.85M213.1 195.4h0.85M242.4 172.3h0.85M235.6 173.1h0.85M243.6 164.8h0.85M245.2 163.7h0.85M239.6 173.2h0.85M211.4 199.8h0.85M209.8 193.0h0.85M224.1 179.1h0.85M217.3 191.8h0.85M234.3 188.3h0.85M227.3 181.9h0.85M211.2 197.8h0.85M228.0 180.5h0.85M234.9 181.5h0.85M230.7 177.5h0.85M208.7 195.9h0.85M213.1 198.2h0.85M210.2 195.1h0.85M210.3 199.1h0.85M215.1 187.8h0.85M249.1 176.1h0.85M237.8 178.7h0.85M255.0 169.5h0.85M233.4 180.4h0.85M210.0 198.2h0.85M210.6 198.2h0.85M208.8 202.3h0.85M220.1 188.9h0.85M213.7 197.3h0.85M246.0 168.7h0.85M205.8 201.9h0.85M242.7 153.0h0.85M238.8 174.0h0.85M240.0 176.1h0.85M230.0 183.9h0.85M226.0 188.0h0.85M225.6 183.4h0.85M254.5 162.9h0.85M206.0 201.5h0.85M231.5 179.0h0.85M261.0 161.2h0.85M244.7 168.4h0.85M236.1 180.2h0.85M211.2 198.0h0.85M228.8 183.1h0.85M214.3 197.7h0.85M217.8 193.7h0.85M243.8 155.7h0.85M240.8 158.4h0.85M238.2 173.3h0.85M225.0 185.8h0.85M248.9 162.7h0.85M213.0 201.0h0.85M207.4 197.9h0.85M211.5 196.5h0.85M223.7 185.2h0.85M218.7 189.0h0.85M215.2 198.1h0.85M235.0 172.5h0.85M215.6 191.2h0.85M210.9 202.0h0.85M242.5 173.8h0.85M221.6 187.5h0.85M211.1 196.4h0.85M214.3 192.4h0.85M218.7 191.2h0.85M224.7 189.6h0.85M218.6 191.8h0.85M221.7 186.3h0.85M243.6 175.1h0.85M259.5 153.2h0.85M219.4 188.4h0.85M209.6 201.4h0.85M224.7 179.8h0.85M213.9 198.6h0.85M236.0 181.5h0.85M219.3 196.3h0.85M240.5 180.0h0.85M217.8 194.5h0.85M235.9 175.3h0.85M215.9 197.1h0.85M206.4 202.3h0.85M220.0 186.9h0.85M224.9 177.8h0.85M211.2 202.8h0.85M224.1 181.3h0.85M222.9 185.0h0.85M219.2 188.4h0.85M211.9 194.7h0.85M220.9 196.0h0.85M206.9 201.2h0.85M221.5 182.4h0.85M230.5 180.6h0.85M237.4 173.8h0.85M214.1 196.7h0.85M207.8 201.8h0.85M208.3 197.6h0.85M218.1 188.8h0.85M209.4 200.4h0.85M206.9 199.6h0.85M252.6 162.1h0.85M237.2 179.9h0.85M236.6 175.9h0.85M226.0 185.9h0.85M211.9 197.7h0.85M213.1 196.1h0.85M214.8 198.3h0.85M231.1 180.9h0.85M220.7 186.5h0.85M233.6 175.2h0.85M243.6 170.0h0.85M222.8 187.3h0.85M261.8 177.9h0.85M217.7 189.7h0.85M205.8 200.2h0.85M229.4 186.9h0.85M206.3 202.0h0.85M258.9 165.0h0.85M257.6 166.7h0.85M254.1 163.5h0.85M221.4 191.9h0.85M217.2 193.5h0.85M244.6 162.1h0.85M213.5 198.9h0.85M215.0 191.3h0.85M212.0 198.4h0.85M230.0 183.8h0.85M212.3 195.7h0.85M246.6 167.7h0.85M258.7 161.5h0.85M244.5 169.8h0.85M207.9 197.9h0.85M209.2 202.1h0.85M207.7 200.2h0.85M224.4 183.9h0.85M213.2 192.2h0.85M249.8 166.0h0.85M241.2 167.3h0.85M228.1 184.8h0.85M222.0 187.7h0.85M211.1 196.2h0.85M216.9 192.3h0.85M229.2 177.4h0.85M216.7 185.3h0.85M236.3 177.1h0.85M209.0 196.1h0.85M227.0 185.1h0.85M217.7 194.5h0.85M243.2 168.8h0.85M252.6 176.3h0.85M226.2 185.3h0.85M246.0 172.7h0.85M236.3 181.6h0.85M249.1 164.6h0.85M219.1 192.5h0.85M207.8 195.8h0.85M251.5 156.1h0.85M225.9 180.8h0.85M230.0 176.6h0.85M221.1 189.4h0.85M215.2 192.1h0.85M227.0 182.3h0.85M236.2 179.1h0.85M215.3 191.8h0.85M245.5 163.7h0.85M220.4 191.7h0.85M238.0 177.5h0.85M248.7 167.2h0.85M232.5 175.8h0.85M240.9 167.7h0.85M218.9 194.9h0.85M242.7 172.9h0.85M224.0 188.4h0.85M243.2 169.5h0.85M225.6 184.9h0.85M221.6 188.0h0.85M220.2 193.7h0.85M222.9 179.5h0.85M206.4 200.0h0.85M235.3 172.7h0.85M242.8 168.3h0.85M210.6 199.4h0.85M245.5 175.4h0.85M257.6 158.3h0.85M243.6 179.1h0.85M259.6 159.4h0.85M209.9 198.7h0.85M226.6 184.8h0.85M219.5 189.3h0.85M217.8 193.6h0.85M229.2 179.3h0.85M250.5 158.1h0.85M222.0 189.1h0.85M232.1 178.1h0.85M240.4 172.1h0.85M217.5 191.5h0.85M210.6 199.9h0.85M230.3 184.2h0.85M245.8 164.5h0.85M231.7 179.3h0.85M221.0 185.4h0.85M236.1 183.8h0.85M254.7 151.5h0.85M224.8 193.8h0.85M243.4 176.9h0.85M213.0 198.1h0.85M208.7 198.8h0.85M208.7 200.5h0.85M222.3 188.2h0.85M205.6 200.8h0.85M235.4 173.6h0.85M241.0 182.2h0.85M243.5 165.5h0.85M211.2 201.7h0.85M234.6 174.1h0.85M229.7 178.8h0.85M245.3 161.4h0.85M209.6 200.0h0.85M232.5 182.8h0.85M217.7 194.9h0.85M242.2 167.0h0.85M223.5 191.9h0.85M208.6 200.6h0.85M224.8 189.2h0.85M219.3 189.8h0.85M249.9 163.1h0.85M244.2 165.9h0.85M217.9 186.8h0.85M218.0 192.8h0.85M237.1 174.7h0.85M233.9 173.1h0.85M223.7 183.9h0.85M236.4 178.8h0.85M219.9 191.3h0.85M223.9 187.5h0.85M209.0 199.0h0.85M211.8 199.5h0.85M225.1 183.5h0.85M214.0 195.8h0.85M237.8 176.7h0.85M222.5 184.1h0.85M234.8 181.0h0.85M236.3 174.5h0.85M248.2 162.1h0.85M228.5 180.6h0.85M221.6 186.7h0.85M237.4 181.6h0.85M220.4 184.9h0.85M224.2 191.1h0.85M213.3 198.5h0.85M240.5 169.7h0.85M246.7 164.7h0.85M209.6 202.8h0.85M230.9 182.6h0.85M238.4 177.8h0.85M211.1 198.4h0.85M214.7 198.2h0.85M216.1 191.4h0.85M209.2 199.2h0.85M244.5 163.6h0.85M225.4 184.7h0.85M259.6 167.8h0.85M223.4 180.7h0.85M225.7 173.7h0.85M248.0 165.0h0.85M230.9 171.6h0.85M220.3 188.9h0.85M247.3 171.3h0.85M253.9 160.5h0.85M221.7 189.4h0.85M229.9 180.2h0.85M210.0 197.9h0.85M247.3 156.7h0.85M232.0 173.0h0.85M208.2 198.4h0.85M210.7 200.7h0.85M231.1 183.2h0.85M247.4 160.6h0.85M228.6 175.0h0.85M209.4 201.5h0.85M230.9 182.4h0.85M217.2 192.8h0.85M211.4 199.0h0.85M206.2 201.6h0.85M227.6 179.5h0.85M239.5 163.9h0.85M236.3 164.4h0.85M208.6 199.4h0.85M219.1 193.8h0.85M207.7 199.0h0.85M237.7 169.4h0.85M210.3 199.2h0.85M233.7 177.6h0.85M210.2 200.2h0.85M211.6 198.2h0.85M243.1 171.7h0.85M234.8 183.6h0.85M237.4 166.8h0.85M252.4 158.7h0.85M241.3 164.6h0.85M235.2 167.4h0.85M207.8 201.4h0.85M218.1 182.0h0.85M216.9 194.0h0.85M232.4 180.7h0.85M214.2 197.6h0.85M219.3 187.4h0.85M213.5 189.5h0.85M212.6 199.8h0.85M213.8 191.5h0.85M243.0 176.5h0.85M229.5 176.0h0.85M210.0 195.4h0.85M256.7 149.2h0.85M226.7 177.4h0.85M230.5 187.0h0.85M219.5 194.2h0.85M236.0 167.7h0.85M234.8 166.5h0.85M215.4 194.9h0.85M207.3 201.0h0.85M209.1 199.6h0.85M246.5 171.1h0.85M212.7 193.6h0.85M207.6 201.8h0.85M215.1 187.6h0.85M206.8 201.6h0.85M213.9 193.6h0.85M212.7 198.7h0.85M236.1 179.4h0.85M224.2 183.5h0.85M226.2 185.9h0.85M212.9 202.3h0.85M228.2 181.3h0.85M222.4 186.3h0.85M246.6 158.3h0.85M251.6 163.7h0.85M225.6 187.0h0.85M242.5 170.1h0.85M212.2 192.2h0.85M220.2 190.6h0.85M232.0 183.5h0.85M223.5 193.7h0.85M214.9 190.4h0.85M208.2 200.3h0.85M231.5 173.2h0.85M209.9 195.4h0.85M230.4 177.5h0.85M226.1 186.7h0.85M227.1 184.5h0.85M256.3 157.6h0.85M234.7 177.7h0.85M241.0 174.0h0.85M222.5 187.3h0.85M220.0 182.7h0.85M238.4 168.3h0.85M228.8 183.0h0.85M205.9 198.9h0.85M244.9 172.2h0.85M231.2 181.8h0.85M235.5 170.9h0.85M223.4 191.8h0.85M220.2 193.1h0.85M208.1 200.2h0.85M229.2 189.5h0.85M224.8 187.5h0.85M223.2 178.4h0.85M213.4 195.5h0.85M228.3 183.1h0.85M240.1 164.2h0.85M236.1 178.9h0.85M243.6 167.7h0.85M237.5 173.0h0.85M214.0 191.5h0.85M241.1 172.4h0.85M218.2 191.0h0.85M225.1 181.9h0.85M236.6 177.1h0.85M228.2 192.2h0.85M222.2 185.4h0.85M245.5 163.6h0.85M222.8 184.1h0.85M237.4 185.7h0.85M222.7 188.2h0.85M227.1 176.5h0.85M218.2 194.2h0.85M223.0 182.7h0.85M225.2 190.2h0.85M228.9 182.7h0.85M256.4 163.4h0.85M232.7 176.5h0.85M216.5 187.5h0.85M228.8 185.3h0.85M210.9 200.4h0.85M243.1 177.5h0.85M234.3 179.6h0.85M216.5 192.9h0.85M207.7 200.9h0.85M220.7 191.3h0.85M241.3 167.9h0.85M246.9 156.7h0.85M257.2 154.9h0.85M241.4 174.8h0.85M252.1 170.6h0.85M209.1 199.4h0.85M248.7 163.0h0.85M209.6 203.0h0.85M209.8 199.5h0.85M229.4 181.1h0.85M252.0 170.6h0.85M238.3 171.9h0.85M211.8 202.9h0.85M215.7 197.7h0.85M221.9 185.3h0.85M246.1 171.1h0.85M240.4 151.6h0.85M235.5 182.9h0.85M240.3 171.2h0.85M214.0 195.6h0.85M221.9 191.0h0.85M218.8 194.7h0.85M250.4 155.2h0.85M228.7 180.1h0.85M252.8 156.3h0.85M218.2 193.6h0.85M228.1 178.8h0.85M231.1 179.5h0.85M227.7 174.0h0.85M233.6 175.0h0.85M252.3 162.7h0.85M212.9 197.8h0.85M219.8 190.5h0.85M223.3 191.4h0.85M209.8 193.7h0.85M250.6 157.7h0.85M230.0 174.2h0.85M210.8 202.0h0.85M225.8 188.0h0.85M221.1 189.2h0.85M248.2 161.2h0.85M211.4 197.5h0.85M223.6 181.0h0.85M241.5 165.4h0.85M235.2 181.2h0.85M208.7 198.9h0.85M254.1 164.0h0.85M227.7 181.2h0.85M221.6 187.8h0.85M212.6 192.0h0.85M217.8 190.7h0.85M233.4 176.6h0.85M245.9 173.9h0.85M208.7 197.1h0.85M258.9 167.2h0.85M210.7 197.9h0.85M221.4 189.5h0.85M219.8 190.0h0.85M260.4 159.8h0.85M222.6 192.0h0.85M238.8 167.7h0.85M208.0 195.5h0.85M211.2 199.6h0.85M206.4 202.4h0.85M240.6 175.1h0.85M242.0 178.1h0.85M213.5 190.4h0.85M216.7 185.6h0.85M214.6 190.1h0.85M251.9 171.1h0.85M246.2 167.7h0.85M223.6 188.5h0.85M217.0 191.6h0.85M247.1 176.3h0.85M233.9 177.5h0.85M229.0 184.8h0.85M209.5 198.6h0.85M213.3 196.2h0.85M228.9 179.1h0.85M260.2 157.0h0.85M215.8 190.8h0.85M243.2 173.1h0.85M211.4 199.1h0.85M220.1 191.1h0.85M218.6 189.3h0.85M208.1 200.9h0.85M240.1 175.0h0.85M234.4 180.0h0.85M221.4 187.0h0.85M239.9 169.2h0.85M209.4 201.8h0.85M225.2 190.5h0.85M247.0 154.8h0.85M209.7 201.7h0.85M217.2 189.9h0.85M210.7 199.4h0.85M229.8 175.9h0.85M210.4 197.9h0.85M248.2 171.4h0.85M242.5 168.2h0.85M219.0 190.2h0.85M217.4 190.5h0.85M239.8 172.8h0.85M220.3 187.8h0.85M209.0 202.3h0.85M236.3 183.4h0.85M217.4 198.6h0.85M214.2 192.6h0.85M206.7 200.4h0.85M242.9 163.8h0.85M231.9 179.8h0.85M211.0 195.2h0.85M225.9 176.3h0.85M213.4 196.1h0.85M244.0 184.2h0.85M213.6 191.4h0.85M223.9 186.8h0.85M216.2 190.7h0.85M206.2 199.9h0.85M219.3 190.6h0.85M216.2 195.9h0.85M210.8 202.9h0.85M246.1 164.9h0.85M235.5 173.7h0.85M232.2 180.4h0.85M217.5 190.8h0.85M244.0 159.0h0.85M207.4 199.7h0.85M219.8 185.0h0.85M211.5 194.0h0.85M249.5 172.3h0.85M210.2 197.9h0.85M220.7 193.4h0.85M225.5 189.0h0.85M246.8 166.6h0.85M221.8 186.0h0.85M253.7 160.1h0.85M216.4 195.6h0.85M248.2 163.3h0.85M215.3 201.5h0.85M225.4 186.6h0.85M217.0 196.3h0.85M250.6 164.9h0.85M234.3 173.2h0.85M207.7 202.5h0.85M227.2 181.8h0.85M227.8 187.9h0.85M220.0 187.3h0.85M234.4 171.4h0.85M226.8 187.3h0.85M235.0 180.4h0.85M216.9 194.1h0.85M227.7 181.5h0.85M229.3 180.2h0.85M251.5 162.1h0.85M209.0 201.0h0.85M209.4 200.5h0.85M219.9 188.6h0.85M234.7 181.7h0.85M242.5 175.0h0.85M210.5 198.7h0.85M216.1 193.5h0.85M212.2 199.0h0.85M220.7 189.3h0.85M214.9 193.0h0.85M230.0 175.8h0.85M225.6 184.8h0.85M223.1 184.7h0.85M232.3 177.8h0.85M211.8 198.2h0.85M236.9 182.7h0.85M240.1 172.6h0.85M222.3 198.1h0.85M206.7 200.9h0.85M235.0 168.0h0.85M224.3 184.6h0.85M248.0 174.1h0.85M208.9 197.4h0.85M232.3 175.7h0.85M232.8 169.8h0.85M230.9 182.7h0.85M209.5 201.6h0.85M244.7 169.2h0.85M227.7 183.9h0.85M227.3 177.6h0.85M206.2 202.3h0.85M233.4 178.7h0.85M233.9 178.7h0.85M211.4 193.2h0.85M206.6 198.6h0.85M223.7 180.0h0.85M228.8 183.6h0.85M236.0 178.0h0.85M231.2 183.6h0.85M220.6 185.1h0.85M240.5 172.5h0.85M229.5 181.8h0.85M255.6 168.3h0.85M240.8 177.0h0.85M214.8 198.4h0.85M241.8 171.9h0.85M234.4 168.4h0.85M219.2 192.4h0.85M238.2 172.6h0.85M237.4 170.7h0.85M212.5 198.8h0.85M246.4 163.2h0.85M214.6 192.4h0.85M223.3 186.9h0.85M228.7 182.6h0.85M222.1 189.6h0.85M233.8 174.9h0.85M235.4 174.3h0.85M227.9 175.8h0.85M223.1 187.1h0.85M235.2 182.0h0.85M217.2 195.5h0.85M211.2 197.4h0.85M211.6 194.6h0.85M226.6 190.0h0.85M219.4 193.0h0.85M218.2 193.1h0.85M261.0 157.2h0.85M248.6 166.3h0.85M229.4 172.7h0.85M244.5 174.8h0.85M224.6 184.8h0.85M254.2 167.6h0.85M244.7 177.3h0.85M235.3 176.1h0.85M228.5 176.6h0.85M213.5 198.6h0.85M237.5 175.4h0.85M242.2 161.5h0.85M228.9 182.5h0.85M239.1 173.0h0.85M218.0 191.5h0.85M213.6 193.2h0.85M213.7 197.9h0.85M226.8 183.9h0.85M207.5 197.4h0.85M207.6 194.8h0.85M242.2 175.5h0.85M244.1 175.5h0.85M238.0 169.3h0.85M249.3 165.4h0.85M208.2 198.8h0.85M241.4 183.0h0.85M243.6 172.7h0.85M213.1 198.4h0.85M261.4 163.0h0.85M218.9 191.6h0.85M216.3 197.4h0.85M230.3 188.3h0.85M224.6 194.9h0.85M219.2 190.8h0.85M232.1 182.6h0.85M208.4 197.6h0.85M207.5 198.3h0.85M223.3 192.9h0.85M235.1 182.3h0.85M258.7 157.0h0.85M239.3 180.5h0.85M248.3 168.5h0.85M237.1 164.6h0.85M227.5 188.3h0.85M244.3 162.8h0.85M224.3 187.6h0.85M206.1 199.3h0.85M210.6 197.2h0.85M209.5 200.6h0.85M221.3 190.8h0.85M221.4 194.7h0.85M216.1 193.1h0.85M218.0 191.1h0.85M214.2 193.1h0.85M247.2 173.1h0.85M241.9 174.4h0.85M218.3 193.4h0.85M214.0 195.2h0.85M218.8 192.8h0.85M214.0 197.1h0.85M261.4 163.1h0.85M247.1 175.5h0.85M248.4 165.9h0.85M207.4 198.0h0.85M241.3 176.0h0.85M209.3 200.7h0.85M223.9 181.0h0.85M239.4 165.2h0.85M215.4 189.3h0.85M210.7 199.0h0.85M220.9 191.0h0.85M233.1 174.2h0.85M225.5 180.5h0.85M222.8 188.2h0.85M208.3 200.5h0.85M210.1 194.8h0.85M229.1 190.9h0.85M242.1 170.7h0.85M219.7 184.1h0.85M208.8 200.3h0.85M235.7 178.3h0.85M221.6 194.0h0.85M236.6 176.8h0.85M216.2 193.6h0.85M236.1 174.6h0.85M225.8 175.1h0.85M237.2 178.6h0.85M224.0 188.6h0.85M218.4 193.3h0.85M217.9 192.8h0.85M226.5 183.0h0.85M211.3 196.3h0.85M234.7 182.0h0.85M240.2 161.5h0.85M247.9 166.8h0.85M256.3 160.8h0.85M212.5 196.4h0.85M239.8 176.6h0.85M244.9 168.2h0.85M231.2 184.3h0.85M209.8 195.7h0.85M260.5 153.2h0.85M209.8 201.0h0.85M232.0 176.7h0.85M227.8 184.1h0.85M223.2 184.6h0.85M240.7 156.6h0.85M216.9 195.0h0.85M242.6 171.4h0.85M260.4 170.8h0.85M223.5 191.7h0.85M212.3 193.0h0.85M214.7 189.4h0.85M208.3 197.8h0.85M224.2 189.5h0.85M219.5 188.7h0.85M225.1 191.8h0.85M215.4 194.0h0.85M256.8 151.1h0.85M230.3 187.0h0.85M221.4 183.3h0.85M247.2 162.6h0.85M227.8 190.6h0.85M239.7 177.4h0.85M223.7 185.8h0.85M246.4 157.7h0.85M245.1 162.5h0.85M226.8 188.8h0.85M258.8 168.0h0.85M233.9 176.1h0.85M219.9 189.5h0.85M230.0 178.0h0.85M247.9 180.5h0.85M224.1 186.4h0.85M231.3 176.8h0.85M231.6 184.4h0.85M240.6 173.3h0.85M242.7 176.6h0.85M217.8 188.6h0.85M231.8 186.5h0.85M244.8 166.0h0.85M230.4 183.9h0.85M220.4 183.3h0.85M241.8 173.8h0.85M220.8 188.7h0.85M207.9 200.3h0.85M234.9 178.3h0.85M228.7 184.6h0.85M233.7 183.8h0.85M233.9 165.2h0.85M231.3 181.5h0.85M206.7 201.6h0.85M231.7 186.5h0.85M210.8 197.2h0.85M211.1 197.1h0.85M251.3 156.4h0.85M212.6 197.2h0.85M225.5 186.2h0.85M212.6 197.1h0.85M218.8 197.2h0.85M236.8 179.0h0.85M255.9 151.4h0.85M222.1 187.6h0.85M239.6 166.4h0.85M209.1 200.3h0.85M208.6 198.3h0.85M216.8 187.6h0.85M207.1 202.7h0.85M241.2 173.2h0.85M213.6 196.5h0.85M232.0 178.9h0.85M211.6 195.0h0.85M239.9 170.8h0.85M220.1 186.6h0.85M216.5 194.7h0.85M249.9 157.4h0.85M217.0 196.6h0.85M261.1 162.4h0.85M235.6 165.7h0.85M235.4 162.5h0.85M221.1 193.3h0.85M227.0 182.2h0.85M244.6 166.7h0.85M224.7 185.4h0.85M208.1 200.1h0.85M255.5 157.5h0.85M205.9 198.6h0.85M232.8 179.1h0.85M240.1 172.6h0.85M218.5 197.5h0.85M261.5 163.2h0.85M217.4 190.7h0.85M249.3 166.8h0.85M219.4 193.4h0.85M232.4 178.8h0.85M215.7 195.2h0.85M218.3 189.1h0.85M235.1 182.2h0.85M236.2 174.8h0.85M242.5 175.0h0.85M217.4 190.0h0.85M240.8 177.5h0.85M215.3 197.1h0.85M208.3 202.7h0.85M213.9 198.5h0.85M215.5 190.3h0.85M214.4 184.4h0.85M229.9 173.0h0.85M218.4 189.1h0.85M241.9 167.9h0.85M243.3 174.4h0.85M226.7 186.5h0.85M231.5 171.8h0.85M234.5 179.9h0.85M242.4 173.4h0.85M230.0 181.1h0.85M253.8 162.1h0.85M246.1 174.1h0.85M247.9 155.2h0.85M244.0 165.0h0.85M207.1 201.2h0.85M207.4 199.1h0.85M225.6 185.3h0.85M238.0 171.3h0.85M223.6 182.5h0.85M232.9 177.4h0.85M210.0 194.5h0.85M215.6 195.0h0.85M212.1 201.7h0.85M220.5 180.3h0.85M209.0 200.0h0.85M248.1 153.1h0.85M252.4 160.0h0.85M232.0 185.8h0.85M228.6 181.6h0.85M208.2 202.8h0.85M222.9 192.0h0.85M218.3 186.0h0.85M210.7 198.9h0.85M246.0 161.2h0.85M226.8 182.7h0.85M234.3 186.7h0.85M224.5 190.6h0.85M231.8 180.8h0.85M224.4 187.8h0.85M212.9 192.4h0.85M246.1 175.3h0.85M214.1 194.4h0.85M246.8 177.2h0.85M219.4 193.9h0.85M245.6 165.1h0.85M236.7 180.2h0.85M217.9 197.0h0.85M228.0 173.9h0.85M208.9 196.7h0.85M228.5 184.9h0.85M220.9 187.7h0.85M228.8 179.4h0.85M245.1 175.9h0.85M219.1 191.8h0.85M242.1 170.2h0.85M218.3 187.9h0.85M245.5 163.3h0.85M221.9 183.8h0.85M206.5 202.2h0.85M225.0 188.1h0.85M210.1 198.9h0.85M237.7 179.2h0.85M226.1 176.8h0.85M228.6 180.4h0.85M226.5 186.3h0.85M228.2 187.6h0.85M219.1 187.4h0.85M251.4 166.8h0.85M211.8 201.3h0.85M229.5 184.8h0.85M221.1 188.3h0.85M213.7 197.4h0.85M212.4 193.8h0.85M216.1 188.6h0.85M240.1 169.9h0.85M229.6 182.0h0.85M213.2 194.9h0.85M226.8 184.5h0.85M218.8 198.4h0.85M224.0 183.4h0.85M221.9 180.4h0.85M244.6 168.2h0.85M209.8 198.8h0.85M234.3 173.0h0.85M236.7 183.7h0.85M216.3 195.3h0.85M225.3 189.6h0.85M236.7 182.0h0.85M221.5 195.0h0.85M247.8 170.9h0.85M231.6 184.5h0.85M224.6 191.0h0.85M232.4 178.3h0.85M211.5 193.5h0.85M240.0 171.8h0.85M247.2 171.7h0.85M255.2 160.0h0.85M213.4 191.3h0.85M234.7 185.0h0.85M226.3 185.5h0.85M251.0 157.0h0.85M218.6 193.5h0.85M226.7 181.9h0.85M259.9 157.1h0.85M221.8 184.7h0.85M238.5 175.8h0.85M248.9 166.5h0.85M237.1 176.4h0.85M236.5 172.2h0.85M223.4 188.8h0.85M239.0 177.9h0.85M212.6 201.4h0.85M212.3 196.9h0.85M246.5 165.0h0.85M226.7 188.3h0.85M215.9 191.4h0.85M220.1 192.5h0.85M210.0 201.2h0.85M219.1 193.7h0.85M250.5 145.2h0.85M227.5 181.1h0.85M236.1 175.9h0.85M250.1 154.6h0.85M216.6 199.0h0.85M220.7 197.1h0.85M234.7 177.5h0.85M241.9 172.3h0.85M260.0 155.2h0.85M214.3 195.3h0.85M235.7 170.7h0.85M231.7 179.7h0.85M223.2 184.1h0.85M208.3 202.2h0.85M218.5 192.2h0.85M249.2 163.3h0.85M215.3 191.4h0.85M230.4 174.0h0.85M233.0 167.6h0.85M215.7 188.0h0.85M209.1 198.5h0.85M236.4 182.5h0.85M215.6 188.9h0.85M211.2 201.9h0.85M209.9 200.9h0.85M218.7 192.5h0.85M254.5 150.5h0.85M220.4 192.2h0.85M243.3 164.7h0.85M211.4 199.9h0.85M227.0 184.3h0.85M221.6 182.7h0.85M244.5 149.0h0.85M214.9 196.2h0.85M220.9 192.4h0.85M234.7 175.9h0.85M228.2 188.1h0.85M212.2 200.3h0.85M217.1 187.8h0.85M208.7 198.1h0.85M242.3 178.5h0.85M249.6 159.9h0.85M229.1 178.6h0.85M214.5 199.2h0.85M224.5 186.4h0.85M253.8 168.4h0.85M221.0 192.2h0.85M221.0 182.5h0.85M208.9 201.7h0.85M257.3 157.8h0.85M240.9 168.0h0.85M211.6 199.5h0.85M223.3 180.8h0.85M217.8 198.4h0.85M251.0 157.3h0.85M233.4 177.7h0.85M208.2 199.2h0.85M224.6 185.7h0.85M210.9 200.3h0.85M214.4 185.3h0.85M236.6 184.5h0.85M228.5 185.1h0.85M234.2 184.3h0.85M257.3 159.8h0.85M206.6 200.6h0.85M205.9 197.6h0.85M231.4 177.3h0.85M224.2 190.4h0.85M227.3 182.1h0.85M225.4 187.9h0.85M207.1 199.4h0.85M211.2 196.4h0.85M211.0 199.1h0.85M233.2 174.7h0.85M211.6 201.4h0.85M231.7 166.1h0.85M233.0 177.5h0.85M240.3 159.7h0.85M248.2 166.8h0.85M207.9 198.6h0.85M245.6 168.3h0.85M213.7 189.8h0.85M235.1 179.8h0.85M211.5 193.4h0.85M225.1 182.6h0.85M245.7 160.5h0.85M231.6 178.7h0.85M215.6 195.4h0.85M214.2 199.8h0.85M209.5 202.1h0.85M218.9 189.3h0.85M214.9 195.9h0.85M239.6 161.8h0.85M246.4 164.7h0.85M209.1 202.8h0.85M258.9 156.2h0.85M249.3 171.1h0.85M217.2 194.9h0.85M218.7 194.4h0.85M212.4 196.3h0.85M234.1 179.3h0.85M220.7 194.0h0.85M242.6 169.0h0.85M234.1 177.2h0.85M210.6 197.0h0.85M226.7 185.9h0.85M229.7 183.5h0.85M216.0 191.1h0.85M244.9 169.8h0.85M238.1 173.7h0.85M209.2 196.8h0.85M208.1 191.7h0.85M249.2 157.5h0.85M223.0 190.9h0.85M212.6 195.3h0.85M214.8 195.8h0.85M261.4 161.8h0.85M230.1 178.1h0.85M222.2 192.0h0.85M223.5 190.5h0.85M252.8 171.1h0.85M242.1 168.5h0.85M243.3 162.2h0.85M219.8 194.3h0.85M215.2 193.8h0.85M213.3 193.5h0.85M222.0 193.1h0.85M225.4 181.7h0.85M229.2 178.7h0.85M231.9 178.4h0.85M248.8 174.4h0.85M241.7 179.4h0.85M218.3 188.3h0.85M228.4 190.4h0.85M215.3 199.0h0.85M216.7 191.6h0.85M207.0 202.9h0.85M219.3 194.5h0.85M207.2 200.9h0.85M213.5 195.0h0.85M249.6 166.9h0.85M207.6 201.4h0.85M243.5 163.0h0.85M220.6 189.2h0.85M236.7 175.3h0.85M231.8 172.7h0.85M255.6 153.9h0.85M226.6 183.2h0.85M216.6 189.9h0.85M243.4 174.3h0.85M233.4 175.6h0.85M218.6 188.0h0.85M216.3 191.9h0.85M236.1 172.8h0.85M227.9 179.6h0.85M209.0 198.2h0.85M226.0 186.2h0.85M237.5 177.3h0.85M220.3 189.1h0.85M206.8 200.8h0.85M209.7 200.8h0.85M237.7 179.7h0.85M261.8 153.2h0.85M226.6 182.2h0.85M211.8 200.3h0.85M236.4 178.6h0.85M230.4 183.9h0.85M212.2 202.2h0.85M206.4 198.9h0.85M226.4 183.5h0.85M224.3 183.5h0.85M236.2 180.9h0.85M206.3 201.6h0.85M233.3 177.8h0.85M216.6 192.6h0.85M250.7 164.9h0.85M242.0 177.7h0.85M215.9 192.8h0.85M225.8 187.2h0.85M251.0 163.2h0.85M227.1 175.0h0.85M221.7 191.8h0.85M216.7 190.6h0.85M255.6 155.5h0.85M233.5 185.2h0.85M239.4 160.9h0.85M217.5 184.1h0.85M208.2 197.3h0.85M227.4 178.1h0.85M243.7 176.5h0.85M224.0 186.9h0.85M211.0 200.5h0.85M232.5 181.0h0.85M238.8 175.5h0.85M256.8 156.6h0.85M236.9 166.7h0.85M231.8 180.3h0.85M229.6 184.2h0.85M231.1 183.7h0.85M218.3 180.5h0.85M226.0 192.9h0.85M233.5 163.0h0.85M236.6 169.2h0.85M222.6 186.6h0.85M210.4 198.3h0.85M222.0 187.3h0.85M225.8 191.8h0.85M236.2 173.3h0.85M210.3 199.5h0.85M238.7 181.8h0.85M222.7 192.4h0.85M224.7 185.4h0.85M251.8 164.4h0.85M258.7 160.2h0.85M222.2 189.8h0.85M215.8 196.7h0.85M248.9 155.1h0.85M228.3 184.8h0.85M224.5 191.2h0.85"/>
<path stroke="#f040f0" stroke-width="0.9" fill="none" d="M206.7 206.8h0.9M206.7 204.8h0.9M209.8 205.1h0.9M206.2 206.8h0.9M209.0 206.3h0.9M209.8 207.2h0.9M208.2 207.2h0.9M209.4 205.6h0.9M209.6 204.3h0.9M207.5 206.3h0.9M208.3 204.2h0.9M208.0 206.4h0.9"/>
<path d="M87.6 23.5V126.8M34.5 87.5H141.5" stroke="#777" stroke-width="1.1" fill="none"/>
<rect x="34.5" y="23.5" width="107.0" height="103.3" fill="none" stroke="#6a6a6a" stroke-width="1"/>
<path d="M208.6 23.5V127M155 87.8H261" stroke="#777" stroke-width="1.1" fill="none"/>
<rect x="155" y="23.5" width="106" height="103.5" fill="none" stroke="#6a6a6a" stroke-width="1"/>
<path d="M85 141V244.5M34.5 203.3H142" stroke="#777" stroke-width="1.1" fill="none"/>
<rect x="34.5" y="141" width="107.5" height="103.5" fill="none" stroke="#6a6a6a" stroke-width="1"/>
<path d="M205.1 141V244.5M154.7 203.3H262.3" stroke="#777" stroke-width="1.1" fill="none"/>
<rect x="154.7" y="141" width="107.60000000000002" height="103.5" fill="none" stroke="#6a6a6a" stroke-width="1"/>
<path d="M32.3 122.3H34.5M33.0 115.3H34.5M33.0 108.2H34.5M33.0 101.2H34.5M33.0 94.1H34.5M32.3 87.1H34.5M33.0 80.1H34.5M33.0 73.0H34.5M33.0 66.0H34.5M33.0 58.9H34.5M32.3 51.9H34.5M33.0 44.9H34.5M33.0 37.8H34.5M33.0 30.8H34.5" stroke="#444" stroke-width="0.8"/>
<path d="M36.0 126.8v2.2M43.3 126.8v1.5M50.6 126.8v1.5M57.9 126.8v1.5M65.2 126.8v1.5M72.5 126.8v2.2M79.8 126.8v1.5M87.1 126.8v1.5M94.4 126.8v1.5M101.7 126.8v1.5M109.0 126.8v2.2M116.3 126.8v1.5M123.6 126.8v1.5M130.9 126.8v1.5M138.2 126.8v1.5" stroke="#444" stroke-width="0.8"/>
<path d="M152.8 122.5H155M153.5 115.5H155M153.5 108.4H155M153.5 101.4H155M153.5 94.3H155M152.8 87.3H155M153.5 80.3H155M153.5 73.2H155M153.5 66.2H155M153.5 59.1H155M152.8 52.1H155M153.5 45.1H155M153.5 38.0H155M153.5 31.0H155" stroke="#444" stroke-width="0.8"/>
<path d="M156.5 127v2.2M163.8 127v1.5M171.1 127v1.5M178.4 127v1.5M185.7 127v1.5M193.0 127v2.2M200.3 127v1.5M207.6 127v1.5M214.9 127v1.5M222.2 127v1.5M229.5 127v2.2M236.8 127v1.5M244.1 127v1.5M251.4 127v1.5M258.7 127v1.5" stroke="#444" stroke-width="0.8"/>
<path d="M32.3 240.0H34.5M33.0 230.7H34.5M33.0 221.4H34.5M33.0 212.1H34.5M33.0 202.8H34.5M32.3 193.5H34.5M33.0 184.2H34.5M33.0 174.9H34.5M33.0 165.6H34.5M33.0 156.3H34.5M32.3 147.0H34.5" stroke="#444" stroke-width="0.8"/>
<path d="M34.5 244.5v2.2M44.5 244.5v1.5M54.5 244.5v1.5M64.5 244.5v1.5M74.5 244.5v1.5M84.5 244.5v2.2M94.5 244.5v1.5M104.5 244.5v1.5M114.5 244.5v1.5M124.5 244.5v1.5M134.5 244.5v2.2" stroke="#444" stroke-width="0.8"/>
<path d="M152.5 240.0H154.7M153.2 230.7H154.7M153.2 221.4H154.7M153.2 212.1H154.7M153.2 202.8H154.7M152.5 193.5H154.7M153.2 184.2H154.7M153.2 174.9H154.7M153.2 165.6H154.7M153.2 156.3H154.7M152.5 147.0H154.7" stroke="#444" stroke-width="0.8"/>
<path d="M154.7 244.5v2.2M164.7 244.5v1.5M174.7 244.5v1.5M184.7 244.5v1.5M194.7 244.5v1.5M204.7 244.5v2.2M214.7 244.5v1.5M224.7 244.5v1.5M234.7 244.5v1.5M244.7 244.5v1.5M254.7 244.5v2.2" stroke="#444" stroke-width="0.8"/>
<text x="61.36" y="20.80" font-size="5.00" fill="#222" font-weight="normal" font-family="'Liberation Sans', Arial, sans-serif" textLength="40.68" lengthAdjust="spacingAndGlyphs" stroke="#222" stroke-width="0.1">PA-AVO-0-1 : P1</text>
<text x="182.27" y="20.90" font-size="4.86" fill="#222" font-weight="normal" font-family="'Liberation Sans', Arial, sans-serif" textLength="40.28" lengthAdjust="spacingAndGlyphs" stroke="#222" stroke-width="0.1">PA-AVO-5-1 : P1</text>
<text x="72.48" y="138.30" font-size="5.00" fill="#222" font-weight="normal" font-family="'Liberation Sans', Arial, sans-serif" textLength="20.88" lengthAdjust="spacingAndGlyphs" stroke="#222" stroke-width="0.1">0_3 : P1</text>
<text x="192.78" y="138.30" font-size="5.22" fill="#222" font-weight="normal" font-family="'Liberation Sans', Arial, sans-serif" textLength="20.47" lengthAdjust="spacingAndGlyphs" stroke="#222" stroke-width="0.1">5_1 : P1</text>
<text x="35.75" y="29.80" font-size="4.97" fill="#cc4f8a" font-weight="normal" font-family="'Liberation Sans', Arial, sans-serif" textLength="35.79" lengthAdjust="spacingAndGlyphs" stroke="#cc4f8a" stroke-width="0.12">Q1-UL(2.71%)</text>
<text x="104.66" y="29.80" font-size="4.97" fill="#f5a540" font-weight="normal" font-family="'Liberation Sans', Arial, sans-serif" textLength="35.78" lengthAdjust="spacingAndGlyphs" stroke="#f5a540" stroke-width="0.12">Q1-UR(4.09%)</text>
<text x="35.54" y="124.30" font-size="5.24" fill="#7cb84a" font-weight="normal" font-family="'Liberation Sans', Arial, sans-serif" textLength="38.76" lengthAdjust="spacingAndGlyphs" stroke="#7cb84a" stroke-width="0.12">Q1-LL(88.25%)</text>
<text x="104.65" y="124.30" font-size="5.24" fill="#f4899a" font-weight="normal" font-family="'Liberation Sans', Arial, sans-serif" textLength="35.79" lengthAdjust="spacingAndGlyphs" stroke="#f4899a" stroke-width="0.12">Q1-LR(4.95%)</text>
<text x="156.25" y="29.80" font-size="4.97" fill="#cc4f8a" font-weight="normal" font-family="'Liberation Sans', Arial, sans-serif" textLength="35.79" lengthAdjust="spacingAndGlyphs" stroke="#cc4f8a" stroke-width="0.12">Q1-UL(5.55%)</text>
<text x="221.21" y="29.80" font-size="4.97" fill="#f5a540" font-weight="normal" font-family="'Liberation Sans', Arial, sans-serif" textLength="38.74" lengthAdjust="spacingAndGlyphs" stroke="#f5a540" stroke-width="0.12">Q1-UR(21.00%)</text>
<text x="156.04" y="124.50" font-size="5.24" fill="#7cb84a" font-weight="normal" font-family="'Liberation Sans', Arial, sans-serif" textLength="38.76" lengthAdjust="spacingAndGlyphs" stroke="#7cb84a" stroke-width="0.12">Q1-LL(61.55%)</text>
<text x="221.20" y="124.50" font-size="5.24" fill="#f4899a" font-weight="normal" font-family="'Liberation Sans', Arial, sans-serif" textLength="38.76" lengthAdjust="spacingAndGlyphs" stroke="#f4899a" stroke-width="0.12">Q1-LR(11.90%)</text>
<text x="35.75" y="147.30" font-size="4.97" fill="#f03232" font-weight="normal" font-family="'Liberation Sans', Arial, sans-serif" textLength="35.79" lengthAdjust="spacingAndGlyphs" stroke="#f03232" stroke-width="0.12">Q2-UL(3.78%)</text>
<text x="105.16" y="147.30" font-size="4.97" fill="#22d844" font-weight="normal" font-family="'Liberation Sans', Arial, sans-serif" textLength="35.78" lengthAdjust="spacingAndGlyphs" stroke="#22d844" stroke-width="0.12">Q2-UR(3.10%)</text>
<text x="35.54" y="242.00" font-size="5.24" fill="#3434ee" font-weight="normal" font-family="'Liberation Sans', Arial, sans-serif" textLength="38.76" lengthAdjust="spacingAndGlyphs" stroke="#3434ee" stroke-width="0.12">Q2-LL(92.87%)</text>
<text x="105.15" y="242.00" font-size="5.24" fill="#e040e0" font-weight="normal" font-family="'Liberation Sans', Arial, sans-serif" textLength="35.79" lengthAdjust="spacingAndGlyphs" stroke="#e040e0" stroke-width="0.12">Q2-LR(0.26%)</text>
<text x="155.95" y="147.30" font-size="4.97" fill="#f03232" font-weight="normal" font-family="'Liberation Sans', Arial, sans-serif" textLength="35.79" lengthAdjust="spacingAndGlyphs" stroke="#f03232" stroke-width="0.12">Q2-UL(4.57%)</text>
<text x="222.51" y="147.30" font-size="4.97" fill="#22d844" font-weight="normal" font-family="'Liberation Sans', Arial, sans-serif" textLength="38.74" lengthAdjust="spacingAndGlyphs" stroke="#22d844" stroke-width="0.12">Q2-UR(22.17%)</text>
<text x="155.74" y="242.00" font-size="5.24" fill="#3434ee" font-weight="normal" font-family="'Liberation Sans', Arial, sans-serif" textLength="38.76" lengthAdjust="spacingAndGlyphs" stroke="#3434ee" stroke-width="0.12">Q2-LL(72.74%)</text>
<text x="225.45" y="242.00" font-size="5.24" fill="#e040e0" font-weight="normal" font-family="'Liberation Sans', Arial, sans-serif" textLength="35.79" lengthAdjust="spacingAndGlyphs" stroke="#e040e0" stroke-width="0.12">Q2-LR(0.51%)</text>
<text x="36.88" y="39.60" font-size="8.71" fill="#000" font-weight="bold" font-family="'Liberation Sans', Arial, sans-serif" textLength="23.64" lengthAdjust="spacingAndGlyphs" stroke="#000" stroke-width="0.15">0 µM</text>
<text x="158.19" y="39.80" font-size="8.84" fill="#000" font-weight="bold" font-family="'Liberation Sans', Arial, sans-serif" textLength="23.53" lengthAdjust="spacingAndGlyphs" stroke="#000" stroke-width="0.15">5 µM</text>
<text x="34.26" y="157.60" font-size="8.71" fill="#000" font-weight="bold" font-family="'Liberation Sans', Arial, sans-serif" textLength="24.48" lengthAdjust="spacingAndGlyphs" stroke="#000" stroke-width="0.15">0 µM</text>
<text x="158.19" y="157.60" font-size="8.84" fill="#000" font-weight="bold" font-family="'Liberation Sans', Arial, sans-serif" textLength="23.53" lengthAdjust="spacingAndGlyphs" stroke="#000" stroke-width="0.15">5 µM</text>
<text x="230.11" y="117.80" font-size="9.57" fill="#000" font-weight="bold" font-family="'Liberation Sans', Arial, sans-serif" textLength="20.11" lengthAdjust="spacingAndGlyphs" stroke="#000" stroke-width="0.15">PA-1</text>
<text x="222.34" y="233.90" font-size="10.00" fill="#000" font-weight="bold" font-family="'Liberation Sans', Arial, sans-serif" textLength="29.06" lengthAdjust="spacingAndGlyphs" stroke="#000" stroke-width="0.15">SKOV3</text>
<text transform="translate(29.5,49.6) rotate(-90)" font-size="5.2" fill="#333" text-anchor="middle" font-family="'Liberation Sans', Arial, sans-serif">400</text>
<text transform="translate(29.5,86.5) rotate(-90)" font-size="5.2" fill="#333" text-anchor="middle" font-family="'Liberation Sans', Arial, sans-serif">200</text>
<text transform="translate(29.5,122.4) rotate(-90)" font-size="5.2" fill="#333" text-anchor="middle" font-family="'Liberation Sans', Arial, sans-serif">0</text>
<text transform="translate(29.5,147.5) rotate(-90)" font-size="5.2" fill="#333" text-anchor="middle" font-family="'Liberation Sans', Arial, sans-serif">100</text>
<text transform="translate(29.5,194.5) rotate(-90)" font-size="5.2" fill="#333" text-anchor="middle" font-family="'Liberation Sans', Arial, sans-serif">50</text>
<text transform="translate(29.5,240.2) rotate(-90)" font-size="5.2" fill="#333" text-anchor="middle" font-family="'Liberation Sans', Arial, sans-serif">0</text>
<text x="34.5" y="253.5" font-size="5.6" fill="#333" font-weight="normal" text-anchor="middle" font-family="'Liberation Sans', Arial, sans-serif">0</text>
<text x="84.5" y="253.5" font-size="5.6" fill="#333" font-weight="normal" text-anchor="middle" font-family="'Liberation Sans', Arial, sans-serif">50</text>
<text x="134.5" y="253.5" font-size="5.6" fill="#333" font-weight="normal" text-anchor="middle" font-family="'Liberation Sans', Arial, sans-serif">100</text>
<text x="78.44" y="260.30" font-size="6.00" fill="#333" font-weight="normal" font-family="'Liberation Sans', Arial, sans-serif" textLength="18.73" lengthAdjust="spacingAndGlyphs" stroke="#333" stroke-width="0.1">FITC-H</text>
<text x="132.5" y="260.5" font-size="5.2" fill="#333" font-weight="normal" text-anchor="middle" font-family="'Liberation Sans', Arial, sans-serif">(x 10<tspan dy="-2" font-size="3.5">4</tspan><tspan dy="2">)</tspan></text>
<text x="154.7" y="253.5" font-size="5.6" fill="#333" font-weight="normal" text-anchor="middle" font-family="'Liberation Sans', Arial, sans-serif">0</text>
<text x="204.7" y="253.5" font-size="5.6" fill="#333" font-weight="normal" text-anchor="middle" font-family="'Liberation Sans', Arial, sans-serif">50</text>
<text x="254.7" y="253.5" font-size="5.6" fill="#333" font-weight="normal" text-anchor="middle" font-family="'Liberation Sans', Arial, sans-serif">100</text>
<text x="199.60" y="260.30" font-size="6.00" fill="#333" font-weight="normal" font-family="'Liberation Sans', Arial, sans-serif" textLength="18.73" lengthAdjust="spacingAndGlyphs" stroke="#333" stroke-width="0.1">FITC-H</text>
<text x="252.7" y="260.5" font-size="5.2" fill="#333" font-weight="normal" text-anchor="middle" font-family="'Liberation Sans', Arial, sans-serif">(x 10<tspan dy="-2" font-size="3.5">4</tspan><tspan dy="2">)</tspan></text>
<text x="36" y="132.6" font-size="2.6" fill="#666" text-anchor="middle" font-family="'Liberation Sans', Arial, sans-serif" stroke="#777" stroke-width="0.25">0</text>
<text x="74.8" y="132.6" font-size="2.6" fill="#666" text-anchor="middle" font-family="'Liberation Sans', Arial, sans-serif" stroke="#777" stroke-width="0.25">200</text>
<text x="111.3" y="132.6" font-size="2.6" fill="#666" text-anchor="middle" font-family="'Liberation Sans', Arial, sans-serif" stroke="#777" stroke-width="0.25">400</text>
<text x="156.6" y="132.6" font-size="2.6" fill="#666" text-anchor="middle" font-family="'Liberation Sans', Arial, sans-serif" stroke="#777" stroke-width="0.25">0</text>
<text x="195.39999999999998" y="132.6" font-size="2.6" fill="#666" text-anchor="middle" font-family="'Liberation Sans', Arial, sans-serif" stroke="#777" stroke-width="0.25">200</text>
<text x="231.89999999999998" y="132.6" font-size="2.6" fill="#666" text-anchor="middle" font-family="'Liberation Sans', Arial, sans-serif" stroke="#777" stroke-width="0.25">400</text>
<text transform="translate(149.4,44.5) rotate(-90)" font-size="2.6" fill="#666" text-anchor="middle" font-family="'Liberation Sans', Arial, sans-serif" stroke="#777" stroke-width="0.25">400</text>
<text transform="translate(149.4,82.5) rotate(-90)" font-size="2.6" fill="#666" text-anchor="middle" font-family="'Liberation Sans', Arial, sans-serif" stroke="#777" stroke-width="0.25">200</text>
<text transform="translate(149.4,122) rotate(-90)" font-size="2.6" fill="#666" text-anchor="middle" font-family="'Liberation Sans', Arial, sans-serif" stroke="#777" stroke-width="0.25">0</text>
<path d="M23.0 265.7V25" stroke="#fa8430" stroke-width="2.2" fill="none"/>
<path d="M19.8 29.4L23.0 24L26.2 29.4" stroke="#fa8430" stroke-width="1.7" fill="none" stroke-linejoin="miter"/>
<path d="M21.9 264.75H262" stroke="#1cf23a" stroke-width="2" fill="none"/>
<path d="M258 261.4L263 264.75L258 268.1" stroke="#1cf23a" stroke-width="1.7" fill="none"/>
<text transform="translate(16.3,135) rotate(-90)" font-size="8.6" fill="#fa8430" stroke="#fa8430" stroke-width="0.2" font-weight="bold" text-anchor="middle" font-family="'Liberation Sans', Arial, sans-serif" textLength="144" lengthAdjust="spacingAndGlyphs">Red Fluorescence-H (Acidic Vacuoles)</text>
<text x="133.79" y="273.50" font-size="8.71" fill="#1cf23a" font-weight="bold" font-family="'Liberation Sans', Arial, sans-serif" textLength="25.63" lengthAdjust="spacingAndGlyphs" stroke="#1cf23a" stroke-width="0.2">FITC-H</text>
<text x="292.83" y="18.90" font-size="19.13" fill="#000" font-weight="bold" font-family="'Liberation Sans', Arial, sans-serif" textLength="11.84" lengthAdjust="spacingAndGlyphs" stroke="#000" stroke-width="0.5">B</text>
<path d="M322.5 32.60000000000001V120.2H494" stroke="#000" stroke-width="1.15" fill="none"/>
<text x="315.35" y="122.30" font-size="6.00" fill="#000" font-weight="bold" font-family="'Liberation Sans', Arial, sans-serif" textLength="4.16" lengthAdjust="spacingAndGlyphs" stroke="#000" stroke-width="0.25">0</text>
<text x="311.68" y="107.70" font-size="6.00" fill="#000" font-weight="bold" font-family="'Liberation Sans', Arial, sans-serif" textLength="7.82" lengthAdjust="spacingAndGlyphs" stroke="#000" stroke-width="0.25">10</text>
<text x="311.86" y="93.10" font-size="6.00" fill="#000" font-weight="bold" font-family="'Liberation Sans', Arial, sans-serif" textLength="7.63" lengthAdjust="spacingAndGlyphs" stroke="#000" stroke-width="0.25">20</text>
<text x="311.93" y="78.50" font-size="6.00" fill="#000" font-weight="bold" font-family="'Liberation Sans', Arial, sans-serif" textLength="7.56" lengthAdjust="spacingAndGlyphs" stroke="#000" stroke-width="0.25">30</text>
<text x="312.00" y="63.90" font-size="6.00" fill="#000" font-weight="bold" font-family="'Liberation Sans', Arial, sans-serif" textLength="7.49" lengthAdjust="spacingAndGlyphs" stroke="#000" stroke-width="0.25">40</text>
<text x="311.90" y="49.30" font-size="6.00" fill="#000" font-weight="bold" font-family="'Liberation Sans', Arial, sans-serif" textLength="7.59" lengthAdjust="spacingAndGlyphs" stroke="#000" stroke-width="0.25">50</text>
<text x="311.86" y="34.70" font-size="6.00" fill="#000" font-weight="bold" font-family="'Liberation Sans', Arial, sans-serif" textLength="7.63" lengthAdjust="spacingAndGlyphs" stroke="#000" stroke-width="0.25">60</text>
<path d="M319.9 120.2H322.5M319.9 105.6H322.5M319.9 91.0H322.5M319.9 76.4H322.5M319.9 61.8H322.5M319.9 47.2H322.5M319.9 32.6H322.5M339.2 120.2v2.6M373.9 120.2v2.6M408.6 120.2v2.6M442.1 120.2v2.6M476.2 120.2v2.6" stroke="#000" stroke-width="0.9"/>
<path d="M339.2 113.046V112.5M333.4 112.5h11.6" stroke="#111" stroke-width="1.1"/>
<rect x="328.0" y="113.0" width="22.4" height="7.2" fill="#ff8a00" stroke="#000" stroke-width="1.6"/>
<text x="337.29" y="128.50" font-size="6.14" fill="#000" font-weight="bold" font-family="'Liberation Sans', Arial, sans-serif" textLength="3.83" lengthAdjust="spacingAndGlyphs" stroke="#000" stroke-width="0.25">0</text>
<path d="M373.9 110.418V107.6M368.09999999999997 107.6h11.6" stroke="#111" stroke-width="1.1"/>
<rect x="362.7" y="110.4" width="22.4" height="9.8" fill="#ff8a00" stroke="#000" stroke-width="1.6"/>
<text x="369.07" y="128.50" font-size="6.14" fill="#000" font-weight="bold" font-family="'Liberation Sans', Arial, sans-serif" textLength="9.56" lengthAdjust="spacingAndGlyphs" stroke="#000" stroke-width="0.25">0.1</text>
<path d="M408.6 109.688V107.4M402.8 107.4h11.6" stroke="#111" stroke-width="1.1"/>
<rect x="397.40000000000003" y="109.7" width="22.4" height="10.5" fill="#ff8a00" stroke="#000" stroke-width="1.6"/>
<text x="406.57" y="128.50" font-size="6.14" fill="#000" font-weight="bold" font-family="'Liberation Sans', Arial, sans-serif" textLength="3.83" lengthAdjust="spacingAndGlyphs" stroke="#000" stroke-width="0.25">1</text>
<path d="M442.1 99.176V94.9M436.3 94.9h11.6" stroke="#111" stroke-width="1.1"/>
<rect x="430.90000000000003" y="99.2" width="22.4" height="21.0" fill="#ff8a00" stroke="#000" stroke-width="1.6"/>
<text x="440.38" y="95.49" font-size="8.8" font-weight="bold" font-family="'Liberation Sans', Arial, sans-serif" stroke="#000" stroke-width="0.3">*</text>
<text x="437.28" y="128.50" font-size="6.14" fill="#000" font-weight="bold" font-family="'Liberation Sans', Arial, sans-serif" textLength="9.56" lengthAdjust="spacingAndGlyphs" stroke="#000" stroke-width="0.25">2.5</text>
<path d="M476.2 59.318V46.8M470.4 46.8h11.6" stroke="#111" stroke-width="1.1"/>
<rect x="465.0" y="59.3" width="22.4" height="60.9" fill="#ff8a00" stroke="#000" stroke-width="1.6"/>
<text x="474.48" y="47.31" font-size="8.8" font-weight="bold" font-family="'Liberation Sans', Arial, sans-serif" stroke="#000" stroke-width="0.3">*</text>
<text x="474.27" y="128.50" font-size="6.14" fill="#000" font-weight="bold" font-family="'Liberation Sans', Arial, sans-serif" textLength="3.83" lengthAdjust="spacingAndGlyphs" stroke="#000" stroke-width="0.25">5</text>
<text x="307.93" y="128.50" font-size="6.43" fill="#000" font-weight="bold" font-family="'Liberation Sans', Arial, sans-serif" textLength="15.24" lengthAdjust="spacingAndGlyphs" stroke="#000" stroke-width="0.25">(µM)</text>
<text transform="translate(307.6,75.4) rotate(-90)" font-size="6.7" font-weight="bold" text-anchor="middle" font-family="'Liberation Sans', Arial, sans-serif" textLength="69.2" lengthAdjust="spacingAndGlyphs" stroke="#000" stroke-width="0.2">% AVO Postive Cells</text>
<text x="323.31" y="39.70" font-size="8.99" fill="#000" font-weight="bold" font-family="'Liberation Sans', Arial, sans-serif" textLength="19.91" lengthAdjust="spacingAndGlyphs" stroke="#000" stroke-width="0.25">PA-1</text>
<path d="M321 151.39999999999998V237.1H492.7" stroke="#000" stroke-width="1.15" fill="none"/>
<text x="313.85" y="239.20" font-size="6.00" fill="#000" font-weight="bold" font-family="'Liberation Sans', Arial, sans-serif" textLength="4.16" lengthAdjust="spacingAndGlyphs" stroke="#000" stroke-width="0.25">0</text>
<text x="310.18" y="222.06" font-size="6.00" fill="#000" font-weight="bold" font-family="'Liberation Sans', Arial, sans-serif" textLength="7.82" lengthAdjust="spacingAndGlyphs" stroke="#000" stroke-width="0.25">10</text>
<text x="310.36" y="204.92" font-size="6.00" fill="#000" font-weight="bold" font-family="'Liberation Sans', Arial, sans-serif" textLength="7.63" lengthAdjust="spacingAndGlyphs" stroke="#000" stroke-width="0.25">20</text>
<text x="310.43" y="187.78" font-size="6.00" fill="#000" font-weight="bold" font-family="'Liberation Sans', Arial, sans-serif" textLength="7.56" lengthAdjust="spacingAndGlyphs" stroke="#000" stroke-width="0.25">30</text>
<text x="310.50" y="170.64" font-size="6.00" fill="#000" font-weight="bold" font-family="'Liberation Sans', Arial, sans-serif" textLength="7.49" lengthAdjust="spacingAndGlyphs" stroke="#000" stroke-width="0.25">40</text>
<text x="310.40" y="153.50" font-size="6.00" fill="#000" font-weight="bold" font-family="'Liberation Sans', Arial, sans-serif" textLength="7.59" lengthAdjust="spacingAndGlyphs" stroke="#000" stroke-width="0.25">50</text>
<path d="M318.4 237.1H321M318.4 220.0H321M318.4 202.8H321M318.4 185.7H321M318.4 168.5H321M318.4 151.4H321M338.2 237.1v2.6M372.8 237.1v2.6M407.5 237.1v2.6M441 237.1v2.6M475 237.1v2.6" stroke="#000" stroke-width="0.9"/>
<path d="M338.2 226.6446V225.1M332.4 225.1h11.6" stroke="#111" stroke-width="1.1"/>
<rect x="327.0" y="226.6" width="22.4" height="10.5" fill="#dc7304" stroke="#000" stroke-width="1.6"/>
<rect x="327.8" y="227.4" width="20.8" height="9.7" fill="url(#hatch)"/>
<text x="336.38" y="246.40" font-size="5.86" fill="#000" font-weight="bold" font-family="'Liberation Sans', Arial, sans-serif" textLength="3.65" lengthAdjust="spacingAndGlyphs" stroke="#000" stroke-width="0.25">0</text>
<rect x="361.6" y="224.4" width="22.4" height="12.7" fill="#dc7304" stroke="#000" stroke-width="1.6"/>
<rect x="362.40000000000003" y="225.2" width="20.8" height="11.9" fill="url(#hatch)"/>
<text x="368.19" y="246.40" font-size="5.86" fill="#000" font-weight="bold" font-family="'Liberation Sans', Arial, sans-serif" textLength="9.12" lengthAdjust="spacingAndGlyphs" stroke="#000" stroke-width="0.25">0.1</text>
<path d="M407.5 223.388V220.8M401.7 220.8h11.6" stroke="#111" stroke-width="1.1"/>
<rect x="396.3" y="223.4" width="22.4" height="13.7" fill="#dc7304" stroke="#000" stroke-width="1.6"/>
<rect x="397.1" y="224.2" width="20.8" height="12.9" fill="url(#hatch)"/>
<text x="405.56" y="246.40" font-size="5.86" fill="#000" font-weight="bold" font-family="'Liberation Sans', Arial, sans-serif" textLength="3.65" lengthAdjust="spacingAndGlyphs" stroke="#000" stroke-width="0.25">1</text>
<path d="M441 216.7034V213.6M435.2 213.6h11.6" stroke="#111" stroke-width="1.1"/>
<rect x="429.8" y="216.7" width="22.4" height="20.4" fill="#dc7304" stroke="#000" stroke-width="1.6"/>
<rect x="430.6" y="217.5" width="20.8" height="19.6" fill="url(#hatch)"/>
<text x="439.28" y="214.16" font-size="8.8" font-weight="bold" font-family="'Liberation Sans', Arial, sans-serif" stroke="#000" stroke-width="0.3">*</text>
<text x="436.41" y="246.40" font-size="5.86" fill="#000" font-weight="bold" font-family="'Liberation Sans', Arial, sans-serif" textLength="9.12" lengthAdjust="spacingAndGlyphs" stroke="#000" stroke-width="0.25">2.5</text>
<path d="M475 167.1688V157.2M469.2 157.2h11.6" stroke="#111" stroke-width="1.1"/>
<rect x="463.8" y="167.2" width="22.4" height="69.9" fill="#dc7304" stroke="#000" stroke-width="1.6"/>
<rect x="464.6" y="168.0" width="20.8" height="69.1" fill="url(#hatch)"/>
<text x="471.57" y="157.77" font-size="8.8" font-weight="bold" font-family="'Liberation Sans', Arial, sans-serif" stroke="#000" stroke-width="0.3">**</text>
<text x="473.16" y="246.40" font-size="5.86" fill="#000" font-weight="bold" font-family="'Liberation Sans', Arial, sans-serif" textLength="3.65" lengthAdjust="spacingAndGlyphs" stroke="#000" stroke-width="0.25">5</text>
<text x="306.43" y="246.40" font-size="6.14" fill="#000" font-weight="bold" font-family="'Liberation Sans', Arial, sans-serif" textLength="15.24" lengthAdjust="spacingAndGlyphs" stroke="#000" stroke-width="0.25">(µM)</text>
<text transform="translate(307.6,193.8) rotate(-90)" font-size="6.7" font-weight="bold" text-anchor="middle" font-family="'Liberation Sans', Arial, sans-serif" textLength="68.2" lengthAdjust="spacingAndGlyphs" stroke="#000" stroke-width="0.2">% AVO Postive Cells</text>
<text x="323.24" y="158.20" font-size="9.14" fill="#000" font-weight="bold" font-family="'Liberation Sans', Arial, sans-serif" textLength="29.57" lengthAdjust="spacingAndGlyphs" stroke="#000" stroke-width="0.25">SKOV3</text>
<text x="23.99" y="291.10" font-size="17.57" fill="#000" font-weight="bold" font-family="'Liberation Sans', Arial, sans-serif" textLength="11.03" lengthAdjust="spacingAndGlyphs" stroke="#000" stroke-width="0.5">C</text>
<rect x="92" y="324.2" width="198.5" height="44.30000000000001" fill="#c0c0c0"/>
<g clip-path="url(#c92_324)">
<rect x="128" y="320" width="7" height="52" fill="#d2d2d2" filter="url(#bl25)"/><rect x="167" y="320" width="7" height="52" fill="#d2d2d2" filter="url(#bl25)"/><rect x="205.5" y="320" width="7" height="52" fill="#d2d2d2" filter="url(#bl25)"/><rect x="244" y="320" width="7" height="52" fill="#d2d2d2" filter="url(#bl25)"/>
<rect x="92" y="324" width="199" height="45" filter="url(#nz1)"/>
<rect x="96.5" y="342.1" width="31.0" height="9.0" rx="4.5" fill="#383838" opacity="1" filter="url(#bl20)"/>
<rect x="135.5" y="342.6" width="31.0" height="8.5" rx="4.2" fill="#424242" opacity="1" filter="url(#bl20)"/>
<rect x="174.5" y="341.6" width="31.0" height="9.5" rx="4.8" fill="#1a1a1a" opacity="1" filter="url(#bl18)"/>
<rect x="213.0" y="341.2" width="31.0" height="9.5" rx="4.8" fill="#1c1c1c" opacity="1" filter="url(#bl18)"/>
<rect x="249.5" y="337.4" width="32.0" height="16.5" rx="8.2" fill="#060606" opacity="1" filter="url(#bl18)"/>
<rect x="274.0" y="345.5" width="9.0" height="8.0" rx="4.0" fill="#000" opacity="1" filter="url(#bl12)"/>
<rect x="214.5" y="331.5" width="28.0" height="4.0" rx="2.0" fill="#a8a8a8" opacity="1" filter="url(#bl16)"/>
<rect x="253.0" y="330.5" width="28.0" height="5.0" rx="2.5" fill="#9e9e9e" opacity="1" filter="url(#bl16)"/>
</g>
<rect x="92" y="324.2" width="198.5" height="44.30000000000001" fill="none" stroke="#2a2a2a" stroke-width="1.1"/>
<rect x="309.5" y="324.5" width="198.0" height="43.0" fill="#cfcfcf"/>
<g clip-path="url(#c309_324)">
<rect x="345" y="320" width="7" height="52" fill="#e0e0e0" filter="url(#bl25)"/><rect x="385" y="320" width="7" height="52" fill="#e0e0e0" filter="url(#bl25)"/><rect x="425" y="320" width="7" height="52" fill="#e0e0e0" filter="url(#bl25)"/><rect x="464" y="320" width="7" height="52" fill="#e0e0e0" filter="url(#bl25)"/>
<rect x="313.0" y="331.5" width="30.0" height="4.0" rx="2.0" fill="#b0b0b0" opacity="1" filter="url(#bl14)"/>
<rect x="353.5" y="331.5" width="30.0" height="4.0" rx="2.0" fill="#b2b2b2" opacity="1" filter="url(#bl14)"/>
<rect x="392.5" y="331.5" width="30.0" height="4.0" rx="2.0" fill="#b6b6b6" opacity="1" filter="url(#bl14)"/>
<rect x="433.0" y="331.5" width="30.0" height="4.0" rx="2.0" fill="#b4b4b4" opacity="1" filter="url(#bl14)"/>
<rect x="472.0" y="331.5" width="28.0" height="4.0" rx="2.0" fill="#aaaaaa" opacity="1" filter="url(#bl14)"/>
<rect x="313.0" y="353.1" width="30.0" height="3.5" rx="1.8" fill="#b4b4b4" opacity="1" filter="url(#bl14)"/>
<rect x="353.0" y="352.5" width="31.0" height="6.0" rx="3.0" fill="#8a8a8a" opacity="1" filter="url(#bl16)"/>
<rect x="392.0" y="352.4" width="31.0" height="6.0" rx="3.0" fill="#8a8a8a" opacity="1" filter="url(#bl16)"/>
<rect x="432.5" y="352.4" width="31.0" height="6.2" rx="3.1" fill="#888" opacity="1" filter="url(#bl16)"/>
<rect x="471.0" y="353.2" width="30.0" height="5.5" rx="2.8" fill="#9a9a9a" opacity="1" filter="url(#bl16)"/>
<rect x="354.0" y="353.9" width="29.0" height="3.2" rx="1.6" fill="#141414" opacity="1" filter="url(#bl11)"/>
<rect x="393.0" y="353.8" width="29.0" height="3.2" rx="1.6" fill="#141414" opacity="1" filter="url(#bl11)"/>
<rect x="433.5" y="353.8" width="29.0" height="3.4" rx="1.7" fill="#101010" opacity="1" filter="url(#bl11)"/>
<rect x="472.0" y="354.6" width="28.0" height="2.8" rx="1.4" fill="#3c3c3c" opacity="1" filter="url(#bl11)"/>
</g>
<rect x="309.5" y="324.5" width="198.0" height="43.0" fill="none" stroke="#2a2a2a" stroke-width="1.1"/>
<rect x="92" y="383.6" width="198.5" height="34.39999999999998" fill="#f3f3f3"/>
<g clip-path="url(#c92_383)">

<rect x="97.0" y="404.0" width="34.0" height="9.0" rx="4.5" fill="#e6e6e6" opacity="1" filter="url(#bl25)"/>
<rect x="138.0" y="404.0" width="32.0" height="9.0" rx="4.5" fill="#e8e8e8" opacity="1" filter="url(#bl25)"/>
<rect x="177.0" y="404.0" width="32.0" height="10.0" rx="5.0" fill="#d8d8d8" opacity="1" filter="url(#bl25)"/>
<rect x="214.0" y="404.5" width="32.0" height="10.0" rx="5.0" fill="#d0d0d0" opacity="1" filter="url(#bl25)"/>
<rect x="251.0" y="404.5" width="34.0" height="11.0" rx="5.5" fill="#cacaca" opacity="1" filter="url(#bl25)"/>
<rect x="96.8" y="387.9" width="35.0" height="11.0" rx="5.5" fill="#606060" opacity="1" filter="url(#bl20)"/>
<rect x="138.8" y="387.9" width="32.0" height="11.0" rx="5.5" fill="#646464" opacity="1" filter="url(#bl20)"/>
<rect x="177.0" y="388.1" width="33.0" height="11.5" rx="5.8" fill="#5a5a5a" opacity="1" filter="url(#bl20)"/>
<rect x="214.5" y="387.8" width="31.0" height="12.5" rx="6.2" fill="#484848" opacity="1" filter="url(#bl20)"/>
<rect x="251.0" y="386.8" width="34.0" height="14.0" rx="7.0" fill="#383838" opacity="1" filter="url(#bl20)"/>
<rect x="98.3" y="392.3" width="33.0" height="7.0" rx="3.5" fill="#0e0e0e" opacity="1" filter="url(#bl13)"/>
<rect x="140.0" y="392.4" width="30.0" height="6.8" rx="3.4" fill="#121212" opacity="1" filter="url(#bl13)"/>
<rect x="178.3" y="392.5" width="31.0" height="7.2" rx="3.6" fill="#0e0e0e" opacity="1" filter="url(#bl13)"/>
<rect x="215.2" y="392.4" width="30.0" height="7.8" rx="3.9" fill="#070707" opacity="1" filter="url(#bl13)"/>
<rect x="251.5" y="390.6" width="33.0" height="10.5" rx="5.2" fill="#030303" opacity="1" filter="url(#bl15)"/>
<rect x="98.0" y="388.5" width="10.0" height="6.0" rx="3.0" fill="#444" opacity="1" filter="url(#bl16)"/>
</g>
<rect x="92" y="383.6" width="198.5" height="34.39999999999998" fill="none" stroke="#2a2a2a" stroke-width="1.1"/>
<rect x="309.5" y="383.5" width="197.5" height="34.0" fill="#ebebeb"/>
<g clip-path="url(#c309_383)">

<rect x="344.5" y="383" width="5" height="35" fill="#eeeeee" filter="url(#bl25.0)"/><rect x="383.5" y="383" width="5" height="35" fill="#eeeeee" filter="url(#bl25.0)"/><rect x="422.5" y="383" width="5" height="35" fill="#eeeeee" filter="url(#bl25.0)"/><rect x="462.5" y="383" width="5" height="35" fill="#eeeeee" filter="url(#bl25.0)"/>
<path d="M313 395.1L347 393.55Q349 396.8 347 400.05L313 400.1Q311 397.6 313 395.1Z" fill="#777" filter="url(#bl16)"/>
<path d="M352 393.25L383 393.25Q385 396.5 383 399.75L352 399.75Q350 396.5 352 393.25Z" fill="#6a6a6a" filter="url(#bl16)"/>
<path d="M388.5 393.55L422 393.1Q424 396.6 422 400.1L388.5 400.05Q386.5 396.8 388.5 393.55Z" fill="#666" filter="url(#bl16)"/>
<path d="M427.5 393.3L461.5 392.55Q463.5 396.3 461.5 400.05L427.5 400.3Q425.5 396.8 427.5 393.3Z" fill="#606060" filter="url(#bl16)"/>
<path d="M465.5 393.85L503 391.05Q505 395.8 503 400.55L465.5 401.35Q463.5 397.6 465.5 393.85Z" fill="#505050" filter="url(#bl16)"/>
<path d="M314 396.1L346 394.7Q348 396.8 346 398.90000000000003L314 399.1Q312 397.6 314 396.1Z" fill="#0c0c0c" filter="url(#bl11)"/>
<path d="M353 394.4L382 394.4Q384 396.5 382 398.6L353 398.6Q351 396.5 353 394.4Z" fill="#0a0a0a" filter="url(#bl11)"/>
<path d="M389.5 394.7L421 394.3Q423 396.6 421 398.90000000000003L389.5 398.90000000000003Q387.5 396.8 389.5 394.7Z" fill="#080808" filter="url(#bl11)"/>
<path d="M428.5 394.5L460.5 393.8Q462.5 396.3 460.5 398.8L428.5 399.1Q426.5 396.8 428.5 394.5Z" fill="#060606" filter="url(#bl11)"/>
<path d="M466.5 395.1L502 392.3Q504 395.8 502 399.3L466.5 400.1Q464.5 397.6 466.5 395.1Z" fill="#030303" filter="url(#bl11)"/>
</g>
<rect x="309.5" y="383.5" width="197.5" height="34.0" fill="none" stroke="#2a2a2a" stroke-width="1.1"/>
<rect x="92" y="431.7" width="198.5" height="32.69999999999999" fill="#f0f0f0"/>
<g clip-path="url(#c92_431)">

<rect x="100.0" y="456.3" width="32.0" height="3.0" rx="1.5" fill="#d8d8d8" opacity="1" filter="url(#bl15)"/>
<rect x="139.0" y="456.3" width="32.0" height="3.0" rx="1.5" fill="#dadada" opacity="1" filter="url(#bl15)"/>
<rect x="178.0" y="456.3" width="32.0" height="3.0" rx="1.5" fill="#d6d6d6" opacity="1" filter="url(#bl15)"/>
<rect x="215.5" y="456.3" width="32.0" height="3.0" rx="1.5" fill="#d2d2d2" opacity="1" filter="url(#bl15)"/>
<rect x="253.0" y="456.1" width="32.0" height="4.5" rx="2.2" fill="#bcbcbc" opacity="1" filter="url(#bl16)"/>
<rect x="99.5" y="445.9" width="33.0" height="5.0" rx="2.5" fill="#8a8a8a" opacity="1" filter="url(#bl15)"/>
<rect x="139.0" y="446.3" width="32.0" height="4.6" rx="2.3" fill="#909090" opacity="1" filter="url(#bl15)"/>
<rect x="177.5" y="445.9" width="33.0" height="5.0" rx="2.5" fill="#8a8a8a" opacity="1" filter="url(#bl15)"/>
<rect x="215.0" y="445.6" width="33.0" height="5.2" rx="2.6" fill="#858585" opacity="1" filter="url(#bl15)"/>
<rect x="252.5" y="445.5" width="33.0" height="5.4" rx="2.7" fill="#808080" opacity="1" filter="url(#bl15)"/>
<rect x="100.0" y="447.0" width="32.0" height="2.8" rx="1.4" fill="#1e1e1e" opacity="1" filter="url(#bl10)"/>
<rect x="139.5" y="447.3" width="31.0" height="2.6" rx="1.3" fill="#262626" opacity="1" filter="url(#bl10)"/>
<rect x="178.0" y="446.9" width="32.0" height="2.9" rx="1.4" fill="#1e1e1e" opacity="1" filter="url(#bl10)"/>
<rect x="215.5" y="446.6" width="32.0" height="3.1" rx="1.6" fill="#1a1a1a" opacity="1" filter="url(#bl10)"/>
<rect x="253.0" y="446.6" width="32.0" height="3.2" rx="1.6" fill="#161616" opacity="1" filter="url(#bl10)"/>
</g>
<rect x="92" y="431.7" width="198.5" height="32.69999999999999" fill="none" stroke="#2a2a2a" stroke-width="1.1"/>
<rect x="309.5" y="431.7" width="197.5" height="33.10000000000002" fill="#ececec"/>
<g clip-path="url(#c309_431)">

<rect x="314.0" y="435.0" width="26.0" height="8.0" rx="4.0" fill="#d8d8d8" opacity="1" filter="url(#bl25)"/>
<rect x="310.8" y="445.7" width="35.0" height="5.6" rx="2.8" fill="#7a7a7a" opacity="1" filter="url(#bl15)"/>
<rect x="350.0" y="446.5" width="31.0" height="4.4" rx="2.2" fill="#8a8a8a" opacity="1" filter="url(#bl15)"/>
<rect x="387.3" y="446.4" width="33.0" height="4.6" rx="2.3" fill="#888" opacity="1" filter="url(#bl15)"/>
<rect x="426.0" y="445.7" width="32.0" height="5.6" rx="2.8" fill="#7a7a7a" opacity="1" filter="url(#bl15)"/>
<rect x="465.5" y="446.0" width="33.0" height="5.0" rx="2.5" fill="#808080" opacity="1" filter="url(#bl15)"/>
<rect x="311.3" y="446.8" width="34.0" height="3.4" rx="1.7" fill="#141414" opacity="1" filter="url(#bl10)"/>
<rect x="350.5" y="447.5" width="30.0" height="2.4" rx="1.2" fill="#2e2e2e" opacity="1" filter="url(#bl10)"/>
<rect x="387.8" y="447.4" width="32.0" height="2.6" rx="1.3" fill="#2a2a2a" opacity="1" filter="url(#bl10)"/>
<rect x="426.5" y="446.8" width="31.0" height="3.4" rx="1.7" fill="#141414" opacity="1" filter="url(#bl10)"/>
<rect x="466.0" y="447.1" width="32.0" height="2.9" rx="1.4" fill="#1c1c1c" opacity="1" filter="url(#bl10)"/>
</g>
<rect x="309.5" y="431.7" width="197.5" height="33.10000000000002" fill="none" stroke="#2a2a2a" stroke-width="1.1"/>
<rect x="92.8" y="481.7" width="196.2" height="33.30000000000001" fill="#d8d8d8"/>
<g clip-path="url(#c92_481)">

<rect x="99.0" y="496.1" width="32.0" height="4.5" rx="2.2" fill="#0c0c0c" opacity="1" filter="url(#bl10)"/>
<rect x="137.0" y="496.6" width="32.0" height="4.5" rx="2.2" fill="#101010" opacity="1" filter="url(#bl10)"/>
<rect x="174.5" y="495.9" width="32.0" height="4.5" rx="2.2" fill="#101010" opacity="1" filter="url(#bl10)"/>
<rect x="211.5" y="494.6" width="33.0" height="4.5" rx="2.2" fill="#101010" opacity="1" filter="url(#bl10)"/>
<rect x="250.0" y="495.2" width="32.0" height="4.2" rx="2.1" fill="#141414" opacity="1" filter="url(#bl10)"/>
<rect x="130.0" y="496.9" width="8.0" height="3.5" rx="1.8" fill="#1a1a1a" opacity="1" filter="url(#bl10)"/>
<rect x="168.0" y="496.9" width="8.0" height="3.5" rx="1.8" fill="#1a1a1a" opacity="1" filter="url(#bl10)"/>
<rect x="205.0" y="495.9" width="8.0" height="3.5" rx="1.8" fill="#1a1a1a" opacity="1" filter="url(#bl10)"/>
<rect x="243.0" y="495.2" width="8.0" height="3.5" rx="1.8" fill="#1a1a1a" opacity="1" filter="url(#bl10)"/>
</g>
<rect x="92.8" y="481.7" width="196.2" height="33.30000000000001" fill="none" stroke="#2a2a2a" stroke-width="1.1"/>
<rect x="309.5" y="479.6" width="197.5" height="33.39999999999998" fill="#d6d6d6"/>
<g clip-path="url(#c309_479)">

<rect x="313.5" y="494.4" width="33.0" height="4.5" rx="2.2" fill="#0c0c0c" opacity="1" filter="url(#bl10)"/>
<rect x="351.5" y="494.3" width="33.0" height="4.2" rx="2.1" fill="#101010" opacity="1" filter="url(#bl10)"/>
<rect x="389.5" y="494.3" width="33.0" height="4.2" rx="2.1" fill="#101010" opacity="1" filter="url(#bl10)"/>
<rect x="427.5" y="494.3" width="33.0" height="4.2" rx="2.1" fill="#101010" opacity="1" filter="url(#bl10)"/>
<path d="M465 494.4L497 493.45Q499 494.2 497 494.95L465 498.6Q463 496.5 465 494.4Z" fill="#141414" filter="url(#bl10)"/>
<rect x="345.0" y="494.8" width="8.0" height="3.5" rx="1.8" fill="#151515" opacity="1" filter="url(#bl10)"/>
<rect x="383.0" y="494.6" width="8.0" height="3.5" rx="1.8" fill="#151515" opacity="1" filter="url(#bl10)"/>
<rect x="421.0" y="494.6" width="8.0" height="3.5" rx="1.8" fill="#151515" opacity="1" filter="url(#bl10)"/>
<rect x="459.0" y="494.6" width="8.0" height="3.5" rx="1.8" fill="#151515" opacity="1" filter="url(#bl10)"/>
</g>
<rect x="309.5" y="479.6" width="197.5" height="33.39999999999998" fill="none" stroke="#2a2a2a" stroke-width="1.1"/>
<text x="66.34" y="320.00" font-size="11.59" fill="#000" font-weight="normal" font-family="'Liberation Sans', Arial, sans-serif" textLength="25.79" lengthAdjust="spacingAndGlyphs" stroke="#000" stroke-width="0.15">PA-1</text>
<path d="M67 323.8H92" stroke="#555" stroke-width="0.9"/>
<text x="148.19" y="304.80" font-size="13.77" fill="#000" font-weight="bold" font-family="'Liberation Sans', Arial, sans-serif" textLength="91.97" lengthAdjust="spacingAndGlyphs" stroke="#000" stroke-width="0.2">Pardaxin (µM)</text>
<path d="M130.5 308.7H254" stroke="#666" stroke-width="1"/>
<text x="106.77" y="320.60" font-size="10.29" fill="#000" font-weight="bold" font-family="'Liberation Sans', Arial, sans-serif" textLength="7.38" lengthAdjust="spacingAndGlyphs" stroke="#000" stroke-width="0.2">0</text>
<text x="141.02" y="320.60" font-size="10.29" fill="#000" font-weight="bold" font-family="'Liberation Sans', Arial, sans-serif" textLength="16.58" lengthAdjust="spacingAndGlyphs" stroke="#000" stroke-width="0.2">0.1</text>
<text x="185.83" y="320.60" font-size="10.29" fill="#000" font-weight="bold" font-family="'Liberation Sans', Arial, sans-serif" textLength="5.33" lengthAdjust="spacingAndGlyphs" stroke="#000" stroke-width="0.2">1</text>
<text x="219.59" y="320.60" font-size="10.29" fill="#000" font-weight="bold" font-family="'Liberation Sans', Arial, sans-serif" textLength="16.20" lengthAdjust="spacingAndGlyphs" stroke="#000" stroke-width="0.2">2.5</text>
<text x="261.44" y="320.60" font-size="10.29" fill="#000" font-weight="bold" font-family="'Liberation Sans', Arial, sans-serif" textLength="6.67" lengthAdjust="spacingAndGlyphs" stroke="#000" stroke-width="0.2">5</text>
<text x="291.28" y="319.50" font-size="9.52" fill="#000" font-weight="normal" font-family="'Liberation Sans', Arial, sans-serif" textLength="17.06" lengthAdjust="spacingAndGlyphs" stroke="#000" stroke-width="0.1">kDa</text>
<path d="M291.5 322.6H309" stroke="#555" stroke-width="0.9"/>
<text x="372.70" y="302.50" font-size="13.77" fill="#000" font-weight="bold" font-family="'Liberation Sans', Arial, sans-serif" textLength="91.26" lengthAdjust="spacingAndGlyphs" stroke="#000" stroke-width="0.2">Pardaxin (µM)</text>
<path d="M355.4 306.6H477.5" stroke="#666" stroke-width="1"/>
<text x="332.14" y="320.20" font-size="10.43" fill="#000" font-weight="bold" font-family="'Liberation Sans', Arial, sans-serif" textLength="6.44" lengthAdjust="spacingAndGlyphs" stroke="#000" stroke-width="0.2">0</text>
<text x="363.66" y="320.20" font-size="10.43" fill="#000" font-weight="bold" font-family="'Liberation Sans', Arial, sans-serif" textLength="15.21" lengthAdjust="spacingAndGlyphs" stroke="#000" stroke-width="0.2">0.1</text>
<text x="408.53" y="320.20" font-size="10.43" fill="#000" font-weight="bold" font-family="'Liberation Sans', Arial, sans-serif" textLength="5.33" lengthAdjust="spacingAndGlyphs" stroke="#000" stroke-width="0.2">1</text>
<text x="442.30" y="320.20" font-size="10.43" fill="#000" font-weight="bold" font-family="'Liberation Sans', Arial, sans-serif" textLength="15.78" lengthAdjust="spacingAndGlyphs" stroke="#000" stroke-width="0.2">2.5</text>
<text x="483.47" y="320.20" font-size="10.43" fill="#000" font-weight="bold" font-family="'Liberation Sans', Arial, sans-serif" textLength="6.12" lengthAdjust="spacingAndGlyphs" stroke="#000" stroke-width="0.2">5</text>
<text x="509.10" y="320.40" font-size="10.86" fill="#000" font-weight="normal" font-family="'Liberation Sans', Arial, sans-serif" textLength="37.25" lengthAdjust="spacingAndGlyphs" stroke="#000" stroke-width="0.15">SKOV3</text>
<path d="M509.4 324.1H546.4" stroke="#555" stroke-width="0.9"/>
<text x="62.35" y="334.80" font-size="10.00" fill="#000" font-weight="bold" font-family="'Liberation Sans', Arial, sans-serif" textLength="24.95" lengthAdjust="spacingAndGlyphs" stroke="#000" stroke-width="0.15">LC3-I</text>
<text x="62.35" y="349.70" font-size="10.00" fill="#000" font-weight="bold" font-family="'Liberation Sans', Arial, sans-serif" textLength="27.94" lengthAdjust="spacingAndGlyphs" stroke="#000" stroke-width="0.15">LC3-II</text>
<text x="67.06" y="399.00" font-size="10.71" fill="#000" font-weight="bold" font-family="'Liberation Sans', Arial, sans-serif" textLength="19.53" lengthAdjust="spacingAndGlyphs" stroke="#000" stroke-width="0.15">p62</text>
<text x="58.93" y="450.80" font-size="9.71" fill="#000" font-weight="bold" font-family="'Liberation Sans', Arial, sans-serif" textLength="30.79" lengthAdjust="spacingAndGlyphs" stroke="#000" stroke-width="0.15">Beclin</text>
<text x="53.34" y="501.50" font-size="12.77" fill="#000" font-weight="bold" font-family="'Liberation Serif', 'Times New Roman', serif" textLength="5.39" lengthAdjust="spacingAndGlyphs" stroke="#000" stroke-width="0.25">β</text>
<text x="58.54" y="501.50" font-size="9.44" fill="#000" font-weight="bold" font-family="'Liberation Sans', Arial, sans-serif" textLength="30.57" lengthAdjust="spacingAndGlyphs" stroke="#000" stroke-width="0.15">-actin</text>
<text x="40.64" y="377.70" font-size="8.70" fill="#000" font-weight="bold" font-family="'Liberation Sans', Arial, sans-serif" textLength="50.46" lengthAdjust="spacingAndGlyphs" stroke="#000" stroke-width="0.15">LC-3 II/LC3-I</text>
<text x="42.19" y="425.60" font-size="7.43" fill="#000" font-weight="bold" font-family="'Liberation Sans', Arial, sans-serif" textLength="49.46" lengthAdjust="spacingAndGlyphs" stroke="#000" stroke-width="0.15">p62/β-actin</text>
<text x="32.71" y="474.20" font-size="8.26" fill="#000" font-weight="bold" font-family="'Liberation Sans', Arial, sans-serif" textLength="59.04" lengthAdjust="spacingAndGlyphs" stroke="#000" stroke-width="0.15">Beclin/β-actin</text>
<text x="292.08" y="337.50" font-size="9.09" fill="#111" font-weight="normal" font-family="'Liberation Serif', 'Times New Roman', serif" textLength="15.04" lengthAdjust="spacingAndGlyphs" stroke="#111" stroke-width="0.2">-17-</text>
<text x="292.08" y="352.60" font-size="9.09" fill="#111" font-weight="normal" font-family="'Liberation Serif', 'Times New Roman', serif" textLength="15.04" lengthAdjust="spacingAndGlyphs" stroke="#111" stroke-width="0.2">-14-</text>
<text x="293.59" y="396.60" font-size="9.70" fill="#111" font-weight="normal" font-family="'Liberation Serif', 'Times New Roman', serif" textLength="14.62" lengthAdjust="spacingAndGlyphs" stroke="#111" stroke-width="0.2">-62-</text>
<text x="293.79" y="451.70" font-size="8.48" fill="#111" font-weight="normal" font-family="'Liberation Serif', 'Times New Roman', serif" textLength="14.83" lengthAdjust="spacingAndGlyphs" stroke="#111" stroke-width="0.2">-54-</text>
<text x="293.79" y="498.70" font-size="8.48" fill="#111" font-weight="normal" font-family="'Liberation Serif', 'Times New Roman', serif" textLength="14.83" lengthAdjust="spacingAndGlyphs" stroke="#111" stroke-width="0.2">-43-</text>
<text x="95.00" y="379.6" font-size="10.0" font-weight="bold" font-family="'Liberation Serif', 'Times New Roman', serif" stroke="#000" stroke-width="0.15">1.0±0.1</text>
<text x="132.90" y="379.6" font-size="10.0" font-weight="bold" font-family="'Liberation Serif', 'Times New Roman', serif" stroke="#000" stroke-width="0.15">0.8±0.1</text>
<text x="169.40" y="379.6" font-size="10.0" font-weight="bold" font-family="'Liberation Serif', 'Times New Roman', serif" stroke="#000" stroke-width="0.15">1.2±0.0</text>
<text x="200.29" y="376.30" font-size="6.5" font-weight="bold" font-family="'Liberation Serif', 'Times New Roman', serif">*</text>
<text x="209.20" y="379.6" font-size="10.0" font-weight="bold" font-family="'Liberation Serif', 'Times New Roman', serif" stroke="#000" stroke-width="0.15">1.4±0.1</text>
<text x="240.09" y="376.30" font-size="6.5" font-weight="bold" font-family="'Liberation Serif', 'Times New Roman', serif">**</text>
<text x="251.40" y="379.6" font-size="10.0" font-weight="bold" font-family="'Liberation Serif', 'Times New Roman', serif" stroke="#000" stroke-width="0.15">2.5±0.1</text>
<text x="282.29" y="376.30" font-size="6.5" font-weight="bold" font-family="'Liberation Serif', 'Times New Roman', serif">**</text>
<text x="312.20" y="379.6" font-size="10.0" font-weight="bold" font-family="'Liberation Serif', 'Times New Roman', serif" stroke="#000" stroke-width="0.15">1.0±1.2</text>
<text x="345.20" y="379.6" font-size="10.0" font-weight="bold" font-family="'Liberation Serif', 'Times New Roman', serif" stroke="#000" stroke-width="0.15">10.9±1.3</text>
<text x="381.09" y="376.30" font-size="6.5" font-weight="bold" font-family="'Liberation Serif', 'Times New Roman', serif">**</text>
<text x="385.90" y="379.6" font-size="10.0" font-weight="bold" font-family="'Liberation Serif', 'Times New Roman', serif" stroke="#000" stroke-width="0.15">11.1±0.5</text>
<text x="421.24" y="376.30" font-size="6.5" font-weight="bold" font-family="'Liberation Serif', 'Times New Roman', serif">**</text>
<text x="426.60" y="379.6" font-size="10.0" font-weight="bold" font-family="'Liberation Serif', 'Times New Roman', serif" stroke="#000" stroke-width="0.15">12.6±1.3</text>
<text x="462.49" y="376.30" font-size="6.5" font-weight="bold" font-family="'Liberation Serif', 'Times New Roman', serif">**</text>
<text x="466.60" y="379.6" font-size="10.0" font-weight="bold" font-family="'Liberation Serif', 'Times New Roman', serif" stroke="#000" stroke-width="0.15">17.1±1.4</text>
<text x="502.49" y="376.30" font-size="6.5" font-weight="bold" font-family="'Liberation Serif', 'Times New Roman', serif">**</text>
<text x="98.40" y="428.2" font-size="10.0" font-weight="bold" font-family="'Liberation Serif', 'Times New Roman', serif" stroke="#000" stroke-width="0.15">1.0±0.1</text>
<text x="136.00" y="428.2" font-size="10.0" font-weight="bold" font-family="'Liberation Serif', 'Times New Roman', serif" stroke="#000" stroke-width="0.15">1.3±0.1</text>
<text x="166.89" y="424.90" font-size="6.5" font-weight="bold" font-family="'Liberation Serif', 'Times New Roman', serif">*</text>
<text x="174.10" y="428.2" font-size="10.0" font-weight="bold" font-family="'Liberation Serif', 'Times New Roman', serif" stroke="#000" stroke-width="0.15">1.3±0.0</text>
<text x="204.99" y="424.90" font-size="6.5" font-weight="bold" font-family="'Liberation Serif', 'Times New Roman', serif">*</text>
<text x="211.10" y="428.2" font-size="10.0" font-weight="bold" font-family="'Liberation Serif', 'Times New Roman', serif" stroke="#000" stroke-width="0.15">1.7±0.1</text>
<text x="241.99" y="424.90" font-size="6.5" font-weight="bold" font-family="'Liberation Serif', 'Times New Roman', serif">**</text>
<text x="250.35" y="428.2" font-size="10.0" font-weight="bold" font-family="'Liberation Serif', 'Times New Roman', serif" stroke="#000" stroke-width="0.15">6.9±0.4</text>
<text x="281.24" y="424.90" font-size="6.5" font-weight="bold" font-family="'Liberation Serif', 'Times New Roman', serif">**</text>
<text x="314.10" y="428.4" font-size="10.0" font-weight="bold" font-family="'Liberation Serif', 'Times New Roman', serif" stroke="#000" stroke-width="0.15">1.0±0.1</text>
<text x="351.90" y="428.4" font-size="10.0" font-weight="bold" font-family="'Liberation Serif', 'Times New Roman', serif" stroke="#000" stroke-width="0.15">1.0±0.1</text>
<text x="390.50" y="428.4" font-size="10.0" font-weight="bold" font-family="'Liberation Serif', 'Times New Roman', serif" stroke="#000" stroke-width="0.15">1.5±0.1</text>
<text x="421.39" y="425.10" font-size="6.5" font-weight="bold" font-family="'Liberation Serif', 'Times New Roman', serif">*</text>
<text x="426.70" y="428.4" font-size="10.0" font-weight="bold" font-family="'Liberation Serif', 'Times New Roman', serif" stroke="#000" stroke-width="0.15">1.9±0.2</text>
<text x="457.59" y="425.10" font-size="6.5" font-weight="bold" font-family="'Liberation Serif', 'Times New Roman', serif">**</text>
<text x="466.85" y="428.4" font-size="10.0" font-weight="bold" font-family="'Liberation Serif', 'Times New Roman', serif" stroke="#000" stroke-width="0.15">4.6±0.2</text>
<text x="497.74" y="425.10" font-size="6.5" font-weight="bold" font-family="'Liberation Serif', 'Times New Roman', serif">**</text>
<text x="99.10" y="475.8" font-size="10.0" font-weight="bold" font-family="'Liberation Serif', 'Times New Roman', serif" stroke="#000" stroke-width="0.15">1.0±0.1</text>
<text x="136.90" y="475.8" font-size="10.0" font-weight="bold" font-family="'Liberation Serif', 'Times New Roman', serif" stroke="#000" stroke-width="0.15">2.0±0.2</text>
<text x="167.79" y="472.50" font-size="6.5" font-weight="bold" font-family="'Liberation Serif', 'Times New Roman', serif">*</text>
<text x="176.40" y="475.8" font-size="10.0" font-weight="bold" font-family="'Liberation Serif', 'Times New Roman', serif" stroke="#000" stroke-width="0.15">2.0±0.2</text>
<text x="207.29" y="472.50" font-size="6.5" font-weight="bold" font-family="'Liberation Serif', 'Times New Roman', serif">*</text>
<text x="214.40" y="475.8" font-size="10.0" font-weight="bold" font-family="'Liberation Serif', 'Times New Roman', serif" stroke="#000" stroke-width="0.15">2.2±0.3</text>
<text x="245.29" y="472.50" font-size="6.5" font-weight="bold" font-family="'Liberation Serif', 'Times New Roman', serif">*</text>
<text x="252.60" y="475.8" font-size="10.0" font-weight="bold" font-family="'Liberation Serif', 'Times New Roman', serif" stroke="#000" stroke-width="0.15">5.2±0.5</text>
<text x="283.49" y="472.50" font-size="6.5" font-weight="bold" font-family="'Liberation Serif', 'Times New Roman', serif">**</text>
<text x="314.10" y="475.4" font-size="10.0" font-weight="bold" font-family="'Liberation Serif', 'Times New Roman', serif" stroke="#000" stroke-width="0.15">1.0±0.1</text>
<text x="352.30" y="475.4" font-size="10.0" font-weight="bold" font-family="'Liberation Serif', 'Times New Roman', serif" stroke="#000" stroke-width="0.15">0.9±0.1</text>
<text x="390.50" y="475.4" font-size="10.0" font-weight="bold" font-family="'Liberation Serif', 'Times New Roman', serif" stroke="#000" stroke-width="0.15">0.9±0.1</text>
<text x="429.40" y="475.4" font-size="10.0" font-weight="bold" font-family="'Liberation Serif', 'Times New Roman', serif" stroke="#000" stroke-width="0.15">0.9±0.1</text>
<text x="466.85" y="475.4" font-size="10.0" font-weight="bold" font-family="'Liberation Serif', 'Times New Roman', serif" stroke="#000" stroke-width="0.15">4.3±0.3</text>
<text x="497.74" y="472.10" font-size="6.5" font-weight="bold" font-family="'Liberation Serif', 'Times New Roman', serif">**</text></svg></body></html>
